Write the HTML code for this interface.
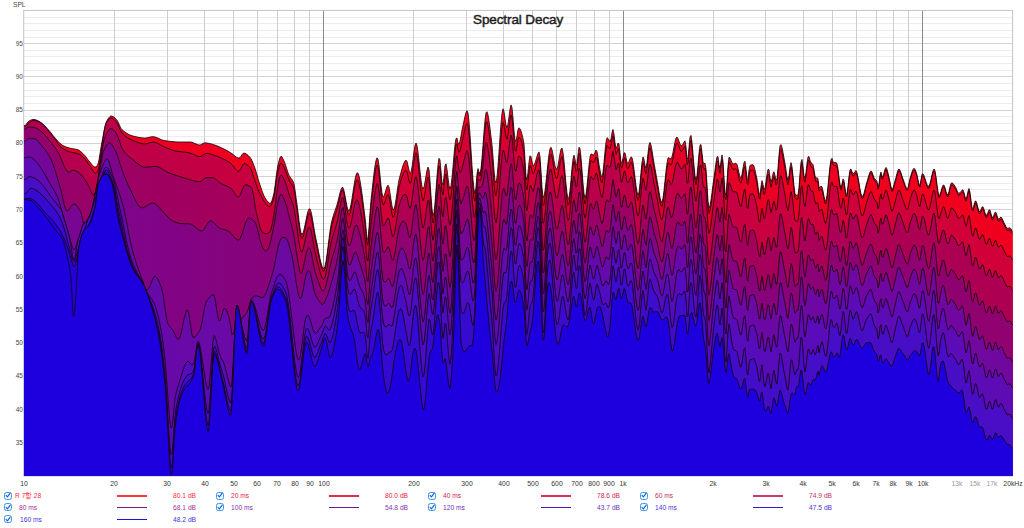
<!DOCTYPE html>
<html><head><meta charset="utf-8"><style>
html,body{margin:0;padding:0;background:#fff;width:1024px;height:528px;overflow:hidden}
body{position:relative}
</style></head><body>
<svg width="1024" height="528" viewBox="0 0 1024 528" style="position:absolute;left:0;top:0">
<defs><clipPath id="pc"><rect x="24.2" y="10.4" width="988.4" height="465.6"/></clipPath>
<linearGradient id="g0" gradientUnits="userSpaceOnUse" x1="24" y1="0" x2="1012" y2="0"><stop offset="0.000" stop-color="#e70026"/><stop offset="0.087" stop-color="#eb0023"/><stop offset="0.229" stop-color="#ee0020"/><stop offset="0.583" stop-color="#f0001e"/><stop offset="0.836" stop-color="#f0001e"/><stop offset="1.000" stop-color="#f0001e"/></linearGradient>
<linearGradient id="g1" gradientUnits="userSpaceOnUse" x1="24" y1="0" x2="1012" y2="0"><stop offset="0.000" stop-color="#ad0053"/><stop offset="0.087" stop-color="#bc0049"/><stop offset="0.229" stop-color="#c70040"/><stop offset="0.583" stop-color="#dd002f"/><stop offset="0.836" stop-color="#ef001f"/><stop offset="1.000" stop-color="#f0001e"/></linearGradient>
<linearGradient id="g2" gradientUnits="userSpaceOnUse" x1="24" y1="0" x2="1012" y2="0"><stop offset="0.000" stop-color="#8f026f"/><stop offset="0.087" stop-color="#9b0164"/><stop offset="0.229" stop-color="#a5005b"/><stop offset="0.583" stop-color="#ba004a"/><stop offset="0.836" stop-color="#cf003b"/><stop offset="1.000" stop-color="#d10039"/></linearGradient>
<linearGradient id="g3" gradientUnits="userSpaceOnUse" x1="24" y1="0" x2="1012" y2="0"><stop offset="0.000" stop-color="#71089e"/><stop offset="0.087" stop-color="#7d058b"/><stop offset="0.229" stop-color="#87037c"/><stop offset="0.583" stop-color="#9a0165"/><stop offset="0.836" stop-color="#ab0055"/><stop offset="1.000" stop-color="#ad0053"/></linearGradient>
<linearGradient id="g4" gradientUnits="userSpaceOnUse" x1="24" y1="0" x2="1012" y2="0"><stop offset="0.000" stop-color="#5d0cb5"/><stop offset="0.087" stop-color="#650aac"/><stop offset="0.229" stop-color="#6b09a5"/><stop offset="0.583" stop-color="#7c068d"/><stop offset="0.836" stop-color="#8d0272"/><stop offset="1.000" stop-color="#8f026f"/></linearGradient>
<linearGradient id="g5" gradientUnits="userSpaceOnUse" x1="24" y1="0" x2="1012" y2="0"><stop offset="0.000" stop-color="#490ec5"/><stop offset="0.087" stop-color="#510dbf"/><stop offset="0.229" stop-color="#570cba"/><stop offset="0.583" stop-color="#640aad"/><stop offset="0.836" stop-color="#6f08a1"/><stop offset="1.000" stop-color="#71089e"/></linearGradient>
<linearGradient id="g6" gradientUnits="userSpaceOnUse" x1="24" y1="0" x2="1012" y2="0"><stop offset="0.000" stop-color="#350ad2"/><stop offset="0.087" stop-color="#3d0ccd"/><stop offset="0.229" stop-color="#430dc9"/><stop offset="0.583" stop-color="#500dc0"/><stop offset="0.836" stop-color="#5b0cb7"/><stop offset="1.000" stop-color="#5d0cb5"/></linearGradient>
<linearGradient id="g7" gradientUnits="userSpaceOnUse" x1="24" y1="0" x2="1012" y2="0"><stop offset="0.000" stop-color="#1f00de"/><stop offset="0.087" stop-color="#2804d9"/><stop offset="0.229" stop-color="#2f08d5"/><stop offset="0.583" stop-color="#3c0ccd"/><stop offset="0.836" stop-color="#470ec6"/><stop offset="1.000" stop-color="#490ec5"/></linearGradient>
<linearGradient id="g8" gradientUnits="userSpaceOnUse" x1="24" y1="0" x2="1012" y2="0"><stop offset="0.000" stop-color="#1e00de"/><stop offset="0.087" stop-color="#1e00de"/><stop offset="0.229" stop-color="#1e00de"/><stop offset="0.583" stop-color="#1e00de"/><stop offset="0.836" stop-color="#1e00de"/><stop offset="1.000" stop-color="#1e00de"/></linearGradient>
</defs>
<g shape-rendering="crispEdges"><line x1="24.2" x2="1012.6" y1="469.35" y2="469.35" stroke="#ececec" stroke-width="1"/><line x1="24.2" x2="1012.6" y1="462.70" y2="462.70" stroke="#ececec" stroke-width="1"/><line x1="24.2" x2="1012.6" y1="456.05" y2="456.05" stroke="#ececec" stroke-width="1"/><line x1="24.2" x2="1012.6" y1="449.39" y2="449.39" stroke="#ececec" stroke-width="1"/><line x1="24.2" x2="1012.6" y1="442.74" y2="442.74" stroke="#d2d2d2" stroke-width="1"/><line x1="24.2" x2="1012.6" y1="436.09" y2="436.09" stroke="#ececec" stroke-width="1"/><line x1="24.2" x2="1012.6" y1="429.44" y2="429.44" stroke="#ececec" stroke-width="1"/><line x1="24.2" x2="1012.6" y1="422.79" y2="422.79" stroke="#ececec" stroke-width="1"/><line x1="24.2" x2="1012.6" y1="416.14" y2="416.14" stroke="#ececec" stroke-width="1"/><line x1="24.2" x2="1012.6" y1="409.49" y2="409.49" stroke="#d2d2d2" stroke-width="1"/><line x1="24.2" x2="1012.6" y1="402.83" y2="402.83" stroke="#ececec" stroke-width="1"/><line x1="24.2" x2="1012.6" y1="396.18" y2="396.18" stroke="#ececec" stroke-width="1"/><line x1="24.2" x2="1012.6" y1="389.53" y2="389.53" stroke="#ececec" stroke-width="1"/><line x1="24.2" x2="1012.6" y1="382.88" y2="382.88" stroke="#ececec" stroke-width="1"/><line x1="24.2" x2="1012.6" y1="376.23" y2="376.23" stroke="#d2d2d2" stroke-width="1"/><line x1="24.2" x2="1012.6" y1="369.58" y2="369.58" stroke="#ececec" stroke-width="1"/><line x1="24.2" x2="1012.6" y1="362.93" y2="362.93" stroke="#ececec" stroke-width="1"/><line x1="24.2" x2="1012.6" y1="356.27" y2="356.27" stroke="#ececec" stroke-width="1"/><line x1="24.2" x2="1012.6" y1="349.62" y2="349.62" stroke="#ececec" stroke-width="1"/><line x1="24.2" x2="1012.6" y1="342.97" y2="342.97" stroke="#d2d2d2" stroke-width="1"/><line x1="24.2" x2="1012.6" y1="336.32" y2="336.32" stroke="#ececec" stroke-width="1"/><line x1="24.2" x2="1012.6" y1="329.67" y2="329.67" stroke="#ececec" stroke-width="1"/><line x1="24.2" x2="1012.6" y1="323.02" y2="323.02" stroke="#ececec" stroke-width="1"/><line x1="24.2" x2="1012.6" y1="316.37" y2="316.37" stroke="#ececec" stroke-width="1"/><line x1="24.2" x2="1012.6" y1="309.71" y2="309.71" stroke="#d2d2d2" stroke-width="1"/><line x1="24.2" x2="1012.6" y1="303.06" y2="303.06" stroke="#ececec" stroke-width="1"/><line x1="24.2" x2="1012.6" y1="296.41" y2="296.41" stroke="#ececec" stroke-width="1"/><line x1="24.2" x2="1012.6" y1="289.76" y2="289.76" stroke="#ececec" stroke-width="1"/><line x1="24.2" x2="1012.6" y1="283.11" y2="283.11" stroke="#ececec" stroke-width="1"/><line x1="24.2" x2="1012.6" y1="276.46" y2="276.46" stroke="#d2d2d2" stroke-width="1"/><line x1="24.2" x2="1012.6" y1="269.81" y2="269.81" stroke="#ececec" stroke-width="1"/><line x1="24.2" x2="1012.6" y1="263.15" y2="263.15" stroke="#ececec" stroke-width="1"/><line x1="24.2" x2="1012.6" y1="256.50" y2="256.50" stroke="#ececec" stroke-width="1"/><line x1="24.2" x2="1012.6" y1="249.85" y2="249.85" stroke="#ececec" stroke-width="1"/><line x1="24.2" x2="1012.6" y1="243.20" y2="243.20" stroke="#d2d2d2" stroke-width="1"/><line x1="24.2" x2="1012.6" y1="236.55" y2="236.55" stroke="#ececec" stroke-width="1"/><line x1="24.2" x2="1012.6" y1="229.90" y2="229.90" stroke="#ececec" stroke-width="1"/><line x1="24.2" x2="1012.6" y1="223.25" y2="223.25" stroke="#ececec" stroke-width="1"/><line x1="24.2" x2="1012.6" y1="216.59" y2="216.59" stroke="#ececec" stroke-width="1"/><line x1="24.2" x2="1012.6" y1="209.94" y2="209.94" stroke="#d2d2d2" stroke-width="1"/><line x1="24.2" x2="1012.6" y1="203.29" y2="203.29" stroke="#ececec" stroke-width="1"/><line x1="24.2" x2="1012.6" y1="196.64" y2="196.64" stroke="#ececec" stroke-width="1"/><line x1="24.2" x2="1012.6" y1="189.99" y2="189.99" stroke="#ececec" stroke-width="1"/><line x1="24.2" x2="1012.6" y1="183.34" y2="183.34" stroke="#ececec" stroke-width="1"/><line x1="24.2" x2="1012.6" y1="176.69" y2="176.69" stroke="#d2d2d2" stroke-width="1"/><line x1="24.2" x2="1012.6" y1="170.03" y2="170.03" stroke="#ececec" stroke-width="1"/><line x1="24.2" x2="1012.6" y1="163.38" y2="163.38" stroke="#ececec" stroke-width="1"/><line x1="24.2" x2="1012.6" y1="156.73" y2="156.73" stroke="#ececec" stroke-width="1"/><line x1="24.2" x2="1012.6" y1="150.08" y2="150.08" stroke="#ececec" stroke-width="1"/><line x1="24.2" x2="1012.6" y1="143.43" y2="143.43" stroke="#d2d2d2" stroke-width="1"/><line x1="24.2" x2="1012.6" y1="136.78" y2="136.78" stroke="#ececec" stroke-width="1"/><line x1="24.2" x2="1012.6" y1="130.13" y2="130.13" stroke="#ececec" stroke-width="1"/><line x1="24.2" x2="1012.6" y1="123.47" y2="123.47" stroke="#ececec" stroke-width="1"/><line x1="24.2" x2="1012.6" y1="116.82" y2="116.82" stroke="#ececec" stroke-width="1"/><line x1="24.2" x2="1012.6" y1="110.17" y2="110.17" stroke="#d2d2d2" stroke-width="1"/><line x1="24.2" x2="1012.6" y1="103.52" y2="103.52" stroke="#ececec" stroke-width="1"/><line x1="24.2" x2="1012.6" y1="96.87" y2="96.87" stroke="#ececec" stroke-width="1"/><line x1="24.2" x2="1012.6" y1="90.22" y2="90.22" stroke="#ececec" stroke-width="1"/><line x1="24.2" x2="1012.6" y1="83.57" y2="83.57" stroke="#ececec" stroke-width="1"/><line x1="24.2" x2="1012.6" y1="76.91" y2="76.91" stroke="#d2d2d2" stroke-width="1"/><line x1="24.2" x2="1012.6" y1="70.26" y2="70.26" stroke="#ececec" stroke-width="1"/><line x1="24.2" x2="1012.6" y1="63.61" y2="63.61" stroke="#ececec" stroke-width="1"/><line x1="24.2" x2="1012.6" y1="56.96" y2="56.96" stroke="#ececec" stroke-width="1"/><line x1="24.2" x2="1012.6" y1="50.31" y2="50.31" stroke="#ececec" stroke-width="1"/><line x1="24.2" x2="1012.6" y1="43.66" y2="43.66" stroke="#d2d2d2" stroke-width="1"/><line x1="24.2" x2="1012.6" y1="37.01" y2="37.01" stroke="#ececec" stroke-width="1"/><line x1="24.2" x2="1012.6" y1="30.35" y2="30.35" stroke="#ececec" stroke-width="1"/><line x1="24.2" x2="1012.6" y1="23.70" y2="23.70" stroke="#ececec" stroke-width="1"/><line x1="24.2" x2="1012.6" y1="17.05" y2="17.05" stroke="#ececec" stroke-width="1"/><line x1="114.33" x2="114.33" y1="10.4" y2="476.0" stroke="#cdcdcd" stroke-width="1"/><line x1="167.06" x2="167.06" y1="10.4" y2="476.0" stroke="#cdcdcd" stroke-width="1"/><line x1="204.47" x2="204.47" y1="10.4" y2="476.0" stroke="#cdcdcd" stroke-width="1"/><line x1="233.49" x2="233.49" y1="10.4" y2="476.0" stroke="#cdcdcd" stroke-width="1"/><line x1="257.20" x2="257.20" y1="10.4" y2="476.0" stroke="#cdcdcd" stroke-width="1"/><line x1="277.24" x2="277.24" y1="10.4" y2="476.0" stroke="#cdcdcd" stroke-width="1"/><line x1="294.60" x2="294.60" y1="10.4" y2="476.0" stroke="#cdcdcd" stroke-width="1"/><line x1="309.92" x2="309.92" y1="10.4" y2="476.0" stroke="#cdcdcd" stroke-width="1"/><line x1="323.62" x2="323.62" y1="10.4" y2="476.0" stroke="#8a8a8a" stroke-width="1"/><line x1="413.76" x2="413.76" y1="10.4" y2="476.0" stroke="#cdcdcd" stroke-width="1"/><line x1="466.48" x2="466.48" y1="10.4" y2="476.0" stroke="#cdcdcd" stroke-width="1"/><line x1="503.89" x2="503.89" y1="10.4" y2="476.0" stroke="#cdcdcd" stroke-width="1"/><line x1="532.91" x2="532.91" y1="10.4" y2="476.0" stroke="#cdcdcd" stroke-width="1"/><line x1="556.62" x2="556.62" y1="10.4" y2="476.0" stroke="#cdcdcd" stroke-width="1"/><line x1="576.66" x2="576.66" y1="10.4" y2="476.0" stroke="#cdcdcd" stroke-width="1"/><line x1="594.03" x2="594.03" y1="10.4" y2="476.0" stroke="#cdcdcd" stroke-width="1"/><line x1="609.34" x2="609.34" y1="10.4" y2="476.0" stroke="#cdcdcd" stroke-width="1"/><line x1="623.04" x2="623.04" y1="10.4" y2="476.0" stroke="#8a8a8a" stroke-width="1"/><line x1="713.18" x2="713.18" y1="10.4" y2="476.0" stroke="#cdcdcd" stroke-width="1"/><line x1="765.90" x2="765.90" y1="10.4" y2="476.0" stroke="#cdcdcd" stroke-width="1"/><line x1="803.31" x2="803.31" y1="10.4" y2="476.0" stroke="#cdcdcd" stroke-width="1"/><line x1="832.33" x2="832.33" y1="10.4" y2="476.0" stroke="#cdcdcd" stroke-width="1"/><line x1="856.04" x2="856.04" y1="10.4" y2="476.0" stroke="#cdcdcd" stroke-width="1"/><line x1="876.08" x2="876.08" y1="10.4" y2="476.0" stroke="#cdcdcd" stroke-width="1"/><line x1="893.45" x2="893.45" y1="10.4" y2="476.0" stroke="#cdcdcd" stroke-width="1"/><line x1="908.76" x2="908.76" y1="10.4" y2="476.0" stroke="#cdcdcd" stroke-width="1"/><line x1="922.47" x2="922.47" y1="10.4" y2="476.0" stroke="#8a8a8a" stroke-width="1"/></g>
<rect x="23.7" y="10.4" width="988.9" height="465.6" fill="none" stroke="#c4c4c4" stroke-width="1"/>
<g clip-path="url(#pc)" stroke="#140008" stroke-opacity="0.88" stroke-width="0.9" stroke-linejoin="round"><path d="M18 482 L18.0 125.8 19.0 125.8 20.0 125.8 21.0 125.8 22.0 125.8 23.0 125.8 24.0 125.8 25.0 125.5 26.0 124.5 27.0 123.2 28.0 121.9 29.0 121.0 30.0 120.5 31.0 120.0 32.0 119.7 33.0 119.4 34.0 119.4 35.0 119.6 36.0 119.9 37.0 120.3 38.0 120.8 39.0 121.3 40.0 121.9 41.0 122.5 42.0 123.3 43.0 124.1 44.0 125.1 45.0 126.1 46.0 127.1 47.0 128.2 48.0 129.3 49.0 130.4 50.0 131.6 51.0 132.9 52.0 134.2 53.0 135.5 54.0 136.7 55.0 137.8 56.0 139.0 57.0 140.1 58.0 141.2 59.0 142.3 60.0 143.3 61.0 144.2 62.0 145.0 63.0 145.5 64.0 146.0 65.0 146.5 66.0 146.9 67.0 147.3 68.0 147.6 69.0 147.9 70.0 148.2 71.0 148.4 72.0 148.6 73.0 148.8 74.0 148.9 75.0 149.1 76.0 149.3 77.0 149.5 78.0 149.8 79.0 150.3 80.0 151.0 81.0 151.8 82.0 152.7 83.0 153.6 84.0 154.6 85.0 155.7 86.0 157.0 87.0 158.3 88.0 159.7 89.0 161.0 90.0 162.1 91.0 163.4 92.0 164.7 93.0 165.9 94.0 166.8 95.0 167.1 96.0 166.8 97.0 165.9 98.0 164.0 99.0 159.6 100.0 153.6 101.0 147.3 102.0 141.9 103.0 136.6 104.0 131.1 105.0 126.2 106.0 122.6 107.0 120.6 108.0 118.9 109.0 117.5 110.0 116.5 111.0 116.0 112.0 116.1 113.0 116.5 114.0 117.2 115.0 118.1 116.0 119.1 117.0 120.2 118.0 121.8 119.0 124.0 120.0 126.3 121.0 128.4 122.0 129.6 123.0 130.5 124.0 131.3 125.0 132.1 126.0 132.8 127.0 133.4 128.0 134.0 129.0 134.5 130.0 135.0 131.0 135.4 132.0 135.7 133.0 136.0 134.0 136.3 135.0 136.5 136.0 136.7 137.0 137.0 138.0 137.2 139.0 137.4 140.0 137.6 141.0 137.7 142.0 137.8 143.0 137.9 144.0 138.0 145.0 138.0 146.0 137.9 147.0 137.8 148.0 137.6 149.0 137.3 150.0 137.1 151.0 136.9 152.0 136.7 153.0 136.7 154.0 136.8 155.0 137.0 156.0 137.3 157.0 137.7 158.0 138.1 159.0 138.6 160.0 139.0 161.0 139.5 162.0 139.9 163.0 140.2 164.0 140.5 165.0 140.7 166.0 140.8 167.0 140.9 168.0 141.1 169.0 141.2 170.0 141.3 171.0 141.4 172.0 141.6 173.0 141.6 174.0 141.7 175.0 141.8 176.0 141.9 177.0 141.9 178.0 142.0 179.0 142.0 180.0 142.0 181.0 142.0 182.0 142.0 183.0 142.0 184.0 142.0 185.0 142.0 186.0 142.0 187.0 142.0 188.0 142.0 189.0 142.0 190.0 142.0 191.0 142.1 192.0 142.3 193.0 142.7 194.0 143.1 195.0 143.5 196.0 144.0 197.0 144.4 198.0 144.7 199.0 144.9 200.0 145.0 201.0 144.7 202.0 144.1 203.0 143.4 204.0 142.9 205.0 142.8 206.0 142.9 207.0 143.0 208.0 143.2 209.0 143.4 210.0 143.6 211.0 143.9 212.0 144.2 213.0 144.5 214.0 144.8 215.0 145.1 216.0 145.5 217.0 145.8 218.0 146.2 219.0 146.7 220.0 147.1 221.0 147.6 222.0 148.1 223.0 148.6 224.0 149.0 225.0 149.6 226.0 150.1 227.0 150.6 228.0 151.2 229.0 151.8 230.0 152.4 231.0 153.0 232.0 153.6 233.0 154.4 234.0 155.2 235.0 156.1 236.0 156.9 237.0 157.5 238.0 157.9 239.0 158.1 240.0 157.5 241.0 156.2 242.0 154.6 243.0 153.4 244.0 153.1 245.0 153.3 246.0 153.8 247.0 154.5 248.0 155.3 249.0 156.3 250.0 157.3 251.0 158.7 252.0 160.7 253.0 163.1 254.0 165.7 255.0 168.3 256.0 171.5 257.0 175.0 258.0 178.5 259.0 181.9 260.0 184.9 261.0 187.8 262.0 190.7 263.0 193.4 264.0 195.8 265.0 197.8 266.0 199.3 267.0 200.7 268.0 202.0 269.0 202.9 270.0 203.4 271.0 202.8 272.0 200.4 273.0 197.0 274.0 192.8 275.0 186.1 276.0 178.1 277.0 170.5 278.0 164.8 279.0 160.9 280.0 157.6 281.0 156.2 282.0 157.0 283.0 158.9 284.0 161.1 285.0 163.4 286.0 166.4 287.0 169.6 288.0 172.8 289.0 175.3 290.0 177.0 291.0 178.3 292.0 179.6 293.0 181.2 294.0 183.9 295.0 189.8 296.0 197.3 297.0 204.2 298.0 212.1 299.0 220.4 300.0 227.6 301.0 232.7 302.0 234.4 303.0 232.9 304.0 229.6 305.0 225.0 306.0 220.0 307.0 215.1 308.0 211.2 309.0 208.9 310.0 209.0 311.0 211.6 312.0 216.1 313.0 221.9 314.0 228.1 315.0 234.0 316.0 239.0 317.0 243.6 318.0 248.6 319.0 253.7 320.0 258.6 321.0 262.8 322.0 266.2 323.0 268.2 324.0 268.6 325.0 266.2 326.0 261.3 327.0 254.5 328.0 246.7 329.0 238.7 330.0 231.1 331.0 224.8 332.0 220.3 333.0 216.8 334.0 213.6 335.0 210.7 336.0 207.7 337.0 204.7 338.0 201.0 339.0 196.9 340.0 192.8 341.0 189.4 342.0 187.5 343.0 187.6 344.0 190.7 345.0 195.6 346.0 201.2 347.0 206.4 348.0 210.1 349.0 210.9 350.0 208.8 351.0 204.4 352.0 198.6 353.0 192.0 354.0 185.4 355.0 179.5 356.0 175.1 357.0 172.8 358.0 173.3 359.0 176.0 360.0 180.6 361.0 186.6 362.0 193.6 363.0 201.4 364.0 209.4 365.0 217.2 366.0 227.4 367.0 238.6 368.0 238.9 369.0 227.8 370.0 212.5 371.0 200.0 372.0 190.9 373.0 181.8 374.0 173.1 375.0 165.8 376.0 160.4 377.0 157.8 378.0 159.2 379.0 165.7 380.0 175.2 381.0 185.2 382.0 193.2 383.0 196.9 384.0 195.9 385.0 193.1 386.0 189.7 387.0 186.6 388.0 185.2 389.0 187.2 390.0 192.7 391.0 199.7 392.0 206.1 393.0 209.8 394.0 209.1 395.0 205.3 396.0 199.3 397.0 192.4 398.0 185.6 399.0 179.9 400.0 176.0 401.0 172.4 402.0 168.8 403.0 165.5 404.0 162.9 405.0 161.0 406.0 160.1 407.0 161.4 408.0 165.6 409.0 170.3 410.0 173.3 411.0 172.2 412.0 167.0 413.0 159.5 414.0 151.6 415.0 145.5 416.0 143.0 417.0 145.5 418.0 152.1 419.0 161.1 420.0 170.9 421.0 179.9 422.0 186.5 423.0 189.0 424.0 186.9 425.0 181.9 426.0 175.7 427.0 170.2 428.0 167.0 429.0 169.6 430.0 180.8 431.0 195.8 432.0 209.1 433.0 215.5 434.0 212.4 435.0 203.0 436.0 190.0 437.0 176.4 438.0 164.9 439.0 158.3 440.0 160.0 441.0 171.0 442.0 182.4 443.0 185.0 444.0 176.2 445.0 165.7 446.0 163.8 447.0 169.3 448.0 177.7 449.0 185.4 450.0 188.8 451.0 185.6 452.0 177.5 453.0 166.6 454.0 155.0 455.0 144.9 456.0 138.5 457.0 138.1 458.0 143.0 459.0 144.3 460.0 141.1 461.0 135.8 462.0 130.1 463.0 125.4 464.0 120.9 465.0 116.3 466.0 112.5 467.0 110.7 468.0 113.0 469.0 121.6 470.0 134.5 471.0 149.8 472.0 165.4 473.0 179.2 474.0 189.3 475.0 193.7 476.0 187.2 477.0 173.8 478.0 168.6 479.0 171.9 480.0 173.6 481.0 168.7 482.0 158.4 483.0 145.3 484.0 131.8 485.0 120.1 486.0 112.8 487.0 111.7 488.0 114.9 489.0 120.7 490.0 128.2 491.0 136.4 492.0 144.5 493.0 156.6 494.0 170.2 495.0 180.4 496.0 182.6 497.0 176.9 498.0 165.9 499.0 151.9 500.0 136.9 501.0 123.3 502.0 113.2 503.0 108.8 504.0 111.4 505.0 118.3 506.0 125.1 507.0 127.8 508.0 124.1 509.0 116.8 510.0 109.3 511.0 104.9 512.0 107.6 513.0 117.9 514.0 130.5 515.0 140.0 516.0 141.3 517.0 136.0 518.0 129.8 519.0 127.8 520.0 128.8 521.0 131.0 522.0 134.3 523.0 138.4 524.0 143.8 525.0 159.6 526.0 176.5 527.0 179.6 528.0 172.3 529.0 162.3 530.0 155.7 531.0 156.7 532.0 161.6 533.0 165.5 534.0 165.3 535.0 163.0 536.0 159.7 537.0 156.3 538.0 153.4 539.0 151.9 540.0 156.7 541.0 171.3 542.0 187.7 543.0 197.3 544.0 196.0 545.0 190.5 546.0 182.1 547.0 172.4 548.0 162.7 549.0 154.3 550.0 148.8 551.0 147.3 552.0 149.8 553.0 154.7 554.0 160.6 555.0 165.9 556.0 169.3 557.0 169.3 558.0 165.5 559.0 159.8 560.0 153.8 561.0 149.2 562.0 148.0 563.0 152.4 564.0 161.1 565.0 172.3 566.0 183.6 567.0 193.1 568.0 198.5 569.0 197.6 570.0 190.3 571.0 179.4 572.0 168.0 573.0 158.9 574.0 155.2 575.0 159.2 576.0 165.0 577.0 163.7 578.0 154.7 579.0 147.2 580.0 148.7 581.0 157.5 582.0 170.1 583.0 183.2 584.0 193.4 585.0 197.6 586.0 194.4 587.0 186.3 588.0 175.8 589.0 165.2 590.0 157.1 591.0 153.9 592.0 154.3 593.0 155.0 594.0 154.9 595.0 152.4 596.0 150.1 597.0 151.5 598.0 157.4 599.0 164.6 600.0 170.0 601.0 175.2 602.0 176.8 603.0 171.9 604.0 162.3 605.0 151.3 606.0 142.1 607.0 137.7 608.0 138.5 609.0 140.2 610.0 141.5 611.0 138.9 612.0 132.5 613.0 129.5 614.0 134.3 615.0 142.6 616.0 148.1 617.0 146.6 618.0 143.0 619.0 143.9 620.0 152.9 621.0 161.9 622.0 162.7 623.0 157.8 624.0 152.9 625.0 152.9 626.0 157.5 627.0 162.4 628.0 163.3 629.0 161.4 630.0 158.8 631.0 156.9 632.0 157.5 633.0 162.0 634.0 169.2 635.0 177.4 636.0 185.4 637.0 191.7 638.0 194.7 639.0 192.2 640.0 183.5 641.0 172.3 642.0 162.2 643.0 156.9 644.0 159.3 645.0 165.4 646.0 167.8 647.0 162.4 648.0 153.2 649.0 145.0 650.0 142.4 651.0 145.1 652.0 150.4 653.0 156.9 654.0 163.0 655.0 168.4 656.0 174.2 657.0 179.7 658.0 185.4 659.0 191.8 660.0 197.6 661.0 201.5 662.0 202.1 663.0 198.1 664.0 190.4 665.0 180.9 666.0 171.2 667.0 163.0 668.0 158.1 669.0 157.6 670.0 158.6 671.0 158.9 672.0 156.7 673.0 152.3 674.0 146.9 675.0 141.8 676.0 138.1 677.0 137.0 678.0 138.5 679.0 141.2 680.0 144.0 681.0 145.8 682.0 145.7 683.0 144.0 684.0 142.0 685.0 140.8 686.0 146.7 687.0 158.8 688.0 158.1 689.0 147.6 690.0 137.1 691.0 135.4 692.0 142.3 693.0 153.6 694.0 166.0 695.0 175.9 696.0 180.0 697.0 175.6 698.0 165.3 699.0 153.7 700.0 145.2 701.0 144.5 702.0 152.7 703.0 161.9 704.0 163.9 705.0 163.2 706.0 168.6 707.0 184.6 708.0 201.3 709.0 207.9 710.0 205.4 711.0 199.9 712.0 192.4 713.0 184.5 714.0 177.2 715.0 170.3 716.0 162.5 717.0 156.8 718.0 156.7 719.0 164.6 720.0 168.2 721.0 161.2 722.0 154.9 723.0 161.6 724.0 178.0 725.0 192.8 726.0 194.6 727.0 182.3 728.0 166.2 729.0 157.2 730.0 158.0 731.0 160.2 732.0 162.6 733.0 164.0 734.0 163.9 735.0 163.5 736.0 163.2 737.0 164.4 738.0 168.2 739.0 173.0 740.0 176.8 741.0 177.9 742.0 174.3 743.0 168.2 744.0 162.7 745.0 161.2 746.0 168.7 747.0 178.3 748.0 179.3 749.0 170.2 750.0 165.4 751.0 165.0 752.0 164.8 753.0 164.7 754.0 166.3 755.0 169.9 756.0 174.4 757.0 179.1 758.0 186.4 759.0 193.1 760.0 194.3 761.0 186.4 762.0 180.6 763.0 184.5 764.0 189.5 765.0 187.8 766.0 181.7 767.0 174.4 768.0 169.3 769.0 169.9 770.0 177.3 771.0 182.1 772.0 179.0 773.0 173.6 774.0 171.7 775.0 175.5 776.0 180.0 777.0 178.5 778.0 168.3 779.0 155.3 780.0 145.7 781.0 144.6 782.0 147.6 783.0 152.5 784.0 158.1 785.0 163.5 786.0 169.9 787.0 176.8 788.0 180.0 789.0 175.5 790.0 167.1 791.0 162.6 792.0 166.6 793.0 175.7 794.0 186.1 795.0 193.7 796.0 195.2 797.0 195.2 798.0 195.1 799.0 187.8 800.0 174.1 801.0 162.1 802.0 159.4 803.0 166.7 804.0 175.8 805.0 178.1 806.0 172.3 807.0 163.6 808.0 156.9 809.0 156.5 810.0 160.3 811.0 162.8 812.0 163.4 813.0 164.6 814.0 169.5 815.0 175.6 816.0 178.5 817.0 177.5 818.0 178.9 819.0 187.5 820.0 187.1 821.0 186.1 822.0 186.8 823.0 190.9 824.0 196.3 825.0 200.4 826.0 200.7 827.0 195.4 828.0 186.4 829.0 175.9 830.0 166.2 831.0 159.6 832.0 158.3 833.0 161.7 834.0 162.6 835.0 162.6 836.0 162.6 837.0 163.5 838.0 169.1 839.0 177.2 840.0 184.4 841.0 187.6 842.0 183.9 843.0 178.9 844.0 180.7 845.0 188.1 846.0 194.4 847.0 193.7 848.0 186.2 849.0 176.7 850.0 169.7 851.0 169.1 852.0 171.7 853.0 173.8 854.0 173.2 855.0 171.5 856.0 170.6 857.0 172.6 858.0 177.2 859.0 183.0 860.0 189.0 861.0 193.9 862.0 196.5 863.0 196.0 864.0 193.2 865.0 189.2 866.0 185.1 867.0 181.7 868.0 178.3 869.0 174.9 870.0 172.1 871.0 170.9 872.0 172.0 873.0 174.9 874.0 177.7 875.0 179.2 876.0 180.0 877.0 181.3 878.0 187.1 879.0 184.0 880.0 175.3 881.0 172.0 882.0 176.7 883.0 176.4 884.0 173.0 885.0 169.2 886.0 167.4 887.0 169.2 888.0 173.1 889.0 177.3 890.0 181.9 891.0 186.8 892.0 189.4 893.0 188.1 894.0 184.7 895.0 180.9 896.0 177.5 897.0 173.4 898.0 170.1 899.0 168.9 900.0 170.2 901.0 172.9 902.0 176.1 903.0 178.7 904.0 181.6 905.0 184.7 906.0 187.2 907.0 188.5 908.0 187.4 909.0 183.1 910.0 178.3 911.0 175.1 912.0 171.9 913.0 169.4 914.0 168.2 915.0 169.2 916.0 171.6 917.0 174.9 918.0 179.9 919.0 184.4 920.0 185.2 921.0 179.9 922.0 174.2 923.0 173.8 924.0 175.7 925.0 178.5 926.0 181.7 927.0 184.4 928.0 186.2 929.0 186.0 930.0 183.4 931.0 179.3 932.0 174.7 933.0 170.9 934.0 169.0 935.0 170.8 936.0 177.0 937.0 185.0 938.0 192.1 939.0 195.5 940.0 194.4 941.0 191.4 942.0 187.9 943.0 185.3 944.0 185.1 945.0 187.7 946.0 191.4 947.0 194.4 948.0 194.7 949.0 191.5 950.0 187.0 951.0 183.4 952.0 182.8 953.0 183.5 954.0 184.8 955.0 186.2 956.0 187.9 957.0 190.4 958.0 192.7 959.0 193.4 960.0 192.7 961.0 191.4 962.0 190.2 963.0 189.8 964.0 192.5 965.0 196.7 966.0 199.0 967.0 196.3 968.0 191.2 969.0 188.5 970.0 192.4 971.0 200.5 972.0 207.5 973.0 208.6 974.0 205.0 975.0 201.3 976.0 201.1 977.0 204.0 978.0 208.0 979.0 211.2 980.0 211.5 981.0 209.4 982.0 207.1 983.0 206.8 984.0 209.3 985.0 212.8 986.0 215.3 987.0 215.0 988.0 212.4 989.0 209.9 990.0 210.1 991.0 213.7 992.0 217.3 993.0 217.4 994.0 214.9 995.0 212.3 996.0 212.4 997.0 215.6 998.0 218.8 999.0 219.1 1000.0 217.7 1001.0 217.1 1002.0 218.3 1003.0 220.4 1004.0 222.7 1005.0 224.6 1006.0 226.6 1007.0 228.2 1008.0 228.4 1009.0 228.0 1010.0 227.7 1011.0 228.9 1012.0 230.8 1013.0 231.7 1014.0 232.1 1015.0 232.5 1016.0 232.8 1017.0 232.9 1018.0 233.0 L1019 482Z" fill="url(#g0)"/><path d="M18 482 L18.0 126.5 19.0 126.5 20.0 126.5 21.0 126.5 22.0 126.4 23.0 126.4 24.0 126.3 25.0 126.1 26.0 125.7 27.0 125.0 28.0 124.1 29.0 123.2 30.0 122.3 31.0 121.5 32.0 120.8 33.0 120.5 34.0 120.4 35.0 120.5 36.0 120.8 37.0 121.1 38.0 121.5 39.0 122.0 40.0 122.4 41.0 123.0 42.0 123.8 43.0 124.7 44.0 125.7 45.0 126.8 46.0 127.9 47.0 129.1 48.0 130.3 49.0 131.5 50.0 132.7 51.0 133.8 52.0 135.1 53.0 136.4 54.0 137.8 55.0 139.3 56.0 140.7 57.0 142.2 58.0 143.5 59.0 144.8 60.0 146.0 61.0 147.0 62.0 147.9 63.0 148.6 64.0 149.2 65.0 149.8 66.0 150.4 67.0 150.9 68.0 151.3 69.0 151.7 70.0 152.0 71.0 152.2 72.0 152.4 73.0 152.6 74.0 152.8 75.0 152.9 76.0 153.1 77.0 153.3 78.0 153.6 79.0 154.1 80.0 154.7 81.0 155.4 82.0 156.1 83.0 157.0 84.0 157.9 85.0 159.0 86.0 160.3 87.0 161.8 88.0 163.2 89.0 164.7 90.0 166.0 91.0 167.5 92.0 169.2 93.0 170.8 94.0 172.1 95.0 173.0 96.0 173.2 97.0 172.2 98.0 170.2 99.0 167.1 100.0 160.6 101.0 152.3 102.0 145.0 103.0 138.6 104.0 132.2 105.0 126.8 106.0 123.5 107.0 121.7 108.0 120.2 109.0 119.0 110.0 118.3 111.0 118.0 112.0 118.2 113.0 118.7 114.0 119.5 115.0 120.5 116.0 121.5 117.0 122.9 118.0 124.9 119.0 127.2 120.0 129.5 121.0 131.6 122.0 133.0 123.0 134.0 124.0 134.9 125.0 135.8 126.0 136.6 127.0 137.3 128.0 138.0 129.0 138.6 130.0 139.1 131.0 139.6 132.0 140.1 133.0 140.5 134.0 140.9 135.0 141.3 136.0 141.7 137.0 142.1 138.0 142.5 139.0 142.8 140.0 143.1 141.0 143.4 142.0 143.6 143.0 143.8 144.0 143.9 145.0 143.9 146.0 143.8 147.0 143.6 148.0 143.3 149.0 142.9 150.0 142.6 151.0 142.3 152.0 142.1 153.0 142.0 154.0 142.1 155.0 142.3 156.0 142.6 157.0 143.1 158.0 143.5 159.0 144.1 160.0 144.6 161.0 145.2 162.0 145.8 163.0 146.3 164.0 146.8 165.0 147.2 166.0 147.6 167.0 148.0 168.0 148.4 169.0 148.8 170.0 149.1 171.0 149.5 172.0 149.9 173.0 150.2 174.0 150.5 175.0 150.8 176.0 151.0 177.0 151.2 178.0 151.4 179.0 151.5 180.0 151.6 181.0 151.8 182.0 151.9 183.0 152.0 184.0 152.1 185.0 152.2 186.0 152.3 187.0 152.5 188.0 152.6 189.0 152.8 190.0 153.0 191.0 153.3 192.0 153.6 193.0 154.1 194.0 154.6 195.0 155.1 196.0 155.5 197.0 156.0 198.0 156.3 199.0 156.5 200.0 156.6 201.0 156.4 202.0 155.8 203.0 155.1 204.0 154.3 205.0 153.7 206.0 153.4 207.0 153.4 208.0 153.5 209.0 153.7 210.0 153.9 211.0 154.2 212.0 154.6 213.0 154.9 214.0 155.2 215.0 155.6 216.0 155.9 217.0 156.3 218.0 156.7 219.0 157.0 220.0 157.4 221.0 157.9 222.0 158.3 223.0 158.8 224.0 159.3 225.0 159.8 226.0 160.4 227.0 161.0 228.0 161.6 229.0 162.2 230.0 162.9 231.0 163.6 232.0 164.5 233.0 165.8 234.0 167.2 235.0 168.6 236.0 169.9 237.0 170.9 238.0 171.4 239.0 171.1 240.0 170.0 241.0 168.3 242.0 166.4 243.0 164.7 244.0 163.7 245.0 163.6 246.0 164.0 247.0 164.6 248.0 165.4 249.0 166.4 250.0 167.5 251.0 169.2 252.0 171.8 253.0 174.9 254.0 178.0 255.0 180.8 256.0 183.7 257.0 186.6 258.0 189.3 259.0 191.7 260.0 193.7 261.0 195.6 262.0 197.6 263.0 199.4 264.0 201.2 265.0 202.8 266.0 204.2 267.0 205.3 268.0 206.1 269.0 206.5 270.0 206.5 271.0 205.4 272.0 203.4 273.0 200.9 274.0 197.4 275.0 191.1 276.0 183.4 277.0 176.1 278.0 170.7 279.0 167.0 280.0 164.0 281.0 163.1 282.0 163.7 283.0 165.2 284.0 167.2 285.0 169.3 286.0 171.9 287.0 174.7 288.0 177.5 289.0 180.0 290.0 181.9 291.0 183.4 292.0 184.9 293.0 186.7 294.0 189.4 295.0 195.4 296.0 202.9 297.0 209.7 298.0 217.5 299.0 225.5 300.0 232.4 301.0 237.1 302.0 238.5 303.0 236.8 304.0 233.4 305.0 228.8 306.0 223.8 307.0 219.1 308.0 215.4 309.0 213.2 310.0 213.4 311.0 216.1 312.0 220.7 313.0 226.4 314.0 232.5 315.0 238.3 316.0 243.1 317.0 247.5 318.0 252.3 319.0 257.2 320.0 261.8 321.0 265.9 322.0 269.0 323.0 270.9 324.0 271.2 325.0 268.9 326.0 264.2 327.0 257.7 328.0 250.4 329.0 242.7 330.0 235.5 331.0 229.4 332.0 225.0 333.0 221.5 334.0 218.3 335.0 215.4 336.0 212.4 337.0 209.2 338.0 205.4 339.0 201.0 340.0 196.5 341.0 192.6 342.0 190.2 343.0 190.2 344.0 193.4 345.0 198.7 346.0 204.9 347.0 210.5 348.0 214.4 349.0 215.5 350.0 213.6 351.0 209.5 352.0 203.9 353.0 197.6 354.0 191.3 355.0 185.8 356.0 181.8 357.0 180.0 358.0 180.7 359.0 183.5 360.0 188.0 361.0 193.7 362.0 200.5 363.0 207.8 364.0 215.5 365.0 223.1 366.0 233.1 367.0 244.4 368.0 244.9 369.0 234.0 370.0 218.9 371.0 206.6 372.0 197.8 373.0 188.9 374.0 180.3 375.0 173.0 376.0 167.6 377.0 164.9 378.0 166.2 379.0 172.7 380.0 182.3 381.0 192.5 382.0 200.8 383.0 204.9 384.0 204.3 385.0 201.8 386.0 198.6 387.0 195.8 388.0 194.4 389.0 196.2 390.0 201.5 391.0 208.2 392.0 214.2 393.0 217.4 394.0 216.4 395.0 212.5 396.0 206.5 397.0 199.7 398.0 192.9 399.0 187.3 400.0 183.7 401.0 180.2 402.0 177.0 403.0 174.2 404.0 172.0 405.0 170.6 406.0 170.2 407.0 171.8 408.0 176.1 409.0 180.7 410.0 183.5 411.0 182.1 412.0 176.6 413.0 169.0 414.0 161.2 415.0 155.2 416.0 152.9 417.0 155.7 418.0 162.6 419.0 171.8 420.0 181.8 421.0 191.0 422.0 197.8 423.0 200.6 424.0 198.5 425.0 193.3 426.0 186.7 427.0 180.6 428.0 176.9 429.0 178.9 430.0 189.5 431.0 204.0 432.0 216.9 433.0 223.0 434.0 219.5 435.0 209.9 436.0 197.0 437.0 183.6 438.0 172.3 439.0 166.1 440.0 168.2 441.0 179.7 442.0 191.8 443.0 194.7 444.0 186.1 445.0 175.7 446.0 174.0 447.0 179.9 448.0 188.6 449.0 196.6 450.0 200.0 451.0 196.6 452.0 188.1 453.0 176.7 454.0 164.1 455.0 152.5 456.0 144.6 457.0 143.6 458.0 149.3 459.0 152.3 460.0 150.9 461.0 147.1 462.0 141.9 463.0 137.7 464.0 133.4 465.0 128.9 466.0 125.2 467.0 123.3 468.0 125.4 469.0 133.5 470.0 146.0 471.0 160.7 472.0 175.7 473.0 188.8 474.0 197.9 475.0 201.2 476.0 193.5 477.0 178.7 478.0 172.0 479.0 174.4 480.0 176.0 481.0 171.8 482.0 163.1 483.0 151.6 484.0 139.4 485.0 128.7 486.0 122.3 487.0 122.0 488.0 125.8 489.0 132.1 490.0 139.8 491.0 148.1 492.0 156.4 493.0 168.8 494.0 182.7 495.0 193.2 496.0 195.7 497.0 190.3 498.0 179.6 499.0 165.8 500.0 151.1 501.0 137.5 502.0 127.3 503.0 122.5 504.0 124.6 505.0 130.9 506.0 137.2 507.0 139.3 508.0 135.0 509.0 127.3 510.0 119.5 511.0 115.0 512.0 117.6 513.0 127.9 514.0 140.5 515.0 150.0 516.0 151.2 517.0 145.7 518.0 139.2 519.0 137.1 520.0 138.0 521.0 140.1 522.0 143.4 523.0 147.5 524.0 153.0 525.0 169.2 526.0 186.5 527.0 189.7 528.0 182.4 529.0 172.3 530.0 165.4 531.0 166.1 532.0 170.6 533.0 173.9 534.0 172.9 535.0 169.9 536.0 165.9 537.0 162.0 538.0 158.9 539.0 157.7 540.0 162.9 541.0 178.4 542.0 195.6 543.0 205.6 544.0 204.3 545.0 198.1 546.0 189.0 547.0 178.7 548.0 168.9 549.0 160.8 550.0 155.4 551.0 154.3 552.0 157.2 553.0 162.5 554.0 168.8 555.0 174.5 556.0 178.2 557.0 178.3 558.0 174.7 559.0 169.0 560.0 162.8 561.0 158.1 562.0 156.6 563.0 160.6 564.0 169.0 565.0 179.9 566.0 190.9 567.0 200.1 568.0 205.3 569.0 204.2 570.0 196.8 571.0 185.9 572.0 174.3 573.0 165.2 574.0 161.6 575.0 165.7 576.0 171.7 577.0 170.4 578.0 161.2 579.0 153.5 580.0 155.0 581.0 163.6 582.0 176.2 583.0 189.3 584.0 199.6 585.0 203.8 586.0 200.5 587.0 192.4 588.0 181.9 589.0 171.5 590.0 163.6 591.0 160.6 592.0 161.4 593.0 162.3 594.0 162.1 595.0 159.5 596.0 156.9 597.0 158.0 598.0 163.7 599.0 170.7 600.0 176.0 601.0 181.1 602.0 182.9 603.0 178.2 604.0 169.1 605.0 158.6 606.0 149.7 607.0 145.6 608.0 146.4 609.0 148.0 610.0 148.9 611.0 145.9 612.0 139.1 613.0 135.7 614.0 140.5 615.0 148.8 616.0 154.2 617.0 152.5 618.0 148.7 619.0 149.4 620.0 158.4 621.0 167.4 622.0 168.1 623.0 163.1 624.0 158.1 625.0 158.0 626.0 162.8 627.0 167.7 628.0 168.7 629.0 166.8 630.0 164.2 631.0 162.3 632.0 162.9 633.0 167.5 634.0 174.7 635.0 183.1 636.0 191.1 637.0 197.4 638.0 200.5 639.0 197.9 640.0 189.2 641.0 177.9 642.0 167.8 643.0 162.5 644.0 164.9 645.0 171.3 646.0 173.7 647.0 168.3 648.0 159.0 649.0 150.6 650.0 148.0 651.0 150.6 652.0 155.8 653.0 162.2 654.0 168.1 655.0 173.4 656.0 179.0 657.0 184.3 658.0 189.9 659.0 196.2 660.0 201.9 661.0 205.8 662.0 206.5 663.0 202.5 664.0 195.0 665.0 185.6 666.0 176.0 667.0 168.1 668.0 163.4 669.0 163.1 670.0 164.4 671.0 165.1 672.0 163.2 673.0 158.8 674.0 153.4 675.0 148.1 676.0 144.2 677.0 143.0 678.0 144.3 679.0 146.8 680.0 149.5 681.0 151.3 682.0 151.1 683.0 149.4 684.0 147.5 685.0 146.3 686.0 152.2 687.0 164.4 688.0 163.8 689.0 153.1 690.0 142.4 691.0 140.6 692.0 147.3 693.0 158.6 694.0 170.9 695.0 180.7 696.0 184.7 697.0 180.2 698.0 169.8 699.0 158.1 700.0 149.6 701.0 149.1 702.0 157.5 703.0 166.9 704.0 169.0 705.0 168.4 706.0 173.8 707.0 190.0 708.0 206.7 709.0 213.3 710.0 210.7 711.0 205.0 712.0 197.4 713.0 189.3 714.0 182.0 715.0 175.0 716.0 167.2 717.0 161.5 718.0 161.5 719.0 169.5 720.0 173.1 721.0 166.0 722.0 159.6 723.0 166.4 724.0 183.0 725.0 197.9 726.0 199.7 727.0 187.4 728.0 171.2 729.0 162.2 730.0 163.1 731.0 165.4 732.0 168.0 733.0 169.4 734.0 169.3 735.0 169.0 736.0 168.7 737.0 169.8 738.0 173.7 739.0 178.4 740.0 182.2 741.0 183.3 742.0 179.7 743.0 173.5 744.0 167.9 745.0 166.4 746.0 174.0 747.0 183.7 748.0 184.7 749.0 175.6 750.0 170.7 751.0 170.3 752.0 170.0 753.0 169.9 754.0 171.5 755.0 175.0 756.0 179.5 757.0 184.1 758.0 191.3 759.0 198.1 760.0 199.2 761.0 191.2 762.0 185.4 763.0 189.4 764.0 194.5 765.0 192.8 766.0 186.8 767.0 179.5 768.0 174.4 769.0 175.0 770.0 182.4 771.0 187.2 772.0 184.0 773.0 178.5 774.0 176.5 775.0 180.3 776.0 184.9 777.0 183.4 778.0 173.2 779.0 160.1 780.0 150.5 781.0 149.5 782.0 152.5 783.0 157.4 784.0 163.0 785.0 168.3 786.0 174.7 787.0 181.6 788.0 184.7 789.0 180.1 790.0 171.6 791.0 167.0 792.0 170.8 793.0 179.9 794.0 190.2 795.0 197.7 796.0 199.1 797.0 199.0 798.0 198.9 799.0 191.6 800.0 177.9 801.0 165.8 802.0 163.2 803.0 170.6 804.0 179.8 805.0 182.2 806.0 176.4 807.0 167.7 808.0 160.9 809.0 160.5 810.0 164.3 811.0 166.7 812.0 167.3 813.0 168.4 814.0 173.2 815.0 179.2 816.0 182.0 817.0 180.9 818.0 182.2 819.0 190.8 820.0 190.3 821.0 189.2 822.0 189.9 823.0 193.9 824.0 199.3 825.0 203.4 826.0 203.7 827.0 198.4 828.0 189.4 829.0 178.9 830.0 169.2 831.0 162.6 832.0 161.4 833.0 164.8 834.0 165.7 835.0 165.7 836.0 165.6 837.0 166.4 838.0 172.0 839.0 180.0 840.0 187.2 841.0 190.2 842.0 186.4 843.0 181.3 844.0 183.0 845.0 190.5 846.0 196.9 847.0 196.1 848.0 188.7 849.0 179.1 850.0 172.1 851.0 171.5 852.0 174.2 853.0 176.3 854.0 175.7 855.0 173.9 856.0 173.0 857.0 175.0 858.0 179.5 859.0 185.3 860.0 191.2 861.0 196.1 862.0 198.7 863.0 198.2 864.0 195.4 865.0 191.4 866.0 187.2 867.0 183.9 868.0 180.5 869.0 177.1 870.0 174.4 871.0 173.1 872.0 174.2 873.0 177.1 874.0 180.0 875.0 181.4 876.0 182.2 877.0 183.5 878.0 189.4 879.0 186.3 880.0 177.5 881.0 174.2 882.0 179.0 883.0 178.7 884.0 175.2 885.0 171.4 886.0 169.6 887.0 171.4 888.0 175.3 889.0 179.5 890.0 184.0 891.0 188.9 892.0 191.5 893.0 190.2 894.0 186.7 895.0 182.9 896.0 179.4 897.0 175.4 898.0 172.0 899.0 170.8 900.0 172.1 901.0 174.9 902.0 178.0 903.0 180.7 904.0 183.5 905.0 186.6 906.0 189.1 907.0 190.4 908.0 189.3 909.0 185.0 910.0 180.3 911.0 177.1 912.0 173.9 913.0 171.3 914.0 170.2 915.0 171.1 916.0 173.6 917.0 176.8 918.0 181.8 919.0 186.3 920.0 187.1 921.0 181.7 922.0 176.0 923.0 175.6 924.0 177.5 925.0 180.4 926.0 183.6 927.0 186.4 928.0 188.2 929.0 188.1 930.0 185.4 931.0 181.2 932.0 176.6 933.0 172.7 934.0 170.8 935.0 172.7 936.0 179.0 937.0 187.1 938.0 194.1 939.0 197.5 940.0 196.3 941.0 193.2 942.0 189.7 943.0 187.2 944.0 186.9 945.0 189.6 946.0 193.3 947.0 196.4 948.0 196.7 949.0 193.6 950.0 189.1 951.0 185.6 952.0 184.9 953.0 185.6 954.0 186.9 955.0 188.4 956.0 190.0 957.0 192.6 958.0 194.8 959.0 195.5 960.0 194.7 961.0 193.5 962.0 192.3 963.0 191.9 964.0 194.6 965.0 199.0 966.0 201.2 967.0 198.5 968.0 193.5 969.0 190.7 970.0 194.6 971.0 202.7 972.0 209.7 973.0 210.8 974.0 207.2 975.0 203.5 976.0 203.3 977.0 206.2 978.0 210.2 979.0 213.4 980.0 213.8 981.0 211.7 982.0 209.3 983.0 209.0 984.0 211.6 985.0 215.1 986.0 217.6 987.0 217.3 988.0 214.7 989.0 212.2 990.0 212.4 991.0 216.0 992.0 219.6 993.0 219.7 994.0 217.1 995.0 214.5 996.0 214.6 997.0 217.8 998.0 221.1 999.0 221.3 1000.0 219.9 1001.0 219.3 1002.0 220.5 1003.0 222.6 1004.0 224.9 1005.0 226.8 1006.0 228.8 1007.0 230.4 1008.0 230.6 1009.0 230.1 1010.0 229.9 1011.0 231.1 1012.0 233.0 1013.0 233.9 1014.0 234.3 1015.0 234.7 1016.0 234.9 1017.0 235.1 1018.0 235.2 L1019 482Z" fill="url(#g1)"/><path d="M18 482 L18.0 129.2 19.0 129.2 20.0 129.2 21.0 129.2 22.0 129.2 23.0 129.2 24.0 129.2 25.0 129.1 26.0 128.6 27.0 127.9 28.0 127.3 29.0 127.0 30.0 127.0 31.0 127.1 32.0 127.2 33.0 127.3 34.0 127.5 35.0 127.7 36.0 128.0 37.0 128.4 38.0 129.0 39.0 129.7 40.0 130.5 41.0 131.3 42.0 132.1 43.0 133.0 44.0 133.9 45.0 135.0 46.0 136.2 47.0 137.5 48.0 138.8 49.0 140.1 50.0 141.4 51.0 142.6 52.0 143.8 53.0 145.1 54.0 146.3 55.0 147.6 56.0 148.9 57.0 150.4 58.0 152.0 59.0 153.9 60.0 156.1 61.0 158.5 62.0 161.0 63.0 163.5 64.0 165.8 65.0 167.8 66.0 169.4 67.0 171.1 68.0 172.2 69.0 172.3 70.0 171.8 71.0 171.1 72.0 170.5 73.0 170.2 74.0 170.3 75.0 170.6 76.0 171.0 77.0 171.4 78.0 171.9 79.0 172.6 80.0 173.5 81.0 174.6 82.0 175.7 83.0 177.0 84.0 178.2 85.0 179.6 86.0 181.2 87.0 182.9 88.0 184.7 89.0 186.5 90.0 188.8 91.0 191.5 92.0 193.8 93.0 195.2 94.0 194.9 95.0 192.6 96.0 189.1 97.0 185.0 98.0 179.4 99.0 172.2 100.0 165.0 101.0 158.0 102.0 150.6 103.0 144.2 104.0 140.0 105.0 137.3 106.0 134.9 107.0 132.8 108.0 131.0 109.0 129.7 110.0 128.8 111.0 128.5 112.0 128.8 113.0 129.5 114.0 130.5 115.0 131.7 116.0 133.0 117.0 134.7 118.0 137.1 119.0 139.9 120.0 142.8 121.0 145.7 122.0 148.2 123.0 150.0 124.0 151.4 125.0 152.6 126.0 153.7 127.0 154.8 128.0 155.7 129.0 156.6 130.0 157.4 131.0 158.2 132.0 159.0 133.0 159.8 134.0 160.6 135.0 161.4 136.0 162.3 137.0 163.1 138.0 163.9 139.0 164.7 140.0 165.4 141.0 166.0 142.0 166.5 143.0 166.9 144.0 167.1 145.0 167.2 146.0 167.2 147.0 167.1 148.0 167.1 149.0 167.0 150.0 166.9 151.0 166.7 152.0 166.6 153.0 166.5 154.0 166.5 155.0 166.4 156.0 166.4 157.0 166.5 158.0 166.8 159.0 167.2 160.0 167.7 161.0 168.3 162.0 168.9 163.0 169.6 164.0 170.3 165.0 170.9 166.0 171.5 167.0 171.9 168.0 172.4 169.0 172.8 170.0 173.2 171.0 173.5 172.0 173.9 173.0 174.3 174.0 174.6 175.0 175.0 176.0 175.3 177.0 175.7 178.0 176.0 179.0 176.3 180.0 176.6 181.0 176.9 182.0 177.2 183.0 177.6 184.0 177.9 185.0 178.2 186.0 178.6 187.0 178.9 188.0 179.2 189.0 179.5 190.0 179.8 191.0 180.1 192.0 180.4 193.0 180.7 194.0 180.9 195.0 181.1 196.0 181.3 197.0 181.4 198.0 181.5 199.0 181.6 200.0 181.6 201.0 181.3 202.0 180.7 203.0 179.8 204.0 178.9 205.0 178.1 206.0 177.7 207.0 177.7 208.0 177.7 209.0 177.7 210.0 177.7 211.0 177.7 212.0 177.7 213.0 177.7 214.0 178.1 215.0 178.7 216.0 179.5 217.0 180.4 218.0 181.3 219.0 182.2 220.0 182.9 221.0 183.5 222.0 184.0 223.0 184.5 224.0 184.9 225.0 185.3 226.0 185.7 227.0 186.2 228.0 186.7 229.0 187.2 230.0 187.8 231.0 188.4 232.0 189.3 233.0 190.7 234.0 192.3 235.0 193.9 236.0 195.4 237.0 196.6 238.0 197.2 239.0 196.8 240.0 195.3 241.0 193.1 242.0 190.4 243.0 187.9 244.0 185.8 245.0 184.8 246.0 184.7 247.0 185.0 248.0 185.3 249.0 185.9 250.0 186.5 251.0 187.3 252.0 188.7 253.0 192.8 254.0 198.8 255.0 205.3 256.0 210.9 257.0 215.2 258.0 219.5 259.0 223.6 260.0 227.2 261.0 230.1 262.0 232.0 263.0 232.8 264.0 233.2 265.0 233.5 266.0 233.6 267.0 233.5 268.0 233.1 269.0 232.5 270.0 231.7 271.0 229.4 272.0 225.2 273.0 219.8 274.0 214.0 275.0 207.4 276.0 199.9 277.0 191.8 278.0 184.9 279.0 179.8 280.0 176.3 281.0 175.2 282.0 175.7 283.0 177.2 284.0 179.2 285.0 181.4 286.0 184.2 287.0 187.4 288.0 190.9 289.0 194.1 290.0 196.8 291.0 199.2 292.0 201.6 293.0 204.4 294.0 207.9 295.0 214.2 296.0 221.6 297.0 228.2 298.0 235.4 299.0 242.4 300.0 248.1 301.0 251.6 302.0 252.1 303.0 249.7 304.0 245.7 305.0 241.0 306.0 236.1 307.0 231.9 308.0 228.7 309.0 227.2 310.0 227.8 311.0 230.7 312.0 235.3 313.0 240.8 314.0 246.6 315.0 251.9 316.0 256.1 317.0 259.8 318.0 263.8 319.0 267.9 320.0 271.8 321.0 275.2 322.0 277.8 323.0 279.2 324.0 279.2 325.0 277.0 326.0 272.8 327.0 267.5 328.0 261.3 329.0 254.8 330.0 248.6 331.0 243.0 332.0 239.0 333.0 235.6 334.0 232.4 335.0 229.2 336.0 225.9 337.0 222.4 338.0 218.2 339.0 213.0 340.0 207.1 341.0 201.7 342.0 198.1 343.0 197.5 344.0 201.1 345.0 207.6 346.0 215.2 347.0 222.1 348.0 226.7 349.0 228.3 350.0 227.0 351.0 223.5 352.0 218.6 353.0 213.1 354.0 207.7 355.0 203.3 356.0 200.5 357.0 199.6 358.0 201.1 359.0 204.1 360.0 208.2 361.0 213.2 362.0 219.0 363.0 225.3 364.0 232.0 365.0 238.8 366.0 248.5 367.0 260.1 368.0 261.0 369.0 250.4 370.0 235.8 371.0 224.2 372.0 216.1 373.0 207.6 374.0 199.3 375.0 192.0 376.0 186.4 377.0 183.4 378.0 184.4 379.0 190.9 380.0 200.7 381.0 211.5 382.0 220.6 383.0 225.5 384.0 225.8 385.0 224.1 386.0 221.6 387.0 219.2 388.0 217.9 389.0 219.3 390.0 223.8 391.0 229.5 392.0 234.5 393.0 236.7 394.0 234.9 395.0 230.5 396.0 224.6 397.0 217.7 398.0 211.2 399.0 205.9 400.0 202.6 401.0 199.7 402.0 197.3 403.0 195.6 404.0 194.6 405.0 194.3 406.0 194.7 407.0 197.0 408.0 201.6 409.0 206.1 410.0 208.3 411.0 206.2 412.0 200.0 413.0 192.0 414.0 184.3 415.0 178.6 416.0 176.8 417.0 180.1 418.0 187.5 419.0 197.3 420.0 207.7 421.0 217.3 422.0 224.7 423.0 227.9 424.0 225.8 425.0 220.0 426.0 212.5 427.0 205.2 428.0 200.1 429.0 200.6 430.0 209.7 431.0 223.1 432.0 235.0 433.0 240.2 434.0 236.0 435.0 226.0 436.0 213.1 437.0 199.9 438.0 189.3 439.0 184.1 440.0 186.9 441.0 199.6 442.0 213.0 443.0 216.8 444.0 208.5 445.0 198.3 446.0 197.1 447.0 203.6 448.0 213.0 449.0 221.5 450.0 225.2 451.0 221.2 452.0 211.7 453.0 199.2 454.0 184.4 455.0 169.3 456.0 158.3 457.0 155.8 458.0 163.2 459.0 169.8 460.0 172.6 461.0 172.0 462.0 167.9 463.0 164.4 464.0 160.6 465.0 156.4 466.0 152.7 467.0 150.6 468.0 152.3 469.0 159.3 470.0 170.7 471.0 184.2 472.0 198.0 473.0 209.4 474.0 216.4 475.0 217.2 476.0 206.9 477.0 188.9 478.0 179.3 479.0 179.7 480.0 180.9 481.0 178.5 482.0 172.9 483.0 164.9 484.0 155.4 485.0 146.6 486.0 142.3 487.0 143.6 488.0 148.4 489.0 155.6 490.0 163.9 491.0 172.6 492.0 181.1 493.0 193.8 494.0 208.3 495.0 219.5 496.0 222.6 497.0 217.7 498.0 207.6 499.0 194.2 500.0 179.9 501.0 166.3 502.0 155.8 503.0 150.3 504.0 151.1 505.0 156.4 506.0 161.5 507.0 162.4 508.0 156.9 509.0 148.2 510.0 139.9 511.0 135.2 512.0 137.5 513.0 147.9 514.0 160.7 515.0 170.2 516.0 171.1 517.0 165.1 518.0 158.3 519.0 155.9 520.0 156.6 521.0 158.6 522.0 162.0 523.0 166.2 524.0 172.0 525.0 188.8 526.0 206.9 527.0 210.5 528.0 203.0 529.0 192.7 530.0 185.6 531.0 185.8 532.0 189.4 533.0 191.4 534.0 188.9 535.0 184.3 536.0 178.9 537.0 174.0 538.0 170.5 539.0 169.8 540.0 176.1 541.0 193.3 542.0 212.2 543.0 223.3 544.0 221.9 545.0 214.5 546.0 203.7 547.0 192.2 548.0 182.3 549.0 174.5 550.0 169.8 551.0 169.4 552.0 173.2 553.0 179.4 554.0 186.5 555.0 193.1 556.0 197.5 557.0 198.2 558.0 194.8 559.0 189.1 560.0 182.7 561.0 177.5 562.0 175.4 563.0 178.7 564.0 186.5 565.0 196.7 566.0 207.1 567.0 215.7 568.0 220.4 569.0 219.1 570.0 211.4 571.0 200.2 572.0 188.6 573.0 179.5 574.0 176.0 575.0 180.6 576.0 186.9 577.0 185.6 578.0 176.1 579.0 168.1 580.0 169.4 581.0 177.7 582.0 190.3 583.0 203.5 584.0 213.8 585.0 218.0 586.0 214.8 587.0 206.8 588.0 196.4 589.0 186.2 590.0 178.7 591.0 176.5 592.0 178.0 593.0 179.4 594.0 179.4 595.0 176.4 596.0 173.2 597.0 173.7 598.0 178.9 599.0 185.5 600.0 190.5 601.0 195.6 602.0 197.7 603.0 193.8 604.0 185.7 605.0 176.3 606.0 168.4 607.0 165.1 608.0 166.1 609.0 167.3 610.0 167.4 611.0 163.4 612.0 155.4 613.0 151.4 614.0 156.1 615.0 164.3 616.0 169.6 617.0 167.5 618.0 163.2 619.0 163.6 620.0 172.6 621.0 181.7 622.0 182.1 623.0 176.8 624.0 171.6 625.0 171.5 626.0 176.5 627.0 181.7 628.0 182.9 629.0 181.1 630.0 178.5 631.0 176.6 632.0 177.4 633.0 182.3 634.0 189.8 635.0 198.5 636.0 206.8 637.0 213.1 638.0 216.2 639.0 213.7 640.0 204.9 641.0 193.5 642.0 183.3 643.0 178.1 644.0 180.9 645.0 187.6 646.0 190.4 647.0 184.9 648.0 175.4 649.0 166.8 650.0 164.0 651.0 166.5 652.0 171.6 653.0 177.7 654.0 183.3 655.0 188.1 656.0 193.1 657.0 198.0 658.0 203.2 659.0 209.2 660.0 214.8 661.0 218.7 662.0 219.5 663.0 215.9 664.0 208.7 665.0 199.8 666.0 190.8 667.0 183.5 668.0 179.6 669.0 180.3 670.0 182.7 671.0 184.5 672.0 183.4 673.0 179.4 674.0 173.9 675.0 168.2 676.0 163.8 677.0 162.1 678.0 162.8 679.0 164.9 680.0 167.3 681.0 169.0 682.0 168.9 683.0 167.2 684.0 165.3 685.0 164.2 686.0 170.5 687.0 183.3 688.0 182.6 689.0 171.5 690.0 160.2 691.0 158.2 692.0 164.4 693.0 175.5 694.0 187.7 695.0 197.4 696.0 201.2 697.0 196.3 698.0 185.5 699.0 173.5 700.0 165.3 701.0 165.3 702.0 174.5 703.0 184.7 704.0 187.4 705.0 187.1 706.0 192.8 707.0 209.6 708.0 226.7 709.0 233.2 710.0 230.2 711.0 223.9 712.0 215.9 713.0 207.4 714.0 199.9 715.0 192.8 716.0 185.0 717.0 179.4 718.0 179.7 719.0 188.2 720.0 192.1 721.0 184.8 722.0 178.2 723.0 185.1 724.0 202.4 725.0 217.9 726.0 220.1 727.0 207.6 728.0 191.4 729.0 182.5 730.0 184.0 731.0 186.9 732.0 190.0 733.0 191.8 734.0 192.0 735.0 191.8 736.0 191.6 737.0 192.7 738.0 196.6 739.0 201.4 740.0 205.4 741.0 206.5 742.0 202.8 743.0 196.4 744.0 190.8 745.0 189.3 746.0 197.3 747.0 207.5 748.0 208.8 749.0 199.4 750.0 194.6 751.0 194.3 752.0 194.0 753.0 193.8 754.0 195.2 755.0 198.6 756.0 202.9 757.0 207.3 758.0 214.5 759.0 221.3 760.0 222.3 761.0 213.9 762.0 208.1 763.0 212.7 764.0 218.6 765.0 217.5 766.0 211.7 767.0 204.7 768.0 199.7 769.0 200.4 770.0 208.0 771.0 212.8 772.0 209.3 773.0 203.3 774.0 201.1 775.0 205.2 776.0 210.1 777.0 209.0 778.0 198.9 779.0 185.9 780.0 176.4 781.0 175.6 782.0 178.9 783.0 184.0 784.0 189.7 785.0 194.9 786.0 201.2 787.0 208.0 788.0 211.0 789.0 206.0 790.0 196.9 791.0 191.7 792.0 195.1 793.0 203.7 794.0 213.5 795.0 220.4 796.0 221.2 797.0 220.8 798.0 220.8 799.0 213.6 800.0 199.8 801.0 187.8 802.0 185.6 803.0 193.7 804.0 203.7 805.0 206.5 806.0 200.9 807.0 192.1 808.0 185.2 809.0 184.8 810.0 188.6 811.0 190.9 812.0 191.1 813.0 191.7 814.0 196.2 815.0 201.8 816.0 204.1 817.0 202.4 818.0 203.2 819.0 211.6 820.0 210.7 821.0 209.2 822.0 209.5 823.0 213.4 824.0 218.7 825.0 223.0 826.0 223.4 827.0 218.2 828.0 209.3 829.0 198.9 830.0 189.3 831.0 182.9 832.0 182.0 833.0 185.7 834.0 186.7 835.0 186.5 836.0 186.2 837.0 186.7 838.0 192.1 839.0 199.9 840.0 206.4 841.0 208.3 842.0 203.6 843.0 198.2 844.0 199.9 845.0 207.7 846.0 214.5 847.0 214.0 848.0 206.5 849.0 197.0 850.0 190.1 851.0 189.7 852.0 192.6 853.0 194.9 854.0 194.2 855.0 192.2 856.0 191.1 857.0 192.8 858.0 197.1 859.0 202.8 860.0 208.6 861.0 213.4 862.0 215.9 863.0 215.3 864.0 212.5 865.0 208.6 866.0 204.5 867.0 201.4 868.0 198.3 869.0 195.1 870.0 192.6 871.0 191.5 872.0 192.8 873.0 195.9 874.0 198.9 875.0 200.4 876.0 201.3 877.0 202.7 878.0 208.9 879.0 205.9 880.0 197.1 881.0 193.9 882.0 199.1 883.0 199.0 884.0 195.7 885.0 191.9 886.0 190.0 887.0 191.8 888.0 195.7 889.0 199.7 890.0 204.1 891.0 208.9 892.0 211.3 893.0 209.8 894.0 206.2 895.0 202.3 896.0 198.7 897.0 194.5 898.0 191.1 899.0 190.0 900.0 191.3 901.0 194.1 902.0 197.2 903.0 199.8 904.0 202.7 905.0 205.7 906.0 208.3 907.0 209.8 908.0 208.8 909.0 204.5 910.0 199.8 911.0 196.7 912.0 193.6 913.0 191.1 914.0 189.9 915.0 190.8 916.0 193.2 917.0 196.3 918.0 201.3 919.0 205.8 920.0 206.4 921.0 200.7 922.0 194.6 923.0 194.1 924.0 196.2 925.0 199.7 926.0 203.6 927.0 207.1 928.0 209.5 929.0 209.6 930.0 206.6 931.0 201.8 932.0 196.4 933.0 192.1 934.0 190.1 935.0 192.6 936.0 199.9 937.0 208.7 938.0 216.0 939.0 218.6 940.0 216.4 941.0 212.9 942.0 209.3 943.0 206.8 944.0 206.9 945.0 209.9 946.0 214.1 947.0 217.6 948.0 218.4 949.0 215.7 950.0 211.6 951.0 208.4 952.0 208.0 953.0 208.8 954.0 210.1 955.0 211.6 956.0 213.2 957.0 215.7 958.0 218.0 959.0 218.6 960.0 217.8 961.0 216.4 962.0 215.2 963.0 215.2 964.0 218.5 965.0 223.6 966.0 226.2 967.0 223.5 968.0 218.3 969.0 215.5 970.0 219.4 971.0 227.8 972.0 235.1 973.0 236.1 974.0 232.4 975.0 228.4 976.0 228.2 977.0 231.2 978.0 235.4 979.0 238.7 980.0 239.2 981.0 237.2 982.0 234.9 983.0 234.8 984.0 237.6 985.0 241.5 986.0 244.2 987.0 244.0 988.0 241.3 989.0 238.6 990.0 238.7 991.0 242.4 992.0 246.0 993.0 246.1 994.0 243.3 995.0 240.5 996.0 240.5 997.0 243.8 998.0 247.1 999.0 247.3 1000.0 245.8 1001.0 245.1 1002.0 246.3 1003.0 248.4 1004.0 250.8 1005.0 252.7 1006.0 254.7 1007.0 256.3 1008.0 256.6 1009.0 256.1 1010.0 255.9 1011.0 257.1 1012.0 259.1 1013.0 259.9 1014.0 260.4 1015.0 260.7 1016.0 261.0 1017.0 261.1 1018.0 261.2 L1019 482Z" fill="url(#g2)"/><path d="M18 482 L18.0 141.4 19.0 141.4 20.0 141.4 21.0 141.4 22.0 141.4 23.0 141.4 24.0 141.4 25.0 141.3 26.0 140.6 27.0 139.6 28.0 138.7 29.0 138.3 30.0 138.3 31.0 138.4 32.0 138.5 33.0 138.6 34.0 138.8 35.0 139.0 36.0 139.4 37.0 140.1 38.0 141.1 39.0 142.2 40.0 143.5 41.0 144.8 42.0 146.0 43.0 147.2 44.0 148.5 45.0 149.8 46.0 151.1 47.0 152.6 48.0 154.1 49.0 155.8 50.0 157.6 51.0 159.5 52.0 161.6 53.0 164.1 54.0 167.0 55.0 170.0 56.0 173.3 57.0 176.7 58.0 180.1 59.0 183.6 60.0 187.0 61.0 190.4 62.0 194.6 63.0 199.2 64.0 203.7 65.0 207.5 66.0 210.1 67.0 211.0 68.0 210.5 69.0 209.5 70.0 208.1 71.0 206.5 72.0 205.2 73.0 204.2 74.0 203.9 75.0 204.2 76.0 204.9 77.0 206.0 78.0 207.4 79.0 209.0 80.0 210.8 81.0 212.7 82.0 216.5 83.0 221.2 84.0 223.4 85.0 223.1 86.0 222.1 87.0 220.8 88.0 219.0 89.0 217.1 90.0 215.0 91.0 212.4 92.0 209.0 93.0 204.8 94.0 200.1 95.0 195.1 96.0 190.0 97.0 185.0 98.0 180.0 99.0 174.8 100.0 169.0 101.0 163.0 102.0 157.5 103.0 153.0 104.0 150.0 105.0 148.0 106.0 146.2 107.0 144.6 108.0 143.5 109.0 143.0 110.0 143.0 111.0 143.7 112.0 144.8 113.0 146.4 114.0 148.2 115.0 150.1 116.0 152.0 117.0 154.3 118.0 157.2 119.0 160.4 120.0 163.8 121.0 167.1 122.0 170.0 123.0 172.6 124.0 175.2 125.0 177.7 126.0 180.1 127.0 182.4 128.0 184.6 129.0 186.7 130.0 188.7 131.0 190.8 132.0 193.0 133.0 195.2 134.0 197.3 135.0 199.4 136.0 201.4 137.0 203.2 138.0 204.7 139.0 206.0 140.0 207.0 141.0 207.6 142.0 207.8 143.0 207.7 144.0 207.3 145.0 206.9 146.0 206.3 147.0 205.6 148.0 205.0 149.0 204.3 150.0 203.8 151.0 203.3 152.0 203.1 153.0 203.0 154.0 203.2 155.0 203.7 156.0 204.3 157.0 205.2 158.0 206.2 159.0 207.3 160.0 208.4 161.0 209.6 162.0 210.7 163.0 211.8 164.0 212.7 165.0 213.8 166.0 214.9 167.0 216.0 168.0 217.1 169.0 218.2 170.0 219.2 171.0 219.9 172.0 220.5 173.0 221.0 174.0 221.5 175.0 222.0 176.0 222.4 177.0 222.7 178.0 223.0 179.0 223.3 180.0 223.4 181.0 223.5 182.0 223.6 183.0 223.6 184.0 223.7 185.0 223.7 186.0 223.7 187.0 223.8 188.0 223.8 189.0 223.9 190.0 224.0 191.0 224.2 192.0 224.7 193.0 225.3 194.0 226.1 195.0 226.9 196.0 227.8 197.0 228.6 198.0 229.4 199.0 230.1 200.0 230.6 201.0 230.9 202.0 231.0 203.0 230.4 204.0 229.3 205.0 227.8 206.0 226.1 207.0 224.4 208.0 222.8 209.0 221.6 210.0 220.9 211.0 220.9 212.0 221.2 213.0 221.9 214.0 222.9 215.0 223.9 216.0 225.0 217.0 226.1 218.0 227.0 219.0 227.8 220.0 228.3 221.0 228.7 222.0 229.0 223.0 229.3 224.0 229.5 225.0 229.8 226.0 230.1 227.0 230.5 228.0 230.9 229.0 231.5 230.0 232.3 231.0 233.4 232.0 234.5 233.0 235.8 234.0 236.9 235.0 238.0 236.0 238.9 237.0 239.6 238.0 240.0 239.0 239.8 240.0 238.6 241.0 236.5 242.0 233.8 243.0 230.8 244.0 227.6 245.0 224.5 246.0 221.7 247.0 219.6 248.0 218.3 249.0 218.0 250.0 218.2 251.0 218.6 252.0 219.3 253.0 220.0 254.0 221.0 255.0 222.0 256.0 224.0 257.0 227.1 258.0 231.2 259.0 235.6 260.0 239.9 261.0 243.5 262.0 246.1 263.0 248.1 264.0 249.8 265.0 250.9 266.0 251.1 267.0 250.6 268.0 249.3 269.0 246.9 270.0 243.5 271.0 239.5 272.0 234.9 273.0 230.0 274.0 225.0 275.0 219.0 276.0 212.6 277.0 206.6 278.0 201.8 279.0 198.3 280.0 195.5 281.0 194.1 282.0 195.1 283.0 197.0 284.0 199.2 285.0 201.5 286.0 204.4 287.0 207.8 288.0 211.7 289.0 215.7 290.0 219.6 291.0 223.3 292.0 227.1 293.0 231.1 294.0 235.7 295.0 242.3 296.0 249.6 297.0 255.9 298.0 262.2 299.0 267.8 300.0 271.7 301.0 273.4 302.0 272.3 303.0 268.8 304.0 264.1 305.0 259.0 306.0 254.3 307.0 250.8 308.0 248.4 309.0 247.6 310.0 248.8 311.0 252.0 312.0 256.5 313.0 261.8 314.0 267.1 315.0 271.6 316.0 274.9 317.0 277.6 318.0 280.5 319.0 283.4 320.0 286.1 321.0 288.5 322.0 290.3 323.0 291.0 324.0 290.5 325.0 288.4 326.0 285.1 327.0 281.2 328.0 276.7 329.0 271.9 330.0 266.9 331.0 262.2 332.0 258.5 333.0 255.2 334.0 251.8 335.0 248.3 336.0 244.6 337.0 240.6 338.0 235.8 339.0 229.4 340.0 221.6 341.0 214.2 342.0 208.8 343.0 207.4 344.0 211.6 345.0 219.6 346.0 229.2 347.0 237.7 348.0 243.2 349.0 245.6 350.0 245.0 351.0 242.3 352.0 238.4 353.0 233.8 354.0 229.5 355.0 226.5 356.0 225.1 357.0 225.6 358.0 228.0 359.0 231.2 360.0 234.8 361.0 238.8 362.0 243.3 363.0 248.1 364.0 253.4 365.0 259.2 366.0 268.5 367.0 280.3 368.0 281.7 369.0 271.6 370.0 257.5 371.0 246.7 372.0 239.5 373.0 231.6 374.0 223.6 375.0 216.2 376.0 210.3 377.0 206.9 378.0 207.5 379.0 213.8 380.0 223.8 381.0 235.3 382.0 245.4 383.0 251.4 384.0 252.6 385.0 251.9 386.0 250.2 387.0 248.3 388.0 246.9 389.0 247.8 390.0 251.3 391.0 255.8 392.0 259.3 393.0 260.3 394.0 257.5 395.0 252.6 396.0 246.5 397.0 239.7 398.0 233.3 399.0 228.3 400.0 225.5 401.0 223.1 402.0 221.7 403.0 221.2 404.0 221.5 405.0 222.5 406.0 224.0 407.0 227.0 408.0 232.0 409.0 236.2 410.0 237.6 411.0 234.5 412.0 227.4 413.0 219.0 414.0 211.4 415.0 206.0 416.0 204.6 417.0 208.6 418.0 216.7 419.0 227.2 420.0 238.2 421.0 248.4 422.0 256.6 423.0 260.3 424.0 258.3 425.0 251.9 426.0 243.3 427.0 234.5 428.0 227.9 429.0 226.6 430.0 234.0 431.0 246.1 432.0 256.9 433.0 261.1 434.0 256.1 435.0 245.6 436.0 232.7 437.0 219.9 438.0 210.0 439.0 206.2 440.0 209.8 441.0 224.2 442.0 239.1 443.0 244.1 444.0 236.3 445.0 226.4 446.0 225.9 447.0 233.3 448.0 243.6 449.0 252.8 450.0 256.7 451.0 252.2 452.0 241.6 453.0 227.7 454.0 210.0 455.0 190.6 456.0 175.6 457.0 171.4 458.0 181.0 459.0 192.3 460.0 200.5 461.0 203.9 462.0 201.4 463.0 198.8 464.0 195.8 465.0 192.1 466.0 188.4 467.0 186.1 468.0 187.3 469.0 193.0 470.0 203.0 471.0 215.1 472.0 227.2 473.0 236.6 474.0 240.7 475.0 238.4 476.0 224.6 477.0 202.6 478.0 188.9 479.0 186.7 480.0 187.5 481.0 187.4 482.0 186.0 483.0 182.7 484.0 176.9 485.0 170.8 486.0 169.3 487.0 172.7 488.0 179.1 489.0 187.7 490.0 196.8 491.0 205.9 492.0 214.8 493.0 228.1 494.0 243.5 495.0 255.7 496.0 259.7 497.0 255.6 498.0 246.2 499.0 233.6 500.0 220.0 501.0 206.4 502.0 195.7 503.0 189.0 504.0 188.3 505.0 192.1 506.0 195.7 507.0 194.9 508.0 187.8 509.0 177.7 510.0 168.7 511.0 163.7 512.0 165.8 513.0 176.4 514.0 189.4 515.0 199.0 516.0 199.6 517.0 193.1 518.0 185.6 519.0 182.9 520.0 183.4 521.0 185.5 522.0 188.9 523.0 193.5 524.0 199.6 525.0 217.5 526.0 236.9 527.0 241.0 528.0 233.5 529.0 222.8 530.0 215.4 531.0 214.9 532.0 217.2 533.0 217.5 534.0 212.7 535.0 205.8 536.0 198.4 537.0 192.0 538.0 187.9 539.0 188.0 540.0 196.0 541.0 216.0 542.0 237.5 543.0 250.2 544.0 248.7 545.0 239.4 546.0 226.2 547.0 212.9 548.0 203.0 549.0 195.8 550.0 192.0 551.0 192.9 552.0 198.0 553.0 205.7 554.0 214.3 555.0 222.2 556.0 227.7 557.0 229.4 558.0 226.6 559.0 221.0 560.0 214.3 561.0 208.4 562.0 205.5 563.0 207.7 564.0 214.5 565.0 223.6 566.0 233.0 567.0 240.8 568.0 244.9 569.0 243.1 570.0 235.1 571.0 223.7 572.0 211.9 573.0 202.8 574.0 199.7 575.0 205.0 576.0 212.0 577.0 210.8 578.0 200.7 579.0 192.2 580.0 193.3 581.0 201.2 582.0 213.9 583.0 227.2 584.0 237.7 585.0 242.1 586.0 238.9 587.0 231.0 588.0 220.9 589.0 211.2 590.0 204.4 591.0 203.5 592.0 206.5 593.0 208.9 594.0 209.0 595.0 205.5 596.0 201.4 597.0 201.0 598.0 205.4 599.0 211.3 600.0 215.8 601.0 220.9 602.0 223.6 603.0 221.1 604.0 214.9 605.0 207.6 606.0 201.7 607.0 199.7 608.0 201.1 609.0 201.7 610.0 200.6 611.0 194.8 612.0 184.9 613.0 179.6 614.0 184.1 615.0 192.3 616.0 197.2 617.0 194.4 618.0 189.1 619.0 188.9 620.0 197.9 621.0 207.0 622.0 207.1 623.0 201.1 624.0 195.4 625.0 195.4 626.0 200.8 627.0 206.6 628.0 208.0 629.0 206.3 630.0 203.7 631.0 201.9 632.0 202.9 633.0 208.2 634.0 216.2 635.0 225.4 636.0 234.0 637.0 240.6 638.0 243.7 639.0 241.1 640.0 232.1 641.0 220.5 642.0 210.2 643.0 205.1 644.0 208.5 645.0 216.0 646.0 219.1 647.0 213.6 648.0 203.7 649.0 194.7 650.0 191.6 651.0 193.9 652.0 198.6 653.0 204.2 654.0 209.1 655.0 213.1 656.0 217.2 657.0 221.2 658.0 225.7 659.0 231.3 660.0 236.6 661.0 240.5 662.0 241.7 663.0 238.4 664.0 231.9 665.0 223.8 666.0 215.8 667.0 209.6 668.0 207.0 669.0 209.0 670.0 213.2 671.0 217.0 672.0 217.3 673.0 213.8 674.0 208.1 675.0 201.8 676.0 196.5 677.0 193.7 678.0 193.6 679.0 194.9 680.0 196.9 681.0 198.4 682.0 198.2 683.0 196.6 684.0 194.7 685.0 193.7 686.0 200.6 687.0 214.2 688.0 213.6 689.0 201.7 690.0 189.3 691.0 187.0 692.0 192.4 693.0 203.1 694.0 215.0 695.0 224.5 696.0 227.9 697.0 222.4 698.0 211.0 699.0 198.5 700.0 190.5 701.0 191.4 702.0 201.8 703.0 213.5 704.0 217.0 705.0 217.1 706.0 223.3 707.0 240.9 708.0 258.7 709.0 265.0 710.0 261.2 711.0 254.1 712.0 245.3 713.0 236.3 714.0 228.3 715.0 221.1 716.0 213.1 717.0 207.7 718.0 208.5 719.0 217.8 720.0 222.1 721.0 214.4 722.0 207.5 723.0 214.6 724.0 232.8 725.0 249.3 726.0 251.9 727.0 239.3 728.0 222.8 729.0 214.2 730.0 216.5 731.0 220.3 732.0 224.2 733.0 226.6 734.0 227.2 735.0 227.2 736.0 226.9 737.0 228.0 738.0 231.9 739.0 236.9 740.0 241.0 741.0 242.1 742.0 238.2 743.0 231.6 744.0 225.8 745.0 224.3 746.0 232.9 747.0 243.8 748.0 245.4 749.0 235.8 750.0 230.9 751.0 230.6 752.0 230.3 753.0 229.9 754.0 231.0 755.0 234.1 756.0 238.1 757.0 242.3 758.0 249.4 759.0 256.1 760.0 256.9 761.0 248.1 762.0 242.2 763.0 247.7 764.0 254.5 765.0 254.2 766.0 248.9 767.0 242.2 768.0 237.3 769.0 238.1 770.0 246.0 771.0 250.7 772.0 246.7 773.0 240.1 774.0 237.5 775.0 241.8 776.0 247.3 777.0 246.6 778.0 236.6 779.0 223.6 780.0 214.3 781.0 213.9 782.0 217.5 783.0 222.8 784.0 228.5 785.0 233.6 786.0 239.7 787.0 246.3 788.0 249.0 789.0 243.4 790.0 233.4 791.0 227.4 792.0 229.9 793.0 237.8 794.0 246.8 795.0 252.9 796.0 252.9 797.0 252.0 798.0 252.0 799.0 244.8 800.0 230.9 801.0 219.1 802.0 217.4 803.0 226.4 804.0 237.4 805.0 240.9 806.0 235.3 807.0 226.3 808.0 219.2 809.0 218.8 810.0 222.6 811.0 224.6 812.0 224.2 813.0 224.2 814.0 228.1 815.0 233.1 816.0 234.7 817.0 232.1 818.0 232.2 819.0 240.4 820.0 238.7 821.0 236.5 822.0 236.3 823.0 240.0 824.0 245.3 825.0 249.6 826.0 250.2 827.0 245.1 828.0 236.2 829.0 225.9 830.0 216.5 831.0 210.3 832.0 209.7 833.0 213.8 834.0 214.8 835.0 214.5 836.0 213.8 837.0 213.8 838.0 218.8 839.0 226.4 840.0 231.9 841.0 232.3 842.0 226.5 843.0 220.5 844.0 222.2 845.0 230.3 846.0 237.6 847.0 237.3 848.0 229.9 849.0 220.3 850.0 213.5 851.0 213.4 852.0 216.6 853.0 219.0 854.0 218.2 855.0 215.9 856.0 214.4 857.0 215.8 858.0 219.9 859.0 225.3 860.0 230.9 861.0 235.5 862.0 237.9 863.0 237.2 864.0 234.3 865.0 230.4 866.0 226.5 867.0 223.6 868.0 220.8 869.0 217.8 870.0 215.5 871.0 214.6 872.0 216.1 873.0 219.4 874.0 222.5 875.0 224.1 876.0 225.0 877.0 226.5 878.0 233.1 879.0 230.2 880.0 221.2 881.0 218.2 882.0 223.9 883.0 224.1 884.0 220.8 885.0 216.9 886.0 214.9 887.0 216.6 888.0 220.4 889.0 224.2 890.0 228.5 891.0 233.1 892.0 235.3 893.0 233.5 894.0 229.6 895.0 225.5 896.0 221.8 897.0 217.5 898.0 214.0 899.0 212.8 900.0 214.2 901.0 217.0 902.0 220.1 903.0 222.6 904.0 225.5 905.0 228.5 906.0 231.2 907.0 232.8 908.0 231.9 909.0 227.6 910.0 223.0 911.0 220.1 912.0 217.1 913.0 214.6 914.0 213.4 915.0 214.2 916.0 216.5 917.0 219.5 918.0 224.5 919.0 228.9 920.0 229.3 921.0 223.2 922.0 216.7 923.0 216.0 924.0 218.4 925.0 222.5 926.0 227.3 927.0 231.7 928.0 234.7 929.0 235.0 930.0 231.7 931.0 226.1 932.0 219.9 933.0 214.9 934.0 213.1 935.0 216.3 936.0 224.5 937.0 234.3 938.0 241.8 939.0 243.6 940.0 240.2 941.0 236.2 942.0 232.5 943.0 230.1 944.0 230.4 945.0 233.9 946.0 238.7 947.0 242.7 948.0 244.0 949.0 241.8 950.0 238.1 951.0 235.3 952.0 235.2 953.0 236.2 954.0 237.5 955.0 238.9 956.0 240.5 957.0 243.1 958.0 245.3 959.0 245.8 960.0 244.9 961.0 243.3 962.0 242.1 963.0 242.5 964.0 246.6 965.0 252.5 966.0 255.6 967.0 252.9 968.0 247.5 969.0 244.5 970.0 248.7 971.0 257.4 972.0 264.9 973.0 265.9 974.0 261.9 975.0 257.7 976.0 257.4 977.0 260.6 978.0 265.0 979.0 268.5 980.0 269.1 981.0 267.1 982.0 264.9 983.0 265.0 984.0 268.2 985.0 272.4 986.0 275.4 987.0 275.2 988.0 272.4 989.0 269.6 990.0 269.6 991.0 273.3 992.0 277.0 993.0 277.0 994.0 273.9 995.0 270.8 996.0 270.8 997.0 274.1 998.0 277.5 999.0 277.7 1000.0 276.1 1001.0 275.3 1002.0 276.4 1003.0 278.6 1004.0 281.0 1005.0 282.9 1006.0 285.0 1007.0 286.6 1008.0 286.9 1009.0 286.4 1010.0 286.2 1011.0 287.5 1012.0 289.5 1013.0 290.4 1014.0 290.8 1015.0 291.1 1016.0 291.3 1017.0 291.5 1018.0 291.5 L1019 482Z" fill="url(#g3)"/><path d="M18 482 L18.0 157.8 19.0 157.8 20.0 157.8 21.0 157.8 22.0 157.8 23.0 157.8 24.0 157.8 25.0 157.8 26.0 157.7 27.0 157.4 28.0 157.2 29.0 157.0 30.0 157.1 31.0 157.4 32.0 158.0 33.0 158.7 34.0 159.6 35.0 160.5 36.0 161.4 37.0 162.4 38.0 163.7 39.0 165.0 40.0 166.5 41.0 168.1 42.0 169.7 43.0 171.3 44.0 172.9 45.0 174.6 46.0 176.3 47.0 178.2 48.0 180.0 49.0 181.9 50.0 183.7 51.0 185.6 52.0 187.3 53.0 188.9 54.0 190.4 55.0 192.0 56.0 193.8 57.0 195.8 58.0 198.2 59.0 201.2 60.0 204.6 61.0 208.3 62.0 211.8 63.0 215.2 64.0 218.5 65.0 221.8 66.0 225.2 67.0 228.6 68.0 232.0 69.0 235.7 70.0 239.5 71.0 243.1 72.0 246.0 73.0 248.6 74.0 250.0 75.0 249.0 76.0 246.4 77.0 243.1 78.0 240.0 79.0 237.1 80.0 234.1 81.0 230.9 82.0 227.7 83.0 224.4 84.0 223.4 85.0 223.1 86.0 222.1 87.0 220.8 88.0 219.0 89.0 217.1 90.0 215.0 91.0 212.4 92.0 209.0 93.0 204.8 94.0 200.1 95.0 195.1 96.0 190.0 97.0 185.0 98.0 180.0 99.0 176.0 100.0 172.7 101.0 170.0 102.0 167.5 103.0 165.0 104.0 162.6 105.0 160.6 106.0 159.3 107.0 158.8 108.0 159.6 109.0 161.8 110.0 165.0 111.0 168.7 112.0 172.4 113.0 175.8 114.0 178.7 115.0 181.5 116.0 184.3 117.0 187.0 118.0 189.9 119.0 192.7 120.0 195.7 121.0 198.9 122.0 202.2 123.0 205.8 124.0 209.8 125.0 214.3 126.0 219.2 127.0 224.3 128.0 229.5 129.0 234.7 130.0 239.7 131.0 244.4 132.0 248.6 133.0 252.3 134.0 255.8 135.0 259.1 136.0 262.3 137.0 265.4 138.0 268.3 139.0 271.1 140.0 273.8 141.0 276.5 142.0 279.0 143.0 281.7 144.0 284.6 145.0 287.3 146.0 289.2 147.0 290.0 148.0 289.4 149.0 287.8 150.0 285.6 151.0 283.1 152.0 280.6 153.0 278.4 154.0 276.8 155.0 276.2 156.0 276.6 157.0 277.7 158.0 279.4 159.0 281.5 160.0 284.0 161.0 286.6 162.0 289.7 163.0 294.8 164.0 301.3 165.0 308.4 166.0 315.1 167.0 320.6 168.0 324.0 169.0 325.7 170.0 327.0 171.0 328.0 172.0 329.1 173.0 330.5 174.0 332.4 175.0 334.6 176.0 336.7 177.0 338.5 178.0 339.3 179.0 338.9 180.0 336.7 181.0 333.2 182.0 328.9 183.0 324.1 184.0 319.3 185.0 315.1 186.0 311.8 187.0 310.0 188.0 310.3 189.0 314.6 190.0 321.4 191.0 328.7 192.0 334.7 193.0 337.5 194.0 337.3 195.0 336.8 196.0 335.9 197.0 334.7 198.0 333.3 199.0 331.7 200.0 330.0 201.0 327.0 202.0 322.2 203.0 316.4 204.0 310.6 205.0 305.6 206.0 302.5 207.0 300.8 208.0 299.3 209.0 297.9 210.0 296.8 211.0 295.8 212.0 295.2 213.0 294.8 214.0 295.3 215.0 298.9 216.0 304.8 217.0 311.3 218.0 317.2 219.0 320.8 220.0 320.9 221.0 318.3 222.0 314.4 223.0 310.7 224.0 308.5 225.0 308.6 226.0 309.6 227.0 311.5 228.0 314.2 229.0 317.9 230.0 322.6 231.0 328.3 232.0 335.0 233.0 333.7 234.0 332.0 235.0 328.2 236.0 310.2 237.0 305.1 238.0 306.9 239.0 310.9 240.0 316.4 241.0 319.4 242.0 318.1 243.0 316.9 244.0 315.8 245.0 314.7 246.0 313.6 247.0 312.3 248.0 309.9 249.0 306.2 250.0 302.2 251.0 299.4 252.0 298.1 253.0 297.0 254.0 296.3 255.0 295.9 256.0 295.8 257.0 296.0 258.0 296.3 259.0 296.7 260.0 297.0 261.0 297.3 262.0 297.4 263.0 297.3 264.0 296.7 265.0 295.3 266.0 293.1 267.0 290.5 268.0 287.5 269.0 284.4 270.0 281.3 271.0 278.1 272.0 274.8 273.0 271.3 274.0 267.3 275.0 262.4 276.0 257.0 277.0 251.7 278.0 247.4 279.0 243.9 280.0 240.8 281.0 238.7 282.0 237.7 283.0 237.4 284.0 237.4 285.0 237.6 286.0 238.2 287.0 239.6 288.0 242.0 289.0 245.0 290.0 248.4 291.0 252.0 292.0 255.9 293.0 261.4 294.0 267.2 295.0 274.2 296.0 281.4 297.0 287.3 298.0 292.6 299.0 296.6 300.0 298.4 301.0 298.1 302.0 295.2 303.0 290.5 304.0 284.9 305.0 279.5 306.0 275.0 307.0 272.1 308.0 270.6 309.0 270.7 310.0 272.5 311.0 276.0 312.0 280.5 313.0 285.4 314.0 290.1 315.0 293.7 316.0 296.0 317.0 297.6 318.0 299.2 319.0 300.8 320.0 302.2 321.0 303.5 322.0 304.4 323.0 304.2 324.0 303.2 325.0 301.2 326.0 298.9 327.0 296.5 328.0 293.9 329.0 290.9 330.0 287.4 331.0 283.6 332.0 280.3 333.0 277.1 334.0 273.6 335.0 269.7 336.0 265.5 337.0 260.8 338.0 255.4 339.0 247.8 340.0 237.8 341.0 228.0 342.0 220.7 343.0 218.4 344.0 223.3 345.0 233.0 346.0 244.7 347.0 255.0 348.0 261.5 349.0 264.7 350.0 265.0 351.0 263.2 352.0 260.2 353.0 256.7 354.0 253.6 355.0 252.1 356.0 252.4 357.0 254.3 358.0 257.6 359.0 261.1 360.0 264.0 361.0 266.9 362.0 270.0 363.0 273.3 364.0 277.1 365.0 281.6 366.0 290.4 367.0 302.6 368.0 304.4 369.0 294.9 370.0 281.3 371.0 271.4 372.0 265.2 373.0 257.9 374.0 250.1 375.0 242.6 376.0 236.4 377.0 232.6 378.0 232.7 379.0 238.8 380.0 249.1 381.0 261.3 382.0 272.4 383.0 279.5 384.0 281.9 385.0 282.2 386.0 281.3 387.0 279.8 388.0 278.5 389.0 278.7 390.0 281.2 391.0 284.3 392.0 286.3 393.0 285.9 394.0 281.9 395.0 276.4 396.0 270.2 397.0 263.4 398.0 257.2 399.0 252.6 400.0 250.2 401.0 248.4 402.0 248.0 403.0 248.8 404.0 250.6 405.0 252.9 406.0 255.5 407.0 259.3 408.0 264.6 409.0 268.5 410.0 269.1 411.0 264.9 412.0 256.9 413.0 248.0 414.0 240.5 415.0 235.3 416.0 234.4 417.0 239.0 418.0 247.8 419.0 258.9 420.0 270.5 421.0 281.3 422.0 290.1 423.0 294.3 424.0 292.2 425.0 285.1 426.0 275.4 427.0 264.9 428.0 256.6 429.0 253.4 430.0 259.1 431.0 269.7 432.0 279.3 433.0 282.4 434.0 276.4 435.0 265.4 436.0 252.6 437.0 240.0 438.0 230.9 439.0 228.3 440.0 232.8 441.0 248.6 442.0 265.1 443.0 271.2 444.0 263.8 445.0 254.1 446.0 254.1 447.0 262.3 448.0 273.4 449.0 283.3 450.0 287.4 451.0 282.3 452.0 270.4 453.0 255.1 454.0 234.7 455.0 211.0 456.0 192.1 457.0 186.3 458.0 197.9 459.0 213.6 460.0 226.7 461.0 234.0 462.0 232.9 463.0 231.1 464.0 228.7 465.0 225.3 466.0 221.5 467.0 219.0 468.0 219.6 469.0 224.0 470.0 232.8 471.0 243.3 472.0 253.9 473.0 261.3 474.0 262.9 475.0 257.5 476.0 240.7 477.0 214.9 478.0 197.5 479.0 192.9 480.0 193.4 481.0 195.4 482.0 197.7 483.0 198.4 484.0 195.9 485.0 192.1 486.0 193.1 487.0 198.3 488.0 205.9 489.0 215.6 490.0 225.3 491.0 234.8 492.0 243.9 493.0 257.7 494.0 273.8 495.0 286.8 496.0 291.4 497.0 287.9 498.0 279.1 499.0 267.1 500.0 253.9 501.0 240.3 502.0 229.2 503.0 221.7 504.0 219.4 505.0 222.0 506.0 224.3 507.0 222.0 508.0 213.4 509.0 202.1 510.0 192.4 511.0 187.2 512.0 189.1 513.0 199.8 514.0 213.1 515.0 222.9 516.0 223.2 517.0 216.2 518.0 208.3 519.0 205.4 520.0 205.7 521.0 207.7 522.0 211.3 523.0 216.1 524.0 222.6 525.0 241.5 526.0 261.9 527.0 266.4 528.0 258.9 529.0 248.0 530.0 240.3 531.0 239.2 532.0 240.6 533.0 239.4 534.0 232.7 535.0 223.9 536.0 214.8 537.0 207.1 538.0 202.6 539.0 203.3 540.0 212.8 541.0 235.0 542.0 258.8 543.0 273.0 544.0 271.4 545.0 260.6 546.0 245.3 547.0 230.5 548.0 220.5 549.0 213.9 550.0 210.9 551.0 212.8 552.0 219.2 553.0 228.1 554.0 237.9 555.0 247.0 556.0 253.6 557.0 256.0 558.0 253.7 559.0 248.2 560.0 241.3 561.0 234.9 562.0 231.2 563.0 232.6 564.0 238.5 565.0 246.7 566.0 255.4 567.0 262.5 568.0 266.0 569.0 263.8 570.0 255.5 571.0 243.9 572.0 232.0 573.0 223.0 574.0 220.2 575.0 226.1 576.0 233.8 577.0 232.6 578.0 222.1 579.0 213.2 580.0 214.0 581.0 221.7 582.0 234.4 583.0 247.9 584.0 258.6 585.0 263.1 586.0 260.0 587.0 252.2 588.0 242.4 589.0 233.0 590.0 226.9 591.0 227.3 592.0 231.5 593.0 234.8 594.0 235.1 595.0 231.1 596.0 226.2 597.0 224.9 598.0 228.6 599.0 234.0 600.0 238.2 601.0 243.2 602.0 246.5 603.0 245.3 604.0 240.8 605.0 235.3 606.0 231.1 607.0 230.3 608.0 232.1 609.0 232.2 610.0 230.0 611.0 222.6 612.0 211.0 613.0 204.7 614.0 209.0 615.0 217.1 616.0 221.8 617.0 218.3 618.0 212.3 619.0 211.5 620.0 220.5 621.0 229.7 622.0 229.4 623.0 222.9 624.0 216.8 625.0 216.8 626.0 222.6 627.0 228.8 628.0 230.6 629.0 229.0 630.0 226.3 631.0 224.6 632.0 225.8 633.0 231.5 634.0 240.1 635.0 249.7 636.0 258.7 637.0 265.4 638.0 268.6 639.0 266.0 640.0 256.8 641.0 245.0 642.0 234.6 643.0 229.6 644.0 233.5 645.0 241.7 646.0 245.2 647.0 239.7 648.0 229.4 649.0 220.0 650.0 216.7 651.0 218.8 652.0 223.3 653.0 228.4 654.0 232.7 655.0 235.9 656.0 239.3 657.0 242.5 658.0 246.4 659.0 251.5 660.0 256.7 661.0 260.6 662.0 262.0 663.0 259.2 664.0 253.2 665.0 245.9 666.0 238.8 667.0 233.6 668.0 232.2 669.0 235.6 670.0 241.4 671.0 246.9 672.0 248.5 673.0 245.6 674.0 239.7 675.0 232.8 676.0 226.7 677.0 223.1 678.0 222.1 679.0 222.8 680.0 224.3 681.0 225.7 682.0 225.5 683.0 223.9 684.0 222.1 685.0 221.3 686.0 228.7 687.0 243.1 688.0 242.5 689.0 229.9 690.0 216.6 691.0 214.0 692.0 218.6 693.0 229.1 694.0 240.7 695.0 249.9 696.0 252.9 697.0 246.9 698.0 234.9 699.0 222.0 700.0 214.3 701.0 216.1 702.0 227.6 703.0 240.6 704.0 244.9 705.0 245.4 706.0 252.1 707.0 270.6 708.0 289.0 709.0 295.1 710.0 290.6 711.0 282.8 712.0 273.3 713.0 263.6 714.0 255.4 715.0 247.9 716.0 239.9 717.0 234.8 718.0 236.0 719.0 246.1 720.0 250.7 721.0 242.7 722.0 235.5 723.0 242.8 724.0 261.9 725.0 279.4 726.0 282.5 727.0 269.7 728.0 253.0 729.0 244.6 730.0 247.8 731.0 252.5 732.0 257.1 733.0 260.2 734.0 261.1 735.0 261.3 736.0 261.1 737.0 262.1 738.0 266.1 739.0 271.2 740.0 275.4 741.0 276.6 742.0 272.6 743.0 265.8 744.0 259.7 745.0 258.4 746.0 267.5 747.0 279.2 748.0 281.1 749.0 271.2 750.0 266.2 751.0 266.1 752.0 265.8 753.0 265.2 754.0 266.1 755.0 269.0 756.0 272.7 757.0 276.6 758.0 283.6 759.0 290.3 760.0 290.9 761.0 281.6 762.0 275.8 763.0 282.0 764.0 290.0 765.0 290.4 766.0 285.6 767.0 279.1 768.0 274.4 769.0 275.4 770.0 283.6 771.0 288.3 772.0 283.7 773.0 276.5 774.0 273.7 775.0 278.2 776.0 284.2 777.0 284.0 778.0 274.2 779.0 261.1 780.0 252.0 781.0 252.0 782.0 256.0 783.0 261.6 784.0 267.3 785.0 272.3 786.0 278.2 787.0 284.8 788.0 287.4 789.0 281.1 790.0 270.5 791.0 263.6 792.0 265.5 793.0 272.7 794.0 281.0 795.0 286.4 796.0 285.5 797.0 284.2 798.0 284.4 799.0 277.3 800.0 263.4 801.0 251.7 802.0 250.8 803.0 260.8 804.0 273.0 805.0 277.1 806.0 271.8 807.0 262.7 808.0 255.5 809.0 255.2 810.0 259.0 811.0 260.8 812.0 259.9 813.0 259.2 814.0 262.6 815.0 267.1 816.0 268.1 817.0 264.6 818.0 264.1 819.0 272.0 820.0 269.6 821.0 266.8 822.0 266.1 823.0 269.6 824.0 275.0 825.0 279.5 826.0 280.3 827.0 275.4 828.0 266.7 829.0 256.5 830.0 247.3 831.0 241.4 832.0 241.3 833.0 246.0 834.0 247.1 835.0 246.6 836.0 245.6 837.0 245.2 838.0 249.9 839.0 257.3 840.0 261.7 841.0 260.5 842.0 253.3 843.0 246.8 844.0 248.5 845.0 257.2 846.0 265.1 847.0 265.2 848.0 257.9 849.0 248.3 850.0 241.6 851.0 241.9 852.0 245.6 853.0 248.3 854.0 247.4 855.0 244.8 856.0 242.9 857.0 244.0 858.0 247.8 859.0 253.0 860.0 258.5 861.0 262.9 862.0 265.2 863.0 264.4 864.0 261.5 865.0 257.7 866.0 254.1 867.0 251.7 868.0 249.3 869.0 246.7 870.0 244.7 871.0 244.1 872.0 246.0 873.0 249.6 874.0 253.0 875.0 254.7 876.0 255.7 877.0 257.5 878.0 264.7 879.0 261.9 880.0 252.8 881.0 250.1 882.0 256.7 883.0 257.2 884.0 254.0 885.0 250.1 886.0 248.1 887.0 249.8 888.0 253.6 889.0 257.3 890.0 261.4 891.0 265.9 892.0 267.9 893.0 265.8 894.0 261.6 895.0 257.3 896.0 253.5 897.0 249.1 898.0 245.5 899.0 244.3 900.0 245.7 901.0 248.5 902.0 251.6 903.0 254.0 904.0 256.7 905.0 259.7 906.0 262.4 907.0 264.1 908.0 263.4 909.0 259.1 910.0 254.6 911.0 251.8 912.0 248.9 913.0 246.3 914.0 245.0 915.0 245.7 916.0 247.8 917.0 250.6 918.0 255.5 919.0 259.8 920.0 260.0 921.0 253.2 922.0 246.0 923.0 245.2 924.0 247.9 925.0 252.8 926.0 258.6 927.0 264.1 928.0 267.9 929.0 268.5 930.0 264.7 931.0 258.0 932.0 250.6 933.0 244.8 934.0 242.9 935.0 247.0 936.0 256.6 937.0 267.4 938.0 275.2 939.0 275.9 940.0 270.9 941.0 266.2 942.0 262.3 943.0 260.0 944.0 260.7 945.0 264.7 946.0 270.1 947.0 274.7 948.0 276.6 949.0 275.0 950.0 271.9 951.0 269.4 952.0 269.7 953.0 270.7 954.0 272.0 955.0 273.4 956.0 274.9 957.0 277.3 958.0 279.5 959.0 279.9 960.0 278.7 961.0 277.0 962.0 275.7 963.0 276.5 964.0 281.5 965.0 288.3 966.0 292.0 967.0 289.2 968.0 283.5 969.0 280.3 970.0 284.6 971.0 293.6 972.0 301.3 973.0 302.2 974.0 297.9 975.0 293.3 976.0 293.0 977.0 296.3 978.0 300.9 979.0 304.5 980.0 305.2 981.0 303.1 982.0 301.0 983.0 301.3 984.0 304.8 985.0 309.4 986.0 312.6 987.0 312.5 988.0 309.4 989.0 306.3 990.0 306.2 991.0 309.9 992.0 313.6 993.0 313.4 994.0 310.0 995.0 306.6 996.0 306.4 997.0 309.7 998.0 313.1 999.0 313.2 1000.0 311.4 1001.0 310.5 1002.0 311.5 1003.0 313.7 1004.0 316.1 1005.0 317.9 1006.0 319.9 1007.0 321.5 1008.0 321.7 1009.0 321.2 1010.0 320.9 1011.0 322.3 1012.0 324.3 1013.0 325.1 1014.0 325.5 1015.0 325.8 1016.0 326.0 1017.0 326.2 1018.0 326.2 L1019 482Z" fill="url(#g4)"/><path d="M18 482 L18.0 179.7 19.0 179.7 20.0 179.7 21.0 179.7 22.0 179.7 23.0 179.7 24.0 179.7 25.0 179.7 26.0 179.1 27.0 178.2 28.0 177.3 29.0 176.7 30.0 176.6 31.0 176.8 32.0 177.1 33.0 177.5 34.0 177.9 35.0 178.4 36.0 179.0 37.0 179.6 38.0 180.2 39.0 181.1 40.0 182.1 41.0 183.2 42.0 184.3 43.0 185.5 44.0 186.7 45.0 188.0 46.0 189.4 47.0 190.8 48.0 192.3 49.0 193.8 50.0 195.2 51.0 196.6 52.0 197.9 53.0 199.1 54.0 200.3 55.0 201.5 56.0 202.7 57.0 204.0 58.0 205.4 59.0 206.7 60.0 208.1 61.0 209.5 62.0 211.8 63.0 215.2 64.0 218.5 65.0 221.8 66.0 225.2 67.0 228.6 68.0 232.0 69.0 235.7 70.0 240.0 71.0 245.7 72.0 252.3 73.0 257.7 74.0 260.0 75.0 257.6 76.0 252.0 77.0 245.3 78.0 240.0 79.0 237.1 80.0 234.1 81.0 230.9 82.0 227.7 83.0 224.4 84.0 223.4 85.0 223.1 86.0 222.1 87.0 220.8 88.0 219.0 89.0 217.1 90.0 215.0 91.0 212.4 92.0 209.0 93.0 204.8 94.0 200.1 95.0 195.1 96.0 192.3 97.0 189.5 98.0 184.7 99.0 182.2 100.0 180.1 101.0 178.0 102.0 175.3 103.0 172.4 104.0 169.8 105.0 167.8 106.0 167.1 107.0 167.5 108.0 168.5 109.0 170.1 110.0 172.0 111.0 174.0 112.0 176.0 113.0 178.5 114.0 181.7 115.0 185.6 116.0 190.1 117.0 194.8 118.0 199.5 119.0 204.2 120.0 209.0 121.0 213.8 122.0 218.6 123.0 223.5 124.0 228.5 125.0 233.5 126.0 238.6 127.0 243.7 128.0 247.6 129.0 251.4 130.0 255.0 131.0 258.3 132.0 261.2 133.0 263.9 134.0 266.2 135.0 268.4 136.0 270.4 137.0 272.3 138.0 274.1 139.0 275.9 140.0 277.6 141.0 279.4 142.0 281.3 143.0 283.3 144.0 285.6 145.0 288.0 146.0 290.3 147.0 292.4 148.0 294.1 149.0 295.6 150.0 296.9 151.0 298.2 152.0 299.6 153.0 301.2 154.0 303.2 155.0 305.6 156.0 308.5 157.0 311.9 158.0 315.6 159.0 319.7 160.0 324.4 161.0 329.8 162.0 335.9 163.0 343.1 164.0 351.4 165.0 360.3 166.0 370.8 167.0 384.3 168.0 398.5 169.0 411.6 170.0 422.1 171.0 428.1 172.0 427.3 173.0 419.2 174.0 408.2 175.0 398.5 176.0 393.5 177.0 389.8 178.0 386.4 179.0 383.1 180.0 379.7 181.0 376.4 182.0 373.2 183.0 370.2 184.0 367.4 185.0 365.1 186.0 363.2 187.0 361.8 188.0 361.2 189.0 361.8 190.0 363.1 191.0 364.4 192.0 365.1 193.0 364.4 194.0 362.4 195.0 357.7 196.0 350.8 197.0 344.3 198.0 341.3 199.0 342.3 200.0 346.1 201.0 351.6 202.0 357.8 203.0 364.5 204.0 371.2 205.0 377.6 206.0 383.4 207.0 387.6 208.0 389.3 209.0 386.5 210.0 377.5 211.0 365.1 212.0 352.1 213.0 341.3 214.0 335.6 215.0 336.6 216.0 339.7 217.0 343.8 218.0 348.2 219.0 352.3 220.0 355.5 221.0 357.8 222.0 359.5 223.0 361.0 224.0 363.5 225.0 367.0 226.0 370.9 227.0 375.0 228.0 378.9 229.0 382.5 230.0 385.5 231.0 387.1 232.0 381.0 233.0 365.3 234.0 346.6 235.0 328.2 236.0 310.2 237.0 305.1 238.0 306.9 239.0 310.9 240.0 316.4 241.0 321.9 242.0 326.3 243.0 330.8 244.0 334.8 245.0 338.1 246.0 340.2 247.0 340.7 248.0 334.3 249.0 320.7 250.0 307.0 251.0 300.5 252.0 300.6 253.0 301.9 254.0 304.0 255.0 306.9 256.0 310.2 257.0 313.9 258.0 317.7 259.0 321.4 260.0 324.7 261.0 327.4 262.0 329.4 263.0 330.3 264.0 329.8 265.0 327.1 266.0 322.6 267.0 317.0 268.0 310.8 269.0 304.6 270.0 299.0 271.0 294.4 272.0 291.2 273.0 288.3 274.0 285.4 275.0 282.4 276.0 279.6 277.0 277.2 278.0 275.7 279.0 274.8 280.0 274.4 281.0 274.6 282.0 275.4 283.0 276.6 284.0 278.1 285.0 279.7 286.0 281.6 287.0 284.6 288.0 289.5 289.0 295.9 290.0 303.2 291.0 311.1 292.0 319.4 293.0 328.1 294.0 336.4 295.0 344.4 296.0 351.3 297.0 356.3 298.0 359.5 299.0 359.9 300.0 357.2 301.0 351.5 302.0 344.2 303.0 336.0 304.0 328.2 305.0 321.5 306.0 317.1 307.0 315.4 308.0 315.4 309.0 316.8 310.0 319.3 311.0 322.6 312.0 326.3 313.0 329.7 314.0 332.2 315.0 333.4 316.0 333.2 317.0 332.1 318.0 330.8 319.0 329.4 320.0 327.9 321.0 326.6 322.0 325.3 323.0 323.0 324.0 320.7 325.0 318.6 326.0 317.8 327.0 317.8 328.0 318.0 329.0 317.6 330.0 316.0 331.0 312.9 332.0 309.5 333.0 305.6 334.0 301.1 335.0 296.0 336.0 290.5 337.0 284.5 338.0 277.9 339.0 268.3 340.0 255.7 341.0 243.1 342.0 233.4 343.0 229.8 344.0 234.7 345.0 245.5 346.0 258.5 347.0 269.9 348.0 276.8 349.0 280.1 350.0 280.5 351.0 279.4 352.0 277.2 353.0 274.6 354.0 272.4 355.0 272.1 356.0 273.6 357.0 276.7 358.0 280.8 359.0 284.4 360.0 286.9 361.0 289.0 362.0 290.9 363.0 292.9 364.0 295.6 365.0 299.2 366.0 307.6 367.0 320.0 368.0 322.3 369.0 313.1 370.0 300.0 371.0 290.7 372.0 285.3 373.0 278.5 374.0 270.9 375.0 263.4 376.0 256.9 377.0 252.8 378.0 252.5 379.0 258.5 380.0 269.0 381.0 281.8 382.0 293.8 383.0 301.7 384.0 304.9 385.0 306.1 386.0 305.9 387.0 304.8 388.0 303.4 389.0 303.2 390.0 304.8 391.0 306.8 392.0 307.7 393.0 306.1 394.0 301.3 395.0 295.4 396.0 289.1 397.0 282.3 398.0 276.2 399.0 271.8 400.0 269.9 401.0 268.5 402.0 268.9 403.0 270.8 404.0 273.7 405.0 277.1 406.0 280.6 407.0 285.1 408.0 290.6 409.0 294.2 410.0 294.2 411.0 289.2 412.0 280.4 413.0 271.2 414.0 263.7 415.0 258.7 416.0 258.3 417.0 263.4 418.0 272.8 419.0 284.5 420.0 296.5 421.0 307.7 422.0 317.1 423.0 321.8 424.0 319.7 425.0 312.1 426.0 301.4 427.0 289.7 428.0 280.0 429.0 275.3 430.0 279.5 431.0 289.0 432.0 297.7 433.0 299.9 434.0 293.2 435.0 281.8 436.0 268.9 437.0 256.7 438.0 248.1 439.0 246.7 440.0 251.8 441.0 269.0 442.0 286.8 443.0 293.8 444.0 286.7 445.0 277.3 446.0 277.8 447.0 286.7 448.0 298.5 449.0 309.0 450.0 313.3 451.0 307.6 452.0 294.8 453.0 278.3 454.0 255.6 455.0 228.4 456.0 206.2 457.0 199.0 458.0 212.3 459.0 231.8 460.0 249.3 461.0 259.9 462.0 259.9 463.0 258.9 464.0 257.1 465.0 253.9 466.0 250.2 467.0 247.5 468.0 247.7 469.0 251.0 470.0 258.7 471.0 268.0 472.0 277.3 473.0 283.0 474.0 282.3 475.0 274.4 476.0 254.8 477.0 225.7 478.0 205.1 479.0 198.5 480.0 198.6 481.0 202.5 482.0 208.0 483.0 212.4 484.0 212.8 485.0 211.1 486.0 214.3 487.0 221.2 488.0 230.0 489.0 240.7 490.0 251.0 491.0 260.8 492.0 270.2 493.0 284.5 494.0 301.2 495.0 314.9 496.0 320.2 497.0 317.3 498.0 309.1 499.0 297.7 500.0 284.9 501.0 271.3 502.0 260.0 503.0 251.6 504.0 248.0 505.0 249.5 506.0 250.5 507.0 247.0 508.0 237.1 509.0 224.7 510.0 214.5 511.0 209.1 512.0 210.7 513.0 221.6 514.0 235.1 515.0 244.9 516.0 245.1 517.0 237.7 518.0 229.3 519.0 226.1 520.0 226.2 521.0 228.3 522.0 232.0 523.0 237.0 524.0 243.8 525.0 263.5 526.0 284.9 527.0 289.8 528.0 282.3 529.0 271.2 530.0 263.2 531.0 261.6 532.0 262.0 533.0 259.4 534.0 251.0 535.0 240.4 536.0 229.8 537.0 221.0 538.0 216.0 539.0 217.3 540.0 228.1 541.0 252.4 542.0 278.3 543.0 293.7 544.0 292.0 545.0 279.8 546.0 262.7 547.0 246.5 548.0 236.3 549.0 230.3 550.0 228.1 551.0 230.9 552.0 238.3 553.0 248.4 554.0 259.3 555.0 269.4 556.0 276.9 557.0 280.0 558.0 278.2 559.0 272.8 560.0 265.6 561.0 258.7 562.0 254.4 563.0 255.0 564.0 260.1 565.0 267.5 566.0 275.4 567.0 281.9 568.0 285.0 569.0 282.4 570.0 273.8 571.0 262.0 572.0 250.0 573.0 241.1 574.0 238.5 575.0 245.0 576.0 253.2 577.0 252.1 578.0 241.2 579.0 231.8 580.0 232.5 581.0 239.9 582.0 252.7 583.0 266.2 584.0 277.1 585.0 281.7 586.0 278.7 587.0 271.0 588.0 261.4 589.0 252.4 590.0 246.9 591.0 248.2 592.0 253.6 593.0 257.7 594.0 258.1 595.0 253.7 596.0 248.1 597.0 246.0 598.0 249.1 599.0 254.0 600.0 257.8 601.0 262.8 602.0 266.6 603.0 266.5 604.0 263.5 605.0 259.7 606.0 256.9 607.0 257.2 608.0 259.3 609.0 259.0 610.0 255.8 611.0 247.0 612.0 233.9 613.0 226.6 614.0 230.7 615.0 238.8 616.0 243.3 617.0 239.2 618.0 232.5 619.0 231.3 620.0 240.2 621.0 249.4 622.0 248.9 623.0 241.9 624.0 235.4 625.0 235.4 626.0 241.5 627.0 248.2 628.0 250.2 629.0 248.7 630.0 246.0 631.0 244.3 632.0 245.7 633.0 251.8 634.0 260.7 635.0 270.7 636.0 280.0 637.0 286.9 638.0 290.2 639.0 287.5 640.0 278.1 641.0 266.1 642.0 255.6 643.0 250.8 644.0 255.1 645.0 263.9 646.0 267.8 647.0 262.1 648.0 251.6 649.0 241.9 650.0 238.3 651.0 240.3 652.0 244.5 653.0 249.3 654.0 253.0 655.0 255.5 656.0 258.2 657.0 260.8 658.0 264.1 659.0 268.9 660.0 273.9 661.0 277.8 662.0 279.4 663.0 276.9 664.0 271.5 665.0 264.8 666.0 258.5 667.0 254.2 668.0 253.7 669.0 258.3 670.0 265.5 671.0 272.5 672.0 275.3 673.0 272.7 674.0 266.7 675.0 259.3 676.0 252.5 677.0 248.1 678.0 246.4 679.0 246.5 680.0 247.6 681.0 249.0 682.0 248.8 683.0 247.1 684.0 245.3 685.0 244.6 686.0 252.5 687.0 267.6 688.0 267.0 689.0 253.8 690.0 239.7 691.0 236.8 692.0 240.8 693.0 251.0 694.0 262.4 695.0 271.4 696.0 274.1 697.0 267.7 698.0 255.1 699.0 241.8 700.0 234.4 701.0 236.9 702.0 249.4 703.0 263.5 704.0 268.4 705.0 269.2 706.0 276.4 707.0 295.5 708.0 314.4 709.0 320.4 710.0 315.3 711.0 306.8 712.0 296.7 713.0 286.6 714.0 278.0 715.0 270.4 716.0 262.4 717.0 257.4 718.0 259.0 719.0 269.7 720.0 274.6 721.0 266.3 722.0 258.9 723.0 266.3 724.0 286.2 725.0 304.5 726.0 307.9 727.0 295.1 728.0 278.1 729.0 270.0 730.0 273.8 731.0 279.2 732.0 284.5 733.0 288.1 734.0 289.3 735.0 289.6 736.0 289.4 737.0 290.4 738.0 294.5 739.0 299.7 740.0 304.0 741.0 305.2 742.0 301.1 743.0 294.0 744.0 287.8 745.0 286.5 746.0 296.1 747.0 308.5 748.0 310.5 749.0 300.4 750.0 295.4 751.0 295.4 752.0 295.0 753.0 294.2 754.0 295.0 755.0 297.6 756.0 301.1 757.0 304.8 758.0 311.7 759.0 318.4 760.0 318.8 761.0 309.1 762.0 303.3 763.0 310.2 764.0 319.0 765.0 320.1 766.0 315.7 767.0 309.4 768.0 304.8 769.0 305.9 770.0 314.3 771.0 319.0 772.0 314.0 773.0 306.3 774.0 303.2 775.0 307.8 776.0 314.3 777.0 314.5 778.0 304.8 779.0 291.7 780.0 282.8 781.0 283.0 782.0 287.4 783.0 293.1 784.0 298.9 785.0 303.7 786.0 309.5 787.0 316.1 788.0 318.4 789.0 311.7 790.0 300.4 791.0 292.9 792.0 294.2 793.0 300.8 794.0 308.5 795.0 313.2 796.0 311.7 797.0 310.1 798.0 310.3 799.0 303.3 800.0 289.3 801.0 277.8 802.0 277.4 803.0 288.2 804.0 301.3 805.0 306.0 806.0 300.7 807.0 291.6 808.0 284.3 809.0 283.9 810.0 287.8 811.0 289.4 812.0 288.0 813.0 286.9 814.0 289.8 815.0 293.9 816.0 294.3 817.0 290.1 818.0 289.0 819.0 296.8 820.0 293.8 821.0 290.4 822.0 289.3 823.0 292.7 824.0 298.1 825.0 302.7 826.0 303.7 827.0 298.9 828.0 290.2 829.0 280.2 830.0 271.2 831.0 265.5 832.0 265.7 833.0 270.8 834.0 272.0 835.0 271.4 836.0 270.1 837.0 269.2 838.0 273.7 839.0 280.9 840.0 284.6 841.0 282.0 842.0 273.8 843.0 266.9 844.0 268.6 845.0 277.7 846.0 286.1 847.0 286.4 848.0 279.1 849.0 269.5 850.0 262.9 851.0 263.5 852.0 267.5 853.0 270.4 854.0 269.4 855.0 266.6 856.0 264.4 857.0 265.3 858.0 268.8 859.0 273.8 860.0 279.1 861.0 283.5 862.0 285.7 863.0 284.8 864.0 281.9 865.0 278.2 866.0 274.8 867.0 272.6 868.0 270.5 869.0 268.1 870.0 266.4 871.0 266.0 872.0 268.1 873.0 271.9 874.0 275.5 875.0 277.3 876.0 278.4 877.0 280.3 878.0 288.0 879.0 285.3 880.0 276.1 881.0 273.6 882.0 280.7 883.0 281.5 884.0 278.4 885.0 274.5 886.0 272.4 887.0 274.1 888.0 277.8 889.0 281.4 890.0 285.3 891.0 289.7 892.0 291.6 893.0 289.3 894.0 284.8 895.0 280.4 896.0 276.5 897.0 272.0 898.0 268.3 899.0 267.1 900.0 268.6 901.0 271.5 902.0 274.6 903.0 277.0 904.0 279.8 905.0 282.9 906.0 285.7 907.0 287.6 908.0 286.9 909.0 282.8 910.0 278.4 911.0 275.8 912.0 273.0 913.0 270.5 914.0 269.2 915.0 269.9 916.0 272.0 917.0 274.7 918.0 279.6 919.0 283.9 920.0 283.9 921.0 276.7 922.0 269.1 923.0 268.2 924.0 271.2 925.0 276.9 926.0 283.6 927.0 290.0 928.0 294.6 929.0 295.6 930.0 291.4 931.0 283.9 932.0 275.7 933.0 269.3 934.0 267.5 935.0 272.4 936.0 283.1 937.0 295.0 938.0 303.1 939.0 302.9 940.0 296.7 941.0 291.4 942.0 287.5 943.0 285.3 944.0 286.3 945.0 290.9 946.0 297.0 947.0 302.2 948.0 304.8 949.0 303.7 950.0 301.1 951.0 299.2 952.0 299.8 953.0 301.0 954.0 302.4 955.0 303.8 956.0 305.3 957.0 307.8 958.0 310.0 959.0 310.3 960.0 309.1 961.0 307.2 962.0 306.0 963.0 307.3 964.0 313.2 965.0 321.0 966.0 325.2 967.0 322.5 968.0 316.7 969.0 313.4 970.0 317.8 971.0 327.2 972.0 335.3 973.0 336.2 974.0 331.7 975.0 327.0 976.0 326.6 977.0 330.1 978.0 335.0 979.0 338.9 980.0 339.7 981.0 337.8 982.0 335.8 983.0 336.4 984.0 340.4 985.0 345.4 986.0 349.1 987.0 349.0 988.0 345.9 989.0 342.6 990.0 342.5 991.0 346.3 992.0 350.2 993.0 349.9 994.0 346.2 995.0 342.6 996.0 342.3 997.0 345.8 998.0 349.3 999.0 349.4 1000.0 347.5 1001.0 346.5 1002.0 347.6 1003.0 349.9 1004.0 352.4 1005.0 354.3 1006.0 356.3 1007.0 358.0 1008.0 358.3 1009.0 357.8 1010.0 357.6 1011.0 359.1 1012.0 361.3 1013.0 362.1 1014.0 362.4 1015.0 362.7 1016.0 362.9 1017.0 363.1 1018.0 363.1 L1019 482Z" fill="url(#g5)"/><path d="M18 482 L18.0 193.8 19.0 193.8 20.0 193.8 21.0 193.8 22.0 193.8 23.0 193.8 24.0 193.8 25.0 193.7 26.0 193.1 27.0 192.1 28.0 190.8 29.0 189.6 30.0 188.7 31.0 188.3 32.0 188.4 33.0 188.7 34.0 189.1 35.0 189.7 36.0 190.3 37.0 191.0 38.0 191.7 39.0 192.4 40.0 193.1 41.0 194.0 42.0 195.0 43.0 196.0 44.0 197.1 45.0 198.2 46.0 199.3 47.0 200.4 48.0 201.5 49.0 202.5 50.0 203.6 51.0 204.7 52.0 205.9 53.0 207.0 54.0 208.3 55.0 209.6 56.0 211.0 57.0 212.5 58.0 214.1 59.0 215.8 60.0 217.7 61.0 219.7 62.0 222.0 63.0 224.7 64.0 227.8 65.0 231.4 66.0 235.2 67.0 239.1 68.0 242.9 69.0 246.6 70.0 250.0 71.0 253.7 72.0 257.6 73.0 260.7 74.0 262.0 75.0 260.7 76.0 257.5 77.0 253.6 78.0 250.0 79.0 246.8 80.0 241.6 81.0 237.7 82.0 234.8 83.0 232.5 84.0 230.6 85.0 228.0 86.0 225.1 87.0 222.2 88.0 219.4 89.0 217.1 90.0 215.0 91.0 212.4 92.0 209.0 93.0 205.7 94.0 202.9 95.0 200.0 96.0 197.0 97.0 192.2 98.0 184.7 99.0 182.2 100.0 180.1 101.0 178.3 102.0 176.8 103.0 175.6 104.0 172.9 105.0 170.8 106.0 170.0 107.0 170.4 108.0 171.6 109.0 173.3 110.0 175.4 111.0 177.7 112.0 180.0 113.0 182.8 114.0 186.4 115.0 190.9 116.0 196.1 117.0 201.3 118.0 206.5 119.0 211.7 120.0 216.7 121.0 221.5 122.0 226.3 123.0 231.0 124.0 235.6 125.0 240.2 126.0 244.6 127.0 248.9 128.0 252.4 129.0 255.8 130.0 259.0 131.0 261.9 132.0 264.6 133.0 266.9 134.0 269.0 135.0 270.8 136.0 272.5 137.0 274.1 138.0 275.6 139.0 277.1 140.0 278.6 141.0 280.2 142.0 281.9 143.0 283.8 144.0 285.9 145.0 288.2 146.0 290.6 147.0 293.1 148.0 295.4 149.0 297.6 150.0 299.9 151.0 302.2 152.0 304.6 153.0 307.3 154.0 310.2 155.0 313.4 156.0 317.0 157.0 320.9 158.0 325.2 159.0 329.8 160.0 335.1 161.0 341.2 162.0 348.1 163.0 356.0 164.0 364.7 165.0 374.1 166.0 385.6 167.0 401.1 168.0 418.2 169.0 434.4 170.0 447.3 171.0 454.6 172.0 453.3 173.0 442.7 174.0 428.2 175.0 415.4 176.0 408.6 177.0 403.4 178.0 398.9 179.0 394.8 180.0 391.1 181.0 387.8 182.0 384.9 183.0 382.4 184.0 380.2 185.0 378.3 186.0 376.8 187.0 375.6 188.0 374.7 189.0 374.3 190.0 374.2 191.0 373.9 192.0 373.1 193.0 371.5 194.0 369.1 195.0 363.3 196.0 354.7 197.0 346.9 198.0 343.4 199.0 345.2 200.0 350.4 201.0 358.1 202.0 367.2 203.0 377.2 204.0 387.3 205.0 396.7 206.0 404.8 207.0 410.6 208.0 413.2 209.0 409.9 210.0 398.9 211.0 383.4 212.0 367.1 213.0 353.5 214.0 346.3 215.0 346.6 216.0 349.0 217.0 352.4 218.0 356.4 219.0 360.7 220.0 364.7 221.0 368.3 222.0 371.5 223.0 374.3 224.0 378.0 225.0 382.5 226.0 387.2 227.0 391.8 228.0 396.1 229.0 399.6 230.0 402.1 231.0 402.6 232.0 393.1 233.0 373.7 234.0 350.5 235.0 328.2 236.0 310.2 237.0 305.1 238.0 306.9 239.0 310.9 240.0 316.4 241.0 322.6 242.0 328.5 243.0 334.4 244.0 339.9 245.0 344.3 246.0 347.2 247.0 348.2 248.0 340.7 249.0 324.5 250.0 308.3 251.0 300.8 252.0 301.3 253.0 303.1 254.0 306.0 255.0 309.8 256.0 314.1 257.0 318.7 258.0 323.4 259.0 327.9 260.0 332.0 261.0 335.4 262.0 337.8 263.0 339.1 264.0 338.6 265.0 335.5 266.0 330.5 267.0 324.1 268.0 317.0 269.0 310.0 270.0 303.7 271.0 298.7 272.0 295.6 273.0 292.8 274.0 290.2 275.0 287.8 276.0 285.6 277.0 284.0 278.0 283.2 279.0 283.0 280.0 283.3 281.0 284.1 282.0 285.4 283.0 287.0 284.0 288.8 285.0 290.9 286.0 293.1 287.0 296.5 288.0 302.1 289.0 309.3 290.0 317.7 291.0 326.8 292.0 336.2 293.0 345.7 294.0 354.7 295.0 362.9 296.0 369.8 297.0 374.6 298.0 377.2 299.0 376.6 300.0 372.8 301.0 365.9 302.0 357.6 303.0 348.7 304.0 340.4 305.0 333.7 306.0 329.4 307.0 328.3 308.0 329.0 309.0 331.1 310.0 334.1 311.0 337.6 312.0 341.3 313.0 344.4 314.0 346.6 315.0 347.2 316.0 346.4 317.0 344.6 318.0 342.5 319.0 340.2 320.0 337.9 321.0 335.9 322.0 333.9 323.0 331.1 324.0 328.3 325.0 326.4 326.0 326.3 327.0 327.5 328.0 329.1 329.0 330.1 330.0 329.6 331.0 327.2 332.0 324.1 333.0 320.2 334.0 315.6 335.0 310.3 336.0 304.5 337.0 298.1 338.0 291.1 339.0 280.7 340.0 266.8 341.0 252.6 342.0 241.6 343.0 237.5 344.0 242.8 345.0 254.7 346.0 269.1 347.0 281.8 348.0 289.3 349.0 293.3 350.0 294.3 351.0 293.8 352.0 292.2 353.0 290.4 354.0 289.1 355.0 289.7 356.0 292.4 357.0 296.4 358.0 301.2 359.0 305.0 360.0 307.0 361.0 308.3 362.0 309.2 363.0 310.2 364.0 311.8 365.0 314.6 366.0 322.6 367.0 335.3 368.0 337.9 369.0 329.0 370.0 316.3 371.0 307.6 372.0 302.8 373.0 296.4 374.0 289.0 375.0 281.4 376.0 274.7 377.0 270.3 378.0 269.7 379.0 275.5 380.0 286.1 381.0 299.4 382.0 312.1 383.0 320.9 384.0 324.8 385.0 326.6 386.0 326.9 387.0 326.2 388.0 324.8 389.0 324.2 390.0 325.1 391.0 326.1 392.0 326.0 393.0 323.4 394.0 317.7 395.0 311.4 396.0 305.1 397.0 298.3 398.0 292.3 399.0 288.1 400.0 286.5 401.0 285.5 402.0 286.6 403.0 289.4 404.0 293.2 405.0 297.5 406.0 301.8 407.0 306.7 408.0 312.5 409.0 315.8 410.0 315.2 411.0 309.5 412.0 300.1 413.0 290.6 414.0 283.1 415.0 278.3 416.0 278.1 417.0 283.7 418.0 293.6 419.0 305.8 420.0 318.2 421.0 329.8 422.0 339.7 423.0 344.7 424.0 342.7 425.0 334.6 426.0 323.1 427.0 310.4 428.0 299.6 429.0 293.6 430.0 296.6 431.0 305.2 432.0 313.0 433.0 314.6 434.0 307.2 435.0 295.5 436.0 282.6 437.0 270.6 438.0 262.6 439.0 262.1 440.0 267.8 441.0 286.0 442.0 305.0 443.0 312.7 444.0 306.0 445.0 296.8 446.0 297.7 447.0 307.2 448.0 319.6 449.0 330.5 450.0 335.0 451.0 328.9 452.0 315.3 453.0 297.8 454.0 273.2 455.0 243.0 456.0 218.0 457.0 209.6 458.0 224.4 459.0 247.1 460.0 268.2 461.0 281.6 462.0 282.6 463.0 282.3 464.0 281.0 465.0 278.0 466.0 274.3 467.0 271.5 468.0 271.3 469.0 273.7 470.0 280.4 471.0 288.7 472.0 296.9 473.0 301.2 474.0 298.6 475.0 288.6 476.0 266.7 477.0 234.8 478.0 211.5 479.0 203.1 480.0 203.0 481.0 208.4 482.0 216.7 483.0 224.2 484.0 227.0 485.0 227.1 486.0 232.2 487.0 240.5 488.0 250.3 489.0 261.8 490.0 272.7 491.0 282.8 492.0 292.4 493.0 307.0 494.0 324.3 495.0 338.6 496.0 344.5 497.0 342.1 498.0 334.4 499.0 323.4 500.0 311.1 501.0 297.5 502.0 286.0 503.0 276.8 504.0 272.2 505.0 272.8 506.0 272.8 507.0 268.1 508.0 257.1 509.0 243.9 510.0 233.2 511.0 227.5 512.0 229.0 513.0 240.1 514.0 253.8 515.0 263.7 516.0 263.7 517.0 255.9 518.0 247.2 519.0 243.8 520.0 243.8 521.0 245.9 522.0 249.7 523.0 254.9 524.0 261.9 525.0 282.4 526.0 304.6 527.0 309.9 528.0 302.4 529.0 291.1 530.0 282.9 531.0 280.9 532.0 280.5 533.0 276.7 534.0 266.9 535.0 254.7 536.0 242.8 537.0 233.0 538.0 227.7 539.0 229.5 540.0 241.5 541.0 267.6 542.0 295.2 543.0 311.8 544.0 310.1 545.0 296.6 546.0 277.8 547.0 260.4 548.0 250.3 549.0 244.7 550.0 243.1 551.0 246.8 552.0 255.2 553.0 266.2 554.0 278.2 555.0 289.2 556.0 297.6 557.0 301.3 558.0 299.8 559.0 294.6 560.0 287.2 561.0 279.9 562.0 275.0 563.0 274.9 564.0 279.3 565.0 286.1 566.0 293.3 567.0 299.2 568.0 301.9 569.0 299.0 570.0 290.2 571.0 278.2 572.0 266.2 573.0 257.3 574.0 255.0 575.0 261.9 576.0 270.6 577.0 269.7 578.0 258.3 579.0 248.7 580.0 249.3 581.0 256.3 582.0 269.2 583.0 282.9 584.0 293.9 585.0 298.6 586.0 295.6 587.0 288.1 588.0 278.7 589.0 270.0 590.0 265.1 591.0 267.4 592.0 273.8 593.0 278.6 594.0 279.1 595.0 274.4 596.0 268.2 597.0 265.4 598.0 268.0 599.0 272.4 600.0 275.9 601.0 280.9 602.0 285.1 603.0 286.1 604.0 284.5 605.0 282.2 606.0 280.8 607.0 282.0 608.0 284.5 609.0 283.8 610.0 279.7 611.0 269.6 612.0 255.2 613.0 247.0 614.0 251.0 615.0 259.1 616.0 263.3 617.0 258.7 618.0 251.3 619.0 249.7 620.0 258.6 621.0 267.9 622.0 267.1 623.0 259.7 624.0 252.9 625.0 252.9 626.0 259.3 627.0 266.4 628.0 268.6 629.0 267.2 630.0 264.6 631.0 262.9 632.0 264.5 633.0 270.9 634.0 280.3 635.0 290.6 636.0 300.2 637.0 307.3 638.0 310.6 639.0 307.9 640.0 298.4 641.0 286.3 642.0 275.7 643.0 271.0 644.0 275.7 645.0 285.1 646.0 289.3 647.0 283.7 648.0 272.9 649.0 262.8 650.0 259.1 651.0 260.9 652.0 264.9 653.0 269.3 654.0 272.5 655.0 274.4 656.0 276.5 657.0 278.4 658.0 281.2 659.0 285.7 660.0 290.5 661.0 294.4 662.0 296.2 663.0 294.2 664.0 289.2 665.0 283.2 666.0 277.6 667.0 274.2 668.0 274.7 669.0 280.4 670.0 289.1 671.0 297.5 672.0 301.4 673.0 299.3 674.0 293.1 675.0 285.3 676.0 277.8 677.0 272.7 678.0 270.3 679.0 269.9 680.0 270.6 681.0 271.9 682.0 271.6 683.0 270.0 684.0 268.3 685.0 267.7 686.0 276.0 687.0 291.9 688.0 291.3 689.0 277.5 690.0 262.6 691.0 259.5 692.0 262.8 693.0 272.8 694.0 284.0 695.0 292.8 696.0 295.3 697.0 288.4 698.0 275.3 699.0 261.6 700.0 254.5 701.0 257.7 702.0 271.2 703.0 286.5 704.0 292.0 705.0 293.2 706.0 300.8 707.0 320.7 708.0 340.1 709.0 346.0 710.0 340.3 711.0 331.1 712.0 320.4 713.0 309.9 714.0 301.0 715.0 293.3 716.0 285.2 717.0 280.4 718.0 282.4 719.0 293.7 720.0 299.0 721.0 290.4 722.0 282.7 723.0 290.4 724.0 311.0 725.0 330.2 726.0 334.0 727.0 321.0 728.0 303.9 729.0 296.0 730.0 300.5 731.0 306.7 732.0 312.7 733.0 316.8 734.0 318.4 735.0 318.8 736.0 318.7 737.0 319.7 738.0 323.8 739.0 329.2 740.0 333.6 741.0 334.9 742.0 330.6 743.0 323.4 744.0 317.0 745.0 315.8 746.0 325.9 747.0 338.9 748.0 341.3 749.0 331.0 750.0 325.9 751.0 326.0 752.0 325.7 753.0 324.7 754.0 325.2 755.0 327.7 756.0 331.0 757.0 334.5 758.0 341.3 759.0 348.0 760.0 348.3 761.0 338.2 762.0 332.4 763.0 340.0 764.0 349.8 765.0 351.5 766.0 347.5 767.0 341.5 768.0 337.0 769.0 338.3 770.0 347.0 771.0 351.7 772.0 346.2 773.0 338.0 774.0 334.6 775.0 339.5 776.0 346.5 777.0 347.1 778.0 337.5 779.0 324.5 780.0 315.7 781.0 316.3 782.0 321.1 783.0 327.0 784.0 332.8 785.0 337.5 786.0 343.2 787.0 349.7 788.0 351.9 789.0 344.6 790.0 332.6 791.0 324.4 792.0 325.0 793.0 331.0 794.0 338.2 795.0 342.2 796.0 340.0 797.0 337.9 798.0 338.2 799.0 331.3 800.0 317.3 801.0 305.9 802.0 306.0 803.0 317.7 804.0 331.8 805.0 337.0 806.0 331.9 807.0 322.7 808.0 315.2 809.0 314.9 810.0 318.8 811.0 320.2 812.0 318.3 813.0 316.6 814.0 319.1 815.0 322.7 816.0 322.5 817.0 317.5 818.0 315.9 819.0 323.4 820.0 319.9 821.0 315.9 822.0 314.3 823.0 317.5 824.0 322.9 825.0 327.7 826.0 328.9 827.0 324.2 828.0 315.6 829.0 305.7 830.0 296.9 831.0 291.4 832.0 292.0 833.0 297.5 834.0 298.8 835.0 298.0 836.0 296.4 837.0 295.2 838.0 299.4 839.0 306.3 840.0 309.1 841.0 305.2 842.0 295.9 843.0 288.5 844.0 290.2 845.0 299.7 846.0 308.6 847.0 309.2 848.0 302.0 849.0 292.4 850.0 285.9 851.0 286.8 852.0 291.1 853.0 294.2 854.0 293.1 855.0 290.1 856.0 287.6 857.0 288.1 858.0 291.4 859.0 296.3 860.0 301.4 861.0 305.6 862.0 307.7 863.0 306.8 864.0 303.8 865.0 300.2 866.0 296.9 867.0 295.1 868.0 293.3 869.0 291.2 870.0 289.7 871.0 289.6 872.0 291.9 873.0 296.0 874.0 299.7 875.0 301.6 876.0 302.8 877.0 304.9 878.0 313.0 879.0 310.4 880.0 301.2 881.0 298.8 882.0 306.5 883.0 307.7 884.0 304.7 885.0 300.7 886.0 298.6 887.0 300.2 888.0 303.9 889.0 307.4 890.0 311.1 891.0 315.4 892.0 317.1 893.0 314.5 894.0 309.8 895.0 305.2 896.0 301.3 897.0 296.7 898.0 292.9 899.0 291.6 900.0 293.2 901.0 296.0 902.0 299.1 903.0 301.4 904.0 304.0 905.0 307.1 906.0 310.0 907.0 311.9 908.0 311.4 909.0 307.2 910.0 302.8 911.0 300.3 912.0 297.6 913.0 295.1 914.0 293.7 915.0 294.3 916.0 296.2 917.0 298.8 918.0 303.6 919.0 307.8 920.0 307.6 921.0 299.9 922.0 291.8 923.0 290.7 924.0 293.9 925.0 300.2 926.0 307.8 927.0 315.0 928.0 320.2 929.0 321.4 930.0 316.8 931.0 308.5 932.0 299.3 933.0 292.3 934.0 290.5 935.0 296.0 936.0 307.8 937.0 320.5 938.0 328.8 939.0 327.7 940.0 320.3 941.0 314.4 942.0 310.4 943.0 308.2 944.0 309.5 945.0 314.5 946.0 321.1 947.0 326.7 948.0 329.8 949.0 329.2 950.0 326.9 951.0 325.3 952.0 326.2 953.0 327.4 954.0 328.8 955.0 330.1 956.0 331.6 957.0 334.0 958.0 336.1 959.0 336.3 960.0 334.9 961.0 332.9 962.0 331.5 963.0 333.2 964.0 339.8 965.0 348.3 966.0 352.9 967.0 350.2 968.0 344.1 969.0 340.6 970.0 345.1 971.0 354.8 972.0 363.0 973.0 363.9 974.0 359.0 975.0 354.1 976.0 353.6 977.0 357.2 978.0 362.2 979.0 366.2 980.0 367.1 981.0 365.2 982.0 363.2 983.0 363.9 984.0 368.1 985.0 373.4 986.0 377.3 987.0 377.2 988.0 373.9 989.0 370.4 990.0 370.2 991.0 374.0 992.0 377.8 993.0 377.4 994.0 373.5 995.0 369.6 996.0 369.1 997.0 372.6 998.0 376.2 999.0 376.1 1000.0 374.1 1001.0 373.0 1002.0 374.0 1003.0 376.3 1004.0 378.7 1005.0 380.6 1006.0 382.6 1007.0 384.2 1008.0 384.5 1009.0 384.0 1010.0 383.7 1011.0 385.2 1012.0 387.4 1013.0 388.2 1014.0 388.5 1015.0 388.7 1016.0 389.0 1017.0 389.1 1018.0 389.1 L1019 482Z" fill="url(#g6)"/><path d="M18 482 L18.0 198.8 19.0 198.8 20.0 198.8 21.0 198.8 22.0 198.8 23.0 198.8 24.0 198.8 25.0 198.8 26.0 198.7 27.0 198.6 28.0 198.5 29.0 198.4 30.0 198.4 31.0 198.7 32.0 199.1 33.0 199.7 34.0 200.4 35.0 201.2 36.0 202.0 37.0 202.8 38.0 203.8 39.0 205.0 40.0 206.3 41.0 207.7 42.0 209.0 43.0 210.2 44.0 211.3 45.0 212.4 46.0 213.4 47.0 214.5 48.0 215.5 49.0 216.5 50.0 217.6 51.0 218.6 52.0 219.7 53.0 220.8 54.0 222.0 55.0 223.3 56.0 224.6 57.0 226.0 58.0 227.5 59.0 229.1 60.0 230.7 61.0 232.5 62.0 234.4 63.0 236.3 64.0 238.4 65.0 240.7 66.0 243.0 67.0 245.7 68.0 248.8 69.0 252.2 70.0 255.7 71.0 259.0 72.0 262.0 73.0 265.2 74.0 267.0 75.0 265.2 76.0 262.0 77.0 258.8 78.0 253.7 79.0 246.8 80.0 241.6 81.0 237.7 82.0 234.8 83.0 232.5 84.0 230.6 85.0 229.2 86.0 228.1 87.0 227.2 88.0 226.2 89.0 224.4 90.0 222.0 91.0 219.4 92.0 216.6 93.0 213.7 94.0 210.7 95.0 207.0 96.0 201.6 97.0 192.2 98.0 184.7 99.0 182.2 100.0 180.1 101.0 178.3 102.0 176.8 103.0 175.6 104.0 173.3 105.0 172.3 106.0 172.6 107.0 173.4 108.0 174.6 109.0 176.1 110.0 177.9 111.0 179.9 112.0 182.0 113.0 184.9 114.0 189.2 115.0 194.6 116.0 200.6 117.0 206.7 118.0 212.5 119.0 217.9 120.0 222.8 121.0 227.4 122.0 231.8 123.0 236.0 124.0 240.1 125.0 244.1 126.0 247.8 127.0 251.4 128.0 254.8 129.0 258.0 130.0 261.0 131.0 263.8 132.0 266.3 133.0 268.4 134.0 270.4 135.0 272.1 136.0 273.6 137.0 275.0 138.0 276.4 139.0 277.8 140.0 279.1 141.0 280.6 142.0 282.2 143.0 284.0 144.0 286.0 145.0 288.3 146.0 290.8 147.0 293.4 148.0 296.0 149.0 298.7 150.0 301.4 151.0 304.2 152.0 307.1 153.0 310.3 154.0 313.6 155.0 317.3 156.0 321.2 157.0 325.4 158.0 330.0 159.0 334.9 160.0 340.4 161.0 346.9 162.0 354.2 163.0 362.4 164.0 371.3 165.0 380.9 166.0 393.0 167.0 409.6 168.0 428.1 169.0 445.7 170.0 459.9 171.0 467.8 172.0 466.3 173.0 454.5 174.0 438.3 175.0 423.9 176.0 416.1 177.0 410.2 178.0 405.1 179.0 400.7 180.0 396.8 181.0 393.5 182.0 390.7 183.0 388.5 184.0 386.5 185.0 384.9 186.0 383.6 187.0 382.4 188.0 381.4 189.0 380.6 190.0 379.7 191.0 378.6 192.0 377.1 193.0 375.1 194.0 372.4 195.0 366.0 196.0 356.7 197.0 348.2 198.0 344.4 199.0 346.6 200.0 352.5 201.0 361.3 202.0 372.0 203.0 383.6 204.0 395.3 205.0 406.2 206.0 415.5 207.0 422.1 208.0 425.1 209.0 421.6 210.0 409.5 211.0 392.6 212.0 374.7 213.0 359.7 214.0 351.6 215.0 351.6 216.0 353.6 217.0 356.7 218.0 360.6 219.0 364.9 220.0 369.3 221.0 373.5 222.0 377.4 223.0 381.0 224.0 385.3 225.0 390.2 226.0 395.3 227.0 400.2 228.0 404.6 229.0 408.2 230.0 410.4 231.0 410.4 232.0 399.2 233.0 377.9 234.0 352.4 235.0 328.2 236.0 310.2 237.0 305.1 238.0 306.9 239.0 310.9 240.0 316.4 241.0 322.9 242.0 329.6 243.0 336.3 244.0 342.4 245.0 347.4 246.0 350.7 247.0 351.9 248.0 343.9 249.0 326.4 250.0 308.9 251.0 300.9 252.0 301.6 253.0 303.8 254.0 307.1 255.0 311.2 256.0 316.0 257.0 321.1 258.0 326.3 259.0 331.2 260.0 335.7 261.0 339.4 262.0 342.1 263.0 343.4 264.0 343.0 265.0 339.7 266.0 334.4 267.0 327.6 268.0 320.1 269.0 312.6 270.0 306.0 271.0 300.9 272.0 297.7 273.0 295.1 274.0 292.6 275.0 290.4 276.0 288.6 277.0 287.4 278.0 286.9 279.0 287.1 280.0 287.8 281.0 288.9 282.0 290.3 283.0 292.2 284.0 294.2 285.0 296.4 286.0 298.8 287.0 302.5 288.0 308.4 289.0 316.0 290.0 324.9 291.0 334.6 292.0 344.6 293.0 354.6 294.0 363.9 295.0 372.2 296.0 379.0 297.0 383.8 298.0 386.0 299.0 385.0 300.0 380.6 301.0 373.3 302.0 364.7 303.0 355.7 304.0 347.4 305.0 340.7 306.0 336.8 307.0 336.2 308.0 337.6 309.0 340.2 310.0 343.7 311.0 347.7 312.0 351.6 313.0 354.8 314.0 356.9 315.0 357.3 316.0 356.2 317.0 354.2 318.0 351.7 319.0 348.9 320.0 346.1 321.0 343.6 322.0 341.2 323.0 338.1 324.0 335.2 325.0 333.5 326.0 334.1 327.0 336.5 328.0 339.5 329.0 341.9 330.0 342.6 331.0 341.0 332.0 338.4 333.0 334.8 334.0 330.3 335.0 325.0 336.0 319.1 337.0 312.5 338.0 305.3 339.0 294.3 340.0 278.9 341.0 263.2 342.0 250.9 343.0 246.2 344.0 252.1 345.0 265.5 346.0 281.8 347.0 296.2 348.0 304.7 349.0 309.6 350.0 311.6 351.0 311.9 352.0 311.2 353.0 310.3 354.0 310.1 355.0 312.1 356.0 316.2 357.0 321.5 358.0 327.1 359.0 331.2 360.0 332.7 361.0 333.0 362.0 332.6 363.0 332.3 364.0 332.6 365.0 334.4 366.0 342.0 367.0 354.9 368.0 358.0 369.0 349.6 370.0 337.4 371.0 329.5 372.0 325.6 373.0 319.8 374.0 312.6 375.0 305.0 376.0 298.0 377.0 293.2 378.0 292.2 379.0 297.8 380.0 308.8 381.0 322.7 382.0 336.4 383.0 346.2 384.0 351.1 385.0 353.9 386.0 355.0 387.0 354.7 388.0 353.3 389.0 352.2 390.0 352.1 391.0 351.9 392.0 350.5 393.0 346.7 394.0 340.0 395.0 333.2 396.0 326.7 397.0 320.0 398.0 314.2 399.0 310.3 400.0 309.1 401.0 308.8 402.0 310.8 403.0 314.8 404.0 319.9 405.0 325.5 406.0 330.9 407.0 336.6 408.0 342.7 409.0 345.7 410.0 344.4 411.0 337.8 412.0 327.5 413.0 317.6 414.0 310.1 415.0 305.6 416.0 306.0 417.0 312.1 418.0 322.7 419.0 335.5 420.0 348.5 421.0 360.6 422.0 371.1 423.0 376.6 424.0 374.5 425.0 365.9 426.0 353.3 427.0 339.0 428.0 326.7 429.0 318.9 430.0 320.2 431.0 327.5 432.0 334.2 433.0 334.7 434.0 326.5 435.0 314.2 436.0 301.4 437.0 289.7 438.0 282.4 439.0 283.1 440.0 289.6 441.0 309.2 442.0 329.7 443.0 338.4 444.0 332.1 445.0 323.2 446.0 324.6 447.0 334.9 448.0 348.1 449.0 359.7 450.0 364.3 451.0 357.6 452.0 342.9 453.0 324.1 454.0 296.9 455.0 262.6 456.0 233.9 457.0 223.9 458.0 240.6 459.0 267.6 460.0 293.5 461.0 310.6 462.0 313.0 463.0 313.4 464.0 312.7 465.0 310.1 466.0 306.4 467.0 303.3 468.0 302.7 469.0 303.7 470.0 309.3 471.0 316.2 472.0 322.9 473.0 325.3 474.0 320.1 475.0 307.3 476.0 282.3 477.0 246.8 478.0 220.0 479.0 209.2 480.0 207.7 481.0 216.2 482.0 228.2 483.0 239.7 484.0 245.7 485.0 248.0 486.0 255.5 487.0 265.6 488.0 276.7 489.0 289.3 490.0 300.8 491.0 311.3 492.0 321.1 493.0 336.3 494.0 354.2 495.0 369.3 496.0 375.9 497.0 374.1 498.0 367.0 499.0 356.6 500.0 344.7 501.0 331.1 502.0 319.3 503.0 309.3 504.0 303.2 505.0 302.5 506.0 301.2 507.0 295.1 508.0 282.7 509.0 268.3 510.0 256.9 511.0 251.1 512.0 252.3 513.0 263.4 514.0 277.3 515.0 287.2 516.0 287.0 517.0 278.6 518.0 269.4 519.0 265.7 520.0 265.5 521.0 267.5 522.0 271.4 523.0 276.8 524.0 284.1 525.0 305.4 526.0 328.6 527.0 334.3 528.0 326.6 529.0 315.1 530.0 306.5 531.0 303.9 532.0 302.5 533.0 297.3 534.0 285.6 535.0 271.6 536.0 258.0 537.0 247.1 538.0 241.3 539.0 243.7 540.0 257.0 541.0 285.1 542.0 314.8 543.0 332.6 544.0 330.7 545.0 315.8 546.0 295.1 547.0 276.3 548.0 266.0 549.0 260.9 550.0 260.1 551.0 264.6 552.0 274.0 553.0 286.1 554.0 299.1 555.0 311.1 556.0 320.3 557.0 324.7 558.0 323.6 559.0 318.4 560.0 310.7 561.0 302.8 562.0 297.2 563.0 296.3 564.0 300.0 565.0 305.9 566.0 312.4 567.0 317.7 568.0 319.8 569.0 316.5 570.0 307.5 571.0 295.3 572.0 283.1 573.0 274.2 574.0 272.2 575.0 279.6 576.0 288.7 577.0 287.8 578.0 276.0 579.0 266.0 580.0 266.4 581.0 273.1 582.0 285.9 583.0 299.7 584.0 310.8 585.0 315.6 586.0 312.6 587.0 305.2 588.0 295.9 589.0 287.5 590.0 283.1 591.0 286.3 592.0 293.7 593.0 299.0 594.0 299.7 595.0 294.6 596.0 287.7 597.0 284.2 598.0 286.1 599.0 290.1 600.0 293.2 601.0 298.2 602.0 302.8 603.0 304.6 604.0 304.3 605.0 303.4 606.0 303.2 607.0 305.3 608.0 308.0 609.0 306.9 610.0 301.8 611.0 290.6 612.0 274.8 613.0 265.8 614.0 269.7 615.0 277.8 616.0 281.9 617.0 276.8 618.0 268.9 619.0 266.9 620.0 275.9 621.0 285.2 622.0 284.2 623.0 276.4 624.0 269.3 625.0 269.3 626.0 276.1 627.0 283.6 628.0 286.0 629.0 284.8 630.0 282.2 631.0 280.5 632.0 282.4 633.0 289.2 634.0 298.9 635.0 309.6 636.0 319.6 637.0 326.8 638.0 330.2 639.0 327.5 640.0 317.9 641.0 305.6 642.0 295.0 643.0 290.5 644.0 295.7 645.0 305.6 646.0 310.2 647.0 304.5 648.0 293.5 649.0 283.2 650.0 279.3 651.0 281.0 652.0 284.8 653.0 288.9 654.0 291.7 655.0 293.0 656.0 294.4 657.0 295.8 658.0 298.1 659.0 302.2 660.0 306.9 661.0 310.9 662.0 312.9 663.0 311.2 664.0 306.8 665.0 301.4 666.0 296.6 667.0 294.1 668.0 295.6 669.0 302.5 670.0 312.6 671.0 322.5 672.0 327.5 673.0 325.9 674.0 319.7 675.0 311.4 676.0 303.2 677.0 297.4 678.0 294.5 679.0 293.5 680.0 293.9 681.0 295.1 682.0 294.9 683.0 293.3 684.0 291.7 685.0 291.3 686.0 300.1 687.0 316.7 688.0 316.2 689.0 301.8 690.0 286.2 691.0 282.8 692.0 285.5 693.0 295.3 694.0 306.3 695.0 314.9 696.0 317.1 697.0 309.8 698.0 296.3 699.0 282.2 700.0 275.3 701.0 279.4 702.0 293.9 703.0 310.4 704.0 316.7 705.0 318.3 706.0 326.3 707.0 347.0 708.0 367.0 709.0 372.8 710.0 366.5 711.0 356.7 712.0 345.4 713.0 334.4 714.0 325.2 715.0 317.4 716.0 309.3 717.0 304.8 718.0 307.2 719.0 319.3 720.0 324.9 721.0 316.0 722.0 308.1 723.0 316.0 724.0 337.6 725.0 357.7 726.0 362.0 727.0 348.9 728.0 331.6 729.0 323.9 730.0 329.3 731.0 336.4 732.0 343.1 733.0 347.8 734.0 349.8 735.0 350.5 736.0 350.4 737.0 351.4 738.0 355.7 739.0 361.2 740.0 365.8 741.0 367.2 742.0 362.9 743.0 355.4 744.0 349.0 745.0 347.8 746.0 358.6 747.0 372.4 748.0 375.1 749.0 364.6 750.0 359.5 751.0 359.8 752.0 359.4 753.0 358.3 754.0 358.7 755.0 361.0 756.0 364.1 757.0 367.4 758.0 374.2 759.0 380.9 760.0 381.1 761.0 370.6 762.0 364.8 763.0 373.3 764.0 384.1 765.0 386.6 766.0 383.2 767.0 377.5 768.0 373.2 769.0 374.7 770.0 383.7 771.0 388.5 772.0 382.5 773.0 373.7 774.0 370.2 775.0 375.4 776.0 382.9 777.0 384.1 778.0 374.7 779.0 361.8 780.0 353.2 781.0 354.2 782.0 359.4 783.0 365.6 784.0 371.6 785.0 376.2 786.0 381.7 787.0 388.0 788.0 390.0 789.0 382.1 790.0 369.2 791.0 360.2 792.0 360.0 793.0 365.3 794.0 371.7 795.0 374.9 796.0 371.8 797.0 369.3 798.0 369.6 799.0 362.8 800.0 348.6 801.0 337.4 802.0 338.1 803.0 350.7 804.0 365.8 805.0 371.8 806.0 366.8 807.0 357.3 808.0 349.7 809.0 349.4 810.0 353.3 811.0 354.3 812.0 352.0 813.0 349.6 814.0 351.5 815.0 354.6 816.0 353.7 817.0 347.8 818.0 345.4 819.0 352.7 820.0 348.5 821.0 343.8 822.0 341.8 823.0 344.7 824.0 350.1 825.0 355.1 826.0 356.4 827.0 351.8 828.0 343.3 829.0 333.5 830.0 324.8 831.0 319.6 832.0 320.5 833.0 326.4 834.0 327.7 835.0 326.8 836.0 324.8 837.0 323.1 838.0 327.0 839.0 333.7 840.0 335.5 841.0 330.0 842.0 319.5 843.0 311.6 844.0 313.3 845.0 323.2 846.0 332.6 847.0 333.5 848.0 326.3 849.0 316.7 850.0 310.2 851.0 311.5 852.0 316.1 853.0 319.3 854.0 318.2 855.0 314.8 856.0 311.9 857.0 312.2 858.0 315.2 859.0 319.8 860.0 324.7 861.0 328.8 862.0 330.8 863.0 329.7 864.0 326.7 865.0 323.1 866.0 320.0 867.0 318.5 868.0 317.0 869.0 315.2 870.0 313.9 871.0 314.0 872.0 316.5 873.0 320.8 874.0 324.7 875.0 326.7 876.0 327.9 877.0 330.1 878.0 338.7 879.0 336.2 880.0 326.8 881.0 324.7 882.0 332.9 883.0 334.4 884.0 331.4 885.0 327.4 886.0 325.1 887.0 326.7 888.0 330.3 889.0 333.6 890.0 337.2 891.0 341.3 892.0 342.8 893.0 339.9 894.0 335.0 895.0 330.2 896.0 326.1 897.0 321.3 898.0 317.5 899.0 316.2 900.0 317.7 901.0 320.6 902.0 323.7 903.0 325.9 904.0 328.5 905.0 331.5 906.0 334.5 907.0 336.5 908.0 336.1 909.0 331.9 910.0 327.6 911.0 325.3 912.0 322.7 913.0 320.2 914.0 318.7 915.0 319.2 916.0 321.1 917.0 323.5 918.0 328.2 919.0 332.3 920.0 332.0 921.0 323.8 922.0 315.1 923.0 313.9 924.0 317.4 925.0 324.4 926.0 332.9 927.0 341.0 928.0 346.8 929.0 348.2 930.0 343.2 931.0 334.1 932.0 324.0 933.0 316.4 934.0 314.6 935.0 320.9 936.0 333.7 937.0 347.3 938.0 355.8 939.0 353.9 940.0 345.2 941.0 338.8 942.0 334.6 943.0 332.6 944.0 334.1 945.0 339.6 946.0 346.7 947.0 352.9 948.0 356.5 949.0 356.4 950.0 354.5 951.0 353.3 952.0 354.5 953.0 355.8 954.0 357.2 955.0 358.5 956.0 359.9 957.0 362.3 958.0 364.3 959.0 364.5 960.0 362.9 961.0 360.8 962.0 359.3 963.0 361.4 964.0 368.8 965.0 378.1 966.0 383.2 967.0 380.4 968.0 374.2 969.0 370.5 970.0 375.2 971.0 385.1 972.0 393.6 973.0 394.3 974.0 389.3 975.0 384.0 976.0 383.6 977.0 387.2 978.0 392.4 979.0 396.6 980.0 397.6 981.0 395.7 982.0 393.8 983.0 394.7 984.0 399.2 985.0 404.9 986.0 408.9 987.0 409.0 988.0 405.5 989.0 401.8 990.0 401.5 991.0 405.4 992.0 409.2 993.0 408.6 994.0 404.5 995.0 400.3 996.0 399.7 997.0 403.3 998.0 406.9 999.0 406.8 1000.0 404.6 1001.0 403.3 1002.0 404.4 1003.0 406.6 1004.0 409.1 1005.0 410.9 1006.0 412.9 1007.0 414.6 1008.0 414.9 1009.0 414.3 1010.0 414.1 1011.0 415.6 1012.0 417.8 1013.0 418.6 1014.0 418.9 1015.0 419.1 1016.0 419.3 1017.0 419.4 1018.0 419.4 L1019 482Z" fill="url(#g7)"/><path d="M18 482 L18.0 199.5 19.0 199.5 20.0 199.5 21.0 199.5 22.0 199.5 23.0 199.5 24.0 199.5 25.0 199.5 26.0 199.6 27.0 199.7 28.0 199.9 29.0 200.1 30.0 200.3 31.0 200.6 32.0 201.2 33.0 202.0 34.0 203.0 35.0 204.1 36.0 205.2 37.0 206.4 38.0 207.4 39.0 208.5 40.0 209.6 41.0 210.8 42.0 212.0 43.0 213.3 44.0 214.5 45.0 215.8 46.0 217.1 47.0 218.4 48.0 219.8 49.0 221.2 50.0 222.6 51.0 224.1 52.0 225.5 53.0 227.0 54.0 228.4 55.0 229.7 56.0 231.0 57.0 232.1 58.0 233.1 59.0 234.1 60.0 235.3 61.0 236.6 62.0 238.2 63.0 240.4 64.0 243.4 65.0 247.1 66.0 251.3 67.0 255.8 68.0 260.2 69.0 264.7 70.0 270.1 71.0 277.5 72.0 295.9 73.0 315.9 74.0 316.7 75.0 307.5 76.0 294.2 77.0 275.2 78.0 253.7 79.0 246.8 80.0 241.6 81.0 237.7 82.0 234.8 83.0 232.5 84.0 230.6 85.0 229.2 86.0 228.1 87.0 227.2 88.0 226.2 89.0 225.1 90.0 223.6 91.0 221.6 92.0 218.9 93.0 215.6 94.0 211.6 95.0 207.0 96.0 201.6 97.0 192.2 98.0 184.7 99.0 182.2 100.0 180.1 101.0 178.3 102.0 176.8 103.0 175.6 104.0 174.8 105.0 174.3 106.0 174.2 107.0 174.6 108.0 175.6 109.0 177.1 110.0 179.1 111.0 181.4 112.0 183.9 113.0 187.4 114.0 193.3 115.0 200.2 116.0 207.2 117.0 213.0 118.0 217.9 119.0 222.5 120.0 226.9 121.0 231.0 122.0 234.8 123.0 238.6 124.0 242.3 125.0 245.9 126.0 249.4 127.0 252.9 128.0 256.1 129.0 259.2 130.0 262.1 131.0 264.8 132.0 267.2 133.0 269.3 134.0 271.1 135.0 272.8 136.0 274.2 137.0 275.6 138.0 276.8 139.0 278.1 140.0 279.4 141.0 280.8 142.0 282.4 143.0 284.1 144.0 286.1 145.0 288.4 146.0 290.9 147.0 293.6 148.0 296.4 149.0 299.2 150.0 302.2 151.0 305.3 152.0 308.5 153.0 312.0 154.0 315.6 155.0 319.4 156.0 323.6 157.0 328.0 158.0 332.7 159.0 337.7 160.0 343.4 161.0 350.1 162.0 357.6 163.0 365.9 164.0 375.0 165.0 384.8 166.0 397.1 167.0 414.3 168.0 433.5 169.0 452.1 170.0 466.9 171.0 475.2 172.0 473.5 173.0 461.0 174.0 443.9 175.0 428.6 176.0 420.3 177.0 414.0 178.0 408.6 179.0 403.9 180.0 400.0 181.0 396.7 182.0 394.0 183.0 391.8 184.0 390.1 185.0 388.6 186.0 387.4 187.0 386.3 188.0 385.2 189.0 384.0 190.0 382.7 191.0 381.2 192.0 379.4 193.0 377.1 194.0 374.3 195.0 367.6 196.0 357.8 197.0 348.9 198.0 345.0 199.0 347.3 200.0 353.7 201.0 363.1 202.0 374.6 203.0 387.1 204.0 399.8 205.0 411.5 206.0 421.4 207.0 428.5 208.0 431.7 209.0 428.1 210.0 415.5 211.0 397.7 212.0 378.8 213.0 363.1 214.0 354.5 215.0 354.4 216.0 356.1 217.0 359.1 218.0 362.8 219.0 367.2 220.0 371.8 221.0 376.4 222.0 380.7 223.0 384.7 224.0 389.3 225.0 394.5 226.0 399.8 227.0 404.9 228.0 409.4 229.0 412.9 230.0 415.0 231.0 414.7 232.0 402.6 233.0 380.2 234.0 353.5 235.0 328.2 236.0 310.2 237.0 305.1 238.0 306.9 239.0 310.9 240.0 316.4 241.0 323.1 242.0 330.2 243.0 337.3 244.0 343.8 245.0 349.1 246.0 352.7 247.0 354.0 248.0 345.7 249.0 327.5 250.0 309.3 251.0 301.0 252.0 301.8 253.0 304.1 254.0 307.6 255.0 312.0 256.0 317.0 257.0 322.4 258.0 327.8 259.0 333.0 260.0 337.7 261.0 341.6 262.0 344.4 263.0 345.9 264.0 345.4 265.0 342.1 266.0 336.5 267.0 329.5 268.0 321.8 269.0 314.1 270.0 307.3 271.0 302.1 272.0 298.9 273.0 296.4 274.0 294.0 275.0 291.9 276.0 290.3 277.0 289.3 278.0 289.0 279.0 289.4 280.0 290.2 281.0 291.5 282.0 293.1 283.0 295.0 284.0 297.2 285.0 299.5 286.0 302.0 287.0 305.8 288.0 311.9 289.0 319.8 290.0 328.9 291.0 338.9 292.0 349.3 293.0 359.5 294.0 369.0 295.0 377.4 296.0 384.2 297.0 388.9 298.0 390.9 299.0 389.7 300.0 384.9 301.0 377.7 302.0 369.1 303.0 360.2 304.0 352.0 305.0 345.6 306.0 342.1 307.0 342.2 308.0 344.2 309.0 347.7 310.0 351.9 311.0 356.3 312.0 360.5 313.0 364.0 314.0 366.0 315.0 366.3 316.0 365.1 317.0 362.9 318.0 359.9 319.0 356.6 320.0 353.1 321.0 349.9 322.0 346.7 323.0 342.9 324.0 339.5 325.0 338.0 326.0 339.8 327.0 344.1 328.0 349.5 329.0 354.4 330.0 357.4 331.0 357.3 332.0 355.3 333.0 351.9 334.0 347.4 335.0 341.9 336.0 335.7 337.0 329.0 338.0 322.0 339.0 311.1 340.0 295.3 341.0 278.9 342.0 265.9 343.0 260.6 344.0 266.2 345.0 279.4 346.0 295.5 347.0 309.6 348.0 317.7 349.0 322.9 350.0 326.6 351.0 329.3 352.0 331.7 353.0 334.3 354.0 337.8 355.0 343.6 356.0 351.1 357.0 359.0 358.0 365.8 359.0 369.5 360.0 369.4 361.0 367.1 362.0 363.5 363.0 359.5 364.0 356.0 365.0 353.9 366.0 356.5 367.0 364.1 368.0 367.1 369.0 363.9 370.0 358.8 371.0 356.1 372.0 355.4 373.0 352.5 374.0 347.8 375.0 342.1 376.0 336.3 377.0 331.7 378.0 329.3 379.0 331.7 380.0 338.7 381.0 349.2 382.0 361.0 383.0 371.3 384.0 379.1 385.0 385.6 386.0 390.4 387.0 393.1 388.0 393.3 389.0 391.1 390.0 387.5 391.0 382.5 392.0 376.2 393.0 368.8 394.0 360.8 395.0 354.7 396.0 350.2 397.0 345.8 398.0 342.2 399.0 340.0 400.0 339.7 401.0 340.3 402.0 343.9 403.0 350.0 404.0 357.3 405.0 364.7 406.0 371.4 407.0 376.9 408.0 380.9 409.0 380.6 410.0 376.3 411.0 368.5 412.0 359.3 413.0 352.5 414.0 349.1 415.0 348.2 416.0 350.8 417.0 356.9 418.0 365.7 419.0 375.6 420.0 385.3 421.0 394.5 422.0 403.5 423.0 409.3 424.0 409.2 425.0 403.2 426.0 393.2 427.0 380.9 428.0 369.1 429.0 358.6 430.0 352.6 431.0 350.9 432.0 349.4 433.0 345.3 434.0 337.3 435.0 328.8 436.0 321.8 437.0 316.5 438.0 314.8 439.0 319.2 440.0 324.6 441.0 339.1 442.0 354.6 443.0 362.9 444.0 361.8 445.0 358.8 446.0 362.0 447.0 370.0 448.0 379.1 449.0 386.6 450.0 388.7 451.0 381.7 452.0 368.4 453.0 352.0 454.0 325.9 455.0 290.2 456.0 258.5 457.0 244.8 458.0 258.9 459.0 288.1 460.0 319.4 461.0 341.8 462.0 347.3 463.0 350.0 464.0 351.6 465.0 351.6 466.0 350.3 467.0 349.0 468.0 348.3 469.0 345.7 470.0 345.7 471.0 345.8 472.0 345.5 473.0 341.0 474.0 329.9 475.0 313.1 476.0 289.2 477.0 257.0 478.0 228.3 479.0 211.8 480.0 207.7 481.0 217.5 482.0 236.0 483.0 256.0 484.0 270.0 485.0 278.9 486.0 291.4 487.0 303.0 488.0 313.7 489.0 325.1 490.0 334.6 491.0 342.9 492.0 350.6 493.0 361.5 494.0 374.2 495.0 385.2 496.0 391.2 497.0 392.2 498.0 390.0 499.0 385.6 500.0 379.7 501.0 370.8 502.0 361.7 503.0 350.9 504.0 340.2 505.0 333.1 506.0 325.8 507.0 316.2 508.0 304.0 509.0 292.4 510.0 284.7 511.0 281.5 512.0 281.7 513.0 288.2 514.0 296.4 515.0 302.2 516.0 302.0 517.0 297.2 518.0 292.0 519.0 290.2 520.0 290.6 521.0 292.8 522.0 296.8 523.0 301.9 524.0 308.4 525.0 323.6 526.0 340.1 527.0 345.8 528.0 343.1 529.0 337.4 530.0 332.5 531.0 328.9 532.0 323.8 533.0 315.0 534.0 301.7 535.0 287.4 536.0 274.3 537.0 264.7 538.0 260.9 539.0 265.7 540.0 278.9 541.0 302.2 542.0 325.8 543.0 340.2 544.0 339.1 545.0 325.5 546.0 306.6 547.0 290.6 548.0 284.2 549.0 282.7 550.0 284.5 551.0 289.9 552.0 298.4 553.0 308.6 554.0 319.3 555.0 329.5 556.0 337.9 557.0 343.0 558.0 344.4 559.0 342.7 560.0 338.4 561.0 333.1 562.0 328.4 563.0 325.5 564.0 325.0 565.0 325.5 566.0 326.5 567.0 327.0 568.0 326.3 569.0 323.1 570.0 317.4 571.0 310.0 572.0 302.7 573.0 297.5 574.0 296.3 575.0 300.9 576.0 306.6 577.0 306.1 578.0 298.9 579.0 293.2 580.0 293.5 581.0 296.3 582.0 303.6 583.0 311.4 584.0 317.9 585.0 320.9 586.0 319.7 587.0 316.1 588.0 311.7 589.0 308.0 590.0 307.0 591.0 311.5 592.0 318.5 593.0 323.3 594.0 323.5 595.0 319.2 596.0 313.0 597.0 308.4 598.0 306.9 599.0 306.8 600.0 306.7 601.0 308.8 602.0 312.3 603.0 317.1 604.0 322.2 605.0 327.3 606.0 332.0 607.0 335.9 608.0 337.1 609.0 333.5 610.0 326.0 611.0 314.3 612.0 300.4 613.0 292.3 614.0 293.8 615.0 297.9 616.0 299.6 617.0 295.6 618.0 290.0 619.0 288.2 620.0 293.1 621.0 298.5 622.0 297.6 623.0 292.7 624.0 288.5 625.0 289.1 626.0 294.2 627.0 299.8 628.0 302.6 629.0 303.1 630.0 302.8 631.0 303.2 632.0 306.0 633.0 311.9 634.0 319.4 635.0 327.2 636.0 333.9 637.0 338.4 638.0 340.3 639.0 338.7 640.0 332.9 641.0 325.5 642.0 319.1 643.0 316.2 644.0 319.1 645.0 324.7 646.0 327.2 647.0 323.4 648.0 316.5 649.0 310.1 650.0 307.5 651.0 308.1 652.0 309.8 653.0 311.5 654.0 312.1 655.0 311.9 656.0 311.7 657.0 311.5 658.0 311.9 659.0 313.7 660.0 316.0 661.0 318.2 662.0 319.9 663.0 319.9 664.0 318.8 665.0 317.5 666.0 316.8 667.0 317.4 668.0 320.5 669.0 326.6 670.0 335.7 671.0 345.1 672.0 350.8 673.0 350.6 674.0 345.9 675.0 338.9 676.0 331.3 677.0 324.8 678.0 319.9 679.0 316.7 680.0 315.3 681.0 315.5 682.0 315.7 683.0 315.3 684.0 315.2 685.0 315.9 686.0 322.2 687.0 333.2 688.0 333.5 689.0 324.9 690.0 315.1 691.0 313.2 692.0 312.5 693.0 316.9 694.0 321.9 695.0 325.6 696.0 325.8 697.0 320.8 698.0 312.6 699.0 304.7 700.0 302.8 701.0 308.4 702.0 320.1 703.0 333.9 704.0 341.3 705.0 345.5 706.0 353.0 707.0 367.4 708.0 380.3 709.0 383.4 710.0 378.3 711.0 370.8 712.0 362.2 713.0 353.8 714.0 346.8 715.0 341.0 716.0 335.6 717.0 333.1 718.0 335.1 719.0 342.9 720.0 346.7 721.0 341.6 722.0 337.5 723.0 342.3 724.0 356.0 725.0 369.0 726.0 372.6 727.0 365.9 728.0 356.8 729.0 353.7 730.0 358.6 731.0 364.6 732.0 370.2 733.0 374.4 734.0 376.7 735.0 378.0 736.0 378.5 737.0 379.2 738.0 381.9 739.0 385.3 740.0 388.2 741.0 389.2 742.0 386.9 743.0 382.6 744.0 379.0 745.0 378.7 746.0 385.7 747.0 394.7 748.0 397.0 749.0 391.3 750.0 388.9 751.0 389.6 752.0 389.7 753.0 389.0 754.0 389.1 755.0 390.1 756.0 391.6 757.0 393.1 758.0 396.8 759.0 400.6 760.0 400.6 761.0 394.4 762.0 391.9 763.0 398.6 764.0 407.2 765.0 410.6 766.0 410.4 767.0 408.3 768.0 406.3 769.0 407.1 770.0 411.8 771.0 413.4 772.0 408.3 773.0 401.4 774.0 397.9 775.0 400.3 776.0 404.7 777.0 405.9 778.0 401.1 779.0 394.2 780.0 390.2 781.0 391.6 782.0 395.4 783.0 399.4 784.0 402.9 785.0 405.3 786.0 408.3 787.0 411.9 788.0 413.1 789.0 408.4 790.0 400.6 791.0 394.5 792.0 392.8 793.0 393.5 794.0 394.5 795.0 393.7 796.0 389.5 797.0 386.5 798.0 386.7 799.0 383.2 800.0 375.6 801.0 370.2 802.0 371.8 803.0 380.2 804.0 390.4 805.0 394.8 806.0 392.5 807.0 387.4 808.0 383.1 809.0 382.9 810.0 384.9 811.0 384.9 812.0 382.5 813.0 379.8 814.0 379.7 815.0 380.3 816.0 378.6 817.0 373.9 818.0 371.5 819.0 375.2 820.0 371.7 821.0 368.0 822.0 365.8 823.0 366.7 824.0 369.3 825.0 371.8 826.0 372.3 827.0 369.6 828.0 364.7 829.0 359.3 830.0 354.5 831.0 351.8 832.0 352.7 833.0 356.4 834.0 357.1 835.0 356.3 836.0 354.6 837.0 352.9 838.0 354.5 839.0 357.6 840.0 355.8 841.0 348.3 842.0 339.7 843.0 334.7 844.0 335.9 845.0 342.4 846.0 348.7 847.0 350.0 848.0 346.5 849.0 341.5 850.0 338.3 851.0 339.7 852.0 342.8 853.0 344.9 854.0 344.2 855.0 341.9 856.0 339.8 857.0 339.5 858.0 340.8 859.0 343.0 860.0 345.4 861.0 347.4 862.0 348.3 863.0 347.5 864.0 345.9 865.0 344.2 866.0 343.0 867.0 342.8 868.0 342.8 869.0 342.5 870.0 342.4 871.0 343.1 872.0 345.2 873.0 348.2 874.0 350.9 875.0 352.4 876.0 353.4 877.0 355.2 878.0 361.1 879.0 360.3 880.0 355.4 881.0 355.0 882.0 361.0 883.0 362.7 884.0 361.6 885.0 359.7 886.0 358.6 887.0 359.6 888.0 361.5 889.0 363.0 890.0 364.4 891.0 366.1 892.0 366.3 893.0 364.0 894.0 360.5 895.0 357.3 896.0 354.6 897.0 351.6 898.0 349.2 899.0 348.4 900.0 349.3 901.0 350.9 902.0 352.6 903.0 353.7 904.0 355.1 905.0 356.8 906.0 358.6 907.0 360.0 908.0 360.0 909.0 357.8 910.0 355.6 911.0 354.6 912.0 353.3 913.0 351.8 914.0 350.7 915.0 350.5 916.0 351.0 917.0 351.7 918.0 353.9 919.0 355.8 920.0 355.1 921.0 349.5 922.0 343.6 923.0 342.6 924.0 345.6 925.0 351.9 926.0 359.7 927.0 367.3 928.0 372.8 929.0 374.5 930.0 370.3 931.0 362.3 932.0 353.7 933.0 347.5 934.0 347.0 935.0 353.5 936.0 364.7 937.0 375.7 938.0 381.3 939.0 377.3 940.0 368.3 941.0 363.3 942.0 361.3 943.0 360.9 944.0 363.0 945.0 367.7 946.0 373.2 947.0 378.2 948.0 382.1 949.0 384.0 950.0 384.9 951.0 385.8 952.0 387.6 953.0 388.5 954.0 389.3 955.0 390.0 956.0 390.6 957.0 391.9 958.0 393.0 959.0 393.0 960.0 392.0 961.0 390.6 962.0 390.0 963.0 393.0 964.0 400.0 965.0 408.2 966.0 412.8 967.0 411.9 968.0 408.6 969.0 406.8 970.0 410.0 971.0 416.4 972.0 421.8 973.0 422.6 974.0 419.7 975.0 416.9 976.0 416.9 977.0 419.6 978.0 423.2 979.0 426.2 980.0 427.4 981.0 427.0 982.0 426.8 983.0 428.4 984.0 432.1 985.0 436.4 986.0 439.6 987.0 440.1 988.0 438.1 989.0 435.8 990.0 435.4 991.0 437.5 992.0 439.6 993.0 439.0 994.0 436.2 995.0 433.4 996.0 432.9 997.0 435.0 998.0 437.2 999.0 437.2 1000.0 436.0 1001.0 435.5 1002.0 436.4 1003.0 438.0 1004.0 439.8 1005.0 441.1 1006.0 442.6 1007.0 444.0 1008.0 444.6 1009.0 444.7 1010.0 445.0 1011.0 446.3 1012.0 447.8 1013.0 448.4 1014.0 448.7 1015.0 449.0 1016.0 449.2 1017.0 449.3 1018.0 449.3 L1019 482Z" fill="url(#g8)"/></g>
</svg>
<div style="position:absolute;left:473px;top:11.5px;font-size:13.5px;color:#1e1e1e;font-family:'Liberation Sans',sans-serif; letter-spacing:-0.1px;-webkit-text-stroke:0.45px #1e1e1e">Spectral Decay</div>
<div style="position:absolute;left:12.5px;top:0px;font-size:7.5px;color:#444;font-family:'Liberation Sans',sans-serif; transform:scaleX(0.88);transform-origin:left">SPL</div>
<div style="position:absolute;right:1001.0px;top:438.7px;font-size:8px;line-height:8px;color:#444;font-family:'Liberation Sans',sans-serif; transform:scaleX(0.8);transform-origin:right">35</div>
<div style="position:absolute;right:1001.0px;top:405.5px;font-size:8px;line-height:8px;color:#444;font-family:'Liberation Sans',sans-serif; transform:scaleX(0.8);transform-origin:right">40</div>
<div style="position:absolute;right:1001.0px;top:372.2px;font-size:8px;line-height:8px;color:#444;font-family:'Liberation Sans',sans-serif; transform:scaleX(0.8);transform-origin:right">45</div>
<div style="position:absolute;right:1001.0px;top:339.0px;font-size:8px;line-height:8px;color:#444;font-family:'Liberation Sans',sans-serif; transform:scaleX(0.8);transform-origin:right">50</div>
<div style="position:absolute;right:1001.0px;top:305.7px;font-size:8px;line-height:8px;color:#444;font-family:'Liberation Sans',sans-serif; transform:scaleX(0.8);transform-origin:right">55</div>
<div style="position:absolute;right:1001.0px;top:272.5px;font-size:8px;line-height:8px;color:#444;font-family:'Liberation Sans',sans-serif; transform:scaleX(0.8);transform-origin:right">60</div>
<div style="position:absolute;right:1001.0px;top:239.2px;font-size:8px;line-height:8px;color:#444;font-family:'Liberation Sans',sans-serif; transform:scaleX(0.8);transform-origin:right">65</div>
<div style="position:absolute;right:1001.0px;top:205.9px;font-size:8px;line-height:8px;color:#444;font-family:'Liberation Sans',sans-serif; transform:scaleX(0.8);transform-origin:right">70</div>
<div style="position:absolute;right:1001.0px;top:172.7px;font-size:8px;line-height:8px;color:#444;font-family:'Liberation Sans',sans-serif; transform:scaleX(0.8);transform-origin:right">75</div>
<div style="position:absolute;right:1001.0px;top:139.4px;font-size:8px;line-height:8px;color:#444;font-family:'Liberation Sans',sans-serif; transform:scaleX(0.8);transform-origin:right">80</div>
<div style="position:absolute;right:1001.0px;top:106.2px;font-size:8px;line-height:8px;color:#444;font-family:'Liberation Sans',sans-serif; transform:scaleX(0.8);transform-origin:right">85</div>
<div style="position:absolute;right:1001.0px;top:72.9px;font-size:8px;line-height:8px;color:#444;font-family:'Liberation Sans',sans-serif; transform:scaleX(0.8);transform-origin:right">90</div>
<div style="position:absolute;right:1001.0px;top:39.7px;font-size:8px;line-height:8px;color:#444;font-family:'Liberation Sans',sans-serif; transform:scaleX(0.8);transform-origin:right">95</div>
<div style="position:absolute;left:24.2px;top:479px;width:60px;margin-left:-30px;text-align:center;font-size:8px;line-height:9px;color:#333;font-family:'Liberation Sans',sans-serif; transform:scaleX(0.85)">10</div>
<div style="position:absolute;left:114.3px;top:479px;width:60px;margin-left:-30px;text-align:center;font-size:8px;line-height:9px;color:#333;font-family:'Liberation Sans',sans-serif; transform:scaleX(0.85)">20</div>
<div style="position:absolute;left:167.1px;top:479px;width:60px;margin-left:-30px;text-align:center;font-size:8px;line-height:9px;color:#333;font-family:'Liberation Sans',sans-serif; transform:scaleX(0.85)">30</div>
<div style="position:absolute;left:204.5px;top:479px;width:60px;margin-left:-30px;text-align:center;font-size:8px;line-height:9px;color:#333;font-family:'Liberation Sans',sans-serif; transform:scaleX(0.85)">40</div>
<div style="position:absolute;left:233.5px;top:479px;width:60px;margin-left:-30px;text-align:center;font-size:8px;line-height:9px;color:#333;font-family:'Liberation Sans',sans-serif; transform:scaleX(0.85)">50</div>
<div style="position:absolute;left:257.2px;top:479px;width:60px;margin-left:-30px;text-align:center;font-size:8px;line-height:9px;color:#333;font-family:'Liberation Sans',sans-serif; transform:scaleX(0.85)">60</div>
<div style="position:absolute;left:277.2px;top:479px;width:60px;margin-left:-30px;text-align:center;font-size:8px;line-height:9px;color:#333;font-family:'Liberation Sans',sans-serif; transform:scaleX(0.85)">70</div>
<div style="position:absolute;left:294.6px;top:479px;width:60px;margin-left:-30px;text-align:center;font-size:8px;line-height:9px;color:#333;font-family:'Liberation Sans',sans-serif; transform:scaleX(0.85)">80</div>
<div style="position:absolute;left:309.9px;top:479px;width:60px;margin-left:-30px;text-align:center;font-size:8px;line-height:9px;color:#333;font-family:'Liberation Sans',sans-serif; transform:scaleX(0.85)">90</div>
<div style="position:absolute;left:323.6px;top:479px;width:60px;margin-left:-30px;text-align:center;font-size:8px;line-height:9px;color:#333;font-family:'Liberation Sans',sans-serif; transform:scaleX(0.85)">100</div>
<div style="position:absolute;left:413.8px;top:479px;width:60px;margin-left:-30px;text-align:center;font-size:8px;line-height:9px;color:#333;font-family:'Liberation Sans',sans-serif; transform:scaleX(0.85)">200</div>
<div style="position:absolute;left:466.5px;top:479px;width:60px;margin-left:-30px;text-align:center;font-size:8px;line-height:9px;color:#333;font-family:'Liberation Sans',sans-serif; transform:scaleX(0.85)">300</div>
<div style="position:absolute;left:503.9px;top:479px;width:60px;margin-left:-30px;text-align:center;font-size:8px;line-height:9px;color:#333;font-family:'Liberation Sans',sans-serif; transform:scaleX(0.85)">400</div>
<div style="position:absolute;left:532.9px;top:479px;width:60px;margin-left:-30px;text-align:center;font-size:8px;line-height:9px;color:#333;font-family:'Liberation Sans',sans-serif; transform:scaleX(0.85)">500</div>
<div style="position:absolute;left:556.6px;top:479px;width:60px;margin-left:-30px;text-align:center;font-size:8px;line-height:9px;color:#333;font-family:'Liberation Sans',sans-serif; transform:scaleX(0.85)">600</div>
<div style="position:absolute;left:576.7px;top:479px;width:60px;margin-left:-30px;text-align:center;font-size:8px;line-height:9px;color:#333;font-family:'Liberation Sans',sans-serif; transform:scaleX(0.85)">700</div>
<div style="position:absolute;left:594.0px;top:479px;width:60px;margin-left:-30px;text-align:center;font-size:8px;line-height:9px;color:#333;font-family:'Liberation Sans',sans-serif; transform:scaleX(0.85)">800</div>
<div style="position:absolute;left:609.3px;top:479px;width:60px;margin-left:-30px;text-align:center;font-size:8px;line-height:9px;color:#333;font-family:'Liberation Sans',sans-serif; transform:scaleX(0.85)">900</div>
<div style="position:absolute;left:623.0px;top:479px;width:60px;margin-left:-30px;text-align:center;font-size:8px;line-height:9px;color:#333;font-family:'Liberation Sans',sans-serif; transform:scaleX(0.85)">1k</div>
<div style="position:absolute;left:713.2px;top:479px;width:60px;margin-left:-30px;text-align:center;font-size:8px;line-height:9px;color:#333;font-family:'Liberation Sans',sans-serif; transform:scaleX(0.85)">2k</div>
<div style="position:absolute;left:765.9px;top:479px;width:60px;margin-left:-30px;text-align:center;font-size:8px;line-height:9px;color:#333;font-family:'Liberation Sans',sans-serif; transform:scaleX(0.85)">3k</div>
<div style="position:absolute;left:803.3px;top:479px;width:60px;margin-left:-30px;text-align:center;font-size:8px;line-height:9px;color:#333;font-family:'Liberation Sans',sans-serif; transform:scaleX(0.85)">4k</div>
<div style="position:absolute;left:832.3px;top:479px;width:60px;margin-left:-30px;text-align:center;font-size:8px;line-height:9px;color:#333;font-family:'Liberation Sans',sans-serif; transform:scaleX(0.85)">5k</div>
<div style="position:absolute;left:856.0px;top:479px;width:60px;margin-left:-30px;text-align:center;font-size:8px;line-height:9px;color:#333;font-family:'Liberation Sans',sans-serif; transform:scaleX(0.85)">6k</div>
<div style="position:absolute;left:876.1px;top:479px;width:60px;margin-left:-30px;text-align:center;font-size:8px;line-height:9px;color:#333;font-family:'Liberation Sans',sans-serif; transform:scaleX(0.85)">7k</div>
<div style="position:absolute;left:893.4px;top:479px;width:60px;margin-left:-30px;text-align:center;font-size:8px;line-height:9px;color:#333;font-family:'Liberation Sans',sans-serif; transform:scaleX(0.85)">8k</div>
<div style="position:absolute;left:908.8px;top:479px;width:60px;margin-left:-30px;text-align:center;font-size:8px;line-height:9px;color:#333;font-family:'Liberation Sans',sans-serif; transform:scaleX(0.85)">9k</div>
<div style="position:absolute;left:922.5px;top:479px;width:60px;margin-left:-30px;text-align:center;font-size:8px;line-height:9px;color:#333;font-family:'Liberation Sans',sans-serif; transform:scaleX(0.85)">10k</div>
<div style="position:absolute;left:956.6px;top:479px;width:60px;margin-left:-30px;text-align:center;font-size:8px;line-height:9px;color:#9a9a9a;font-family:'Liberation Sans',sans-serif; transform:scaleX(0.85)">13k</div>
<div style="position:absolute;left:975.2px;top:479px;width:60px;margin-left:-30px;text-align:center;font-size:8px;line-height:9px;color:#9a9a9a;font-family:'Liberation Sans',sans-serif; transform:scaleX(0.85)">15k</div>
<div style="position:absolute;left:991.5px;top:479px;width:60px;margin-left:-30px;text-align:center;font-size:8px;line-height:9px;color:#9a9a9a;font-family:'Liberation Sans',sans-serif; transform:scaleX(0.85)">17k</div>
<div style="position:absolute;left:1012.6px;top:479px;width:60px;margin-left:-30px;text-align:center;font-size:8px;line-height:9px;color:#333;font-family:'Liberation Sans',sans-serif; transform:scaleX(0.85)">20kHz</div>
<div style="position:absolute;left:4.3px;top:491.5px;width:6px;height:6px;border:1.2px solid #3c94ee;border-radius:2.5px;background:#f4f9ff"></div>
<svg style="position:absolute;left:4.3px;top:491.3px" width="8" height="8"><path d="M1.8 4.2 L3.4 5.8 L6.4 1.8" fill="none" stroke="#1a5fd0" stroke-width="1.1"/></svg>
<div style="position:absolute;left:14.5px;top:491.1px;font-size:8px;line-height:9px;color:#ff2a3a;font-family:'Liberation Sans',sans-serif; white-space:nowrap;transform:scaleX(0.83);transform-origin:left">R 7항 28</div>
<div style="position:absolute;left:117.0px;top:494.6px;width:30px;height:2.0px;background:#ff3040"></div>
<div style="position:absolute;left:136.0px;top:491.1px;width:60px;text-align:right;font-size:8px;line-height:9px;color:#ff2a3a;font-family:'Liberation Sans',sans-serif; white-space:nowrap;transform:scaleX(0.83);transform-origin:right">80.1 dB</div>
<div style="position:absolute;left:216.3px;top:491.5px;width:6px;height:6px;border:1.2px solid #3c94ee;border-radius:2.5px;background:#f4f9ff"></div>
<svg style="position:absolute;left:216.3px;top:491.3px" width="8" height="8"><path d="M1.8 4.2 L3.4 5.8 L6.4 1.8" fill="none" stroke="#1a5fd0" stroke-width="1.1"/></svg>
<div style="position:absolute;left:230.5px;top:491.1px;font-size:8px;line-height:9px;color:#e8203e;font-family:'Liberation Sans',sans-serif; white-space:nowrap;transform:scaleX(0.83);transform-origin:left">20 ms</div>
<div style="position:absolute;left:329.0px;top:494.6px;width:30px;height:2.0px;background:#e82a48"></div>
<div style="position:absolute;left:348.0px;top:491.1px;width:60px;text-align:right;font-size:8px;line-height:9px;color:#e8203e;font-family:'Liberation Sans',sans-serif; white-space:nowrap;transform:scaleX(0.83);transform-origin:right">80.0 dB</div>
<div style="position:absolute;left:428.3px;top:491.5px;width:6px;height:6px;border:1.2px solid #3c94ee;border-radius:2.5px;background:#f4f9ff"></div>
<svg style="position:absolute;left:428.3px;top:491.3px" width="8" height="8"><path d="M1.8 4.2 L3.4 5.8 L6.4 1.8" fill="none" stroke="#1a5fd0" stroke-width="1.1"/></svg>
<div style="position:absolute;left:442.5px;top:491.1px;font-size:8px;line-height:9px;color:#d8204e;font-family:'Liberation Sans',sans-serif; white-space:nowrap;transform:scaleX(0.83);transform-origin:left">40 ms</div>
<div style="position:absolute;left:541.0px;top:494.6px;width:30px;height:2.0px;background:#dc3058"></div>
<div style="position:absolute;left:560.0px;top:491.1px;width:60px;text-align:right;font-size:8px;line-height:9px;color:#d8204e;font-family:'Liberation Sans',sans-serif; white-space:nowrap;transform:scaleX(0.83);transform-origin:right">78.6 dB</div>
<div style="position:absolute;left:640.3px;top:491.5px;width:6px;height:6px;border:1.2px solid #3c94ee;border-radius:2.5px;background:#f4f9ff"></div>
<svg style="position:absolute;left:640.3px;top:491.3px" width="8" height="8"><path d="M1.8 4.2 L3.4 5.8 L6.4 1.8" fill="none" stroke="#1a5fd0" stroke-width="1.1"/></svg>
<div style="position:absolute;left:654.5px;top:491.1px;font-size:8px;line-height:9px;color:#c42c66;font-family:'Liberation Sans',sans-serif; white-space:nowrap;transform:scaleX(0.83);transform-origin:left">60 ms</div>
<div style="position:absolute;left:753.0px;top:494.6px;width:30px;height:2.0px;background:#c83a70"></div>
<div style="position:absolute;left:772.0px;top:491.1px;width:60px;text-align:right;font-size:8px;line-height:9px;color:#c42c66;font-family:'Liberation Sans',sans-serif; white-space:nowrap;transform:scaleX(0.83);transform-origin:right">74.9 dB</div>
<div style="position:absolute;left:4.3px;top:503.4px;width:6px;height:6px;border:1.2px solid #3c94ee;border-radius:2.5px;background:#f4f9ff"></div>
<svg style="position:absolute;left:4.3px;top:503.2px" width="8" height="8"><path d="M1.8 4.2 L3.4 5.8 L6.4 1.8" fill="none" stroke="#1a5fd0" stroke-width="1.1"/></svg>
<div style="position:absolute;left:18.5px;top:503.0px;font-size:8px;line-height:9px;color:#a0309a;font-family:'Liberation Sans',sans-serif; white-space:nowrap;transform:scaleX(0.83);transform-origin:left">80 ms</div>
<div style="position:absolute;left:117.0px;top:506.8px;width:30px;height:1.5px;background:#801a78"></div>
<div style="position:absolute;left:136.0px;top:503.0px;width:60px;text-align:right;font-size:8px;line-height:9px;color:#a0309a;font-family:'Liberation Sans',sans-serif; white-space:nowrap;transform:scaleX(0.83);transform-origin:right">68.1 dB</div>
<div style="position:absolute;left:216.3px;top:503.4px;width:6px;height:6px;border:1.2px solid #3c94ee;border-radius:2.5px;background:#f4f9ff"></div>
<svg style="position:absolute;left:216.3px;top:503.2px" width="8" height="8"><path d="M1.8 4.2 L3.4 5.8 L6.4 1.8" fill="none" stroke="#1a5fd0" stroke-width="1.1"/></svg>
<div style="position:absolute;left:230.5px;top:503.0px;font-size:8px;line-height:9px;color:#8430b0;font-family:'Liberation Sans',sans-serif; white-space:nowrap;transform:scaleX(0.83);transform-origin:left">100 ms</div>
<div style="position:absolute;left:329.0px;top:506.8px;width:30px;height:1.5px;background:#6a18a0"></div>
<div style="position:absolute;left:348.0px;top:503.0px;width:60px;text-align:right;font-size:8px;line-height:9px;color:#8430b0;font-family:'Liberation Sans',sans-serif; white-space:nowrap;transform:scaleX(0.83);transform-origin:right">54.8 dB</div>
<div style="position:absolute;left:428.3px;top:503.4px;width:6px;height:6px;border:1.2px solid #3c94ee;border-radius:2.5px;background:#f4f9ff"></div>
<svg style="position:absolute;left:428.3px;top:503.2px" width="8" height="8"><path d="M1.8 4.2 L3.4 5.8 L6.4 1.8" fill="none" stroke="#1a5fd0" stroke-width="1.1"/></svg>
<div style="position:absolute;left:442.5px;top:503.0px;font-size:8px;line-height:9px;color:#6a30c4;font-family:'Liberation Sans',sans-serif; white-space:nowrap;transform:scaleX(0.83);transform-origin:left">120 ms</div>
<div style="position:absolute;left:541.0px;top:506.8px;width:30px;height:1.5px;background:#5018b8"></div>
<div style="position:absolute;left:560.0px;top:503.0px;width:60px;text-align:right;font-size:8px;line-height:9px;color:#6a30c4;font-family:'Liberation Sans',sans-serif; white-space:nowrap;transform:scaleX(0.83);transform-origin:right">43.7 dB</div>
<div style="position:absolute;left:640.3px;top:503.4px;width:6px;height:6px;border:1.2px solid #3c94ee;border-radius:2.5px;background:#f4f9ff"></div>
<svg style="position:absolute;left:640.3px;top:503.2px" width="8" height="8"><path d="M1.8 4.2 L3.4 5.8 L6.4 1.8" fill="none" stroke="#1a5fd0" stroke-width="1.1"/></svg>
<div style="position:absolute;left:654.5px;top:503.0px;font-size:8px;line-height:9px;color:#5030d4;font-family:'Liberation Sans',sans-serif; white-space:nowrap;transform:scaleX(0.83);transform-origin:left">140 ms</div>
<div style="position:absolute;left:753.0px;top:506.8px;width:30px;height:1.5px;background:#3418d0"></div>
<div style="position:absolute;left:772.0px;top:503.0px;width:60px;text-align:right;font-size:8px;line-height:9px;color:#5030d4;font-family:'Liberation Sans',sans-serif; white-space:nowrap;transform:scaleX(0.83);transform-origin:right">47.5 dB</div>
<div style="position:absolute;left:4.3px;top:514.9px;width:6px;height:6px;border:1.2px solid #3c94ee;border-radius:2.5px;background:#f4f9ff"></div>
<svg style="position:absolute;left:4.3px;top:514.7px" width="8" height="8"><path d="M1.8 4.2 L3.4 5.8 L6.4 1.8" fill="none" stroke="#1a5fd0" stroke-width="1.1"/></svg>
<div style="position:absolute;left:19.5px;top:515.1px;font-size:8px;line-height:9px;color:#4030e0;font-family:'Liberation Sans',sans-serif; white-space:nowrap;transform:scaleX(0.83);transform-origin:left">160 ms</div>
<div style="position:absolute;left:117.0px;top:518.9px;width:30px;height:1.5px;background:#1a14e0"></div>
<div style="position:absolute;left:136.0px;top:515.1px;width:60px;text-align:right;font-size:8px;line-height:9px;color:#4030e0;font-family:'Liberation Sans',sans-serif; white-space:nowrap;transform:scaleX(0.83);transform-origin:right">48.2 dB</div>
</body></html>
